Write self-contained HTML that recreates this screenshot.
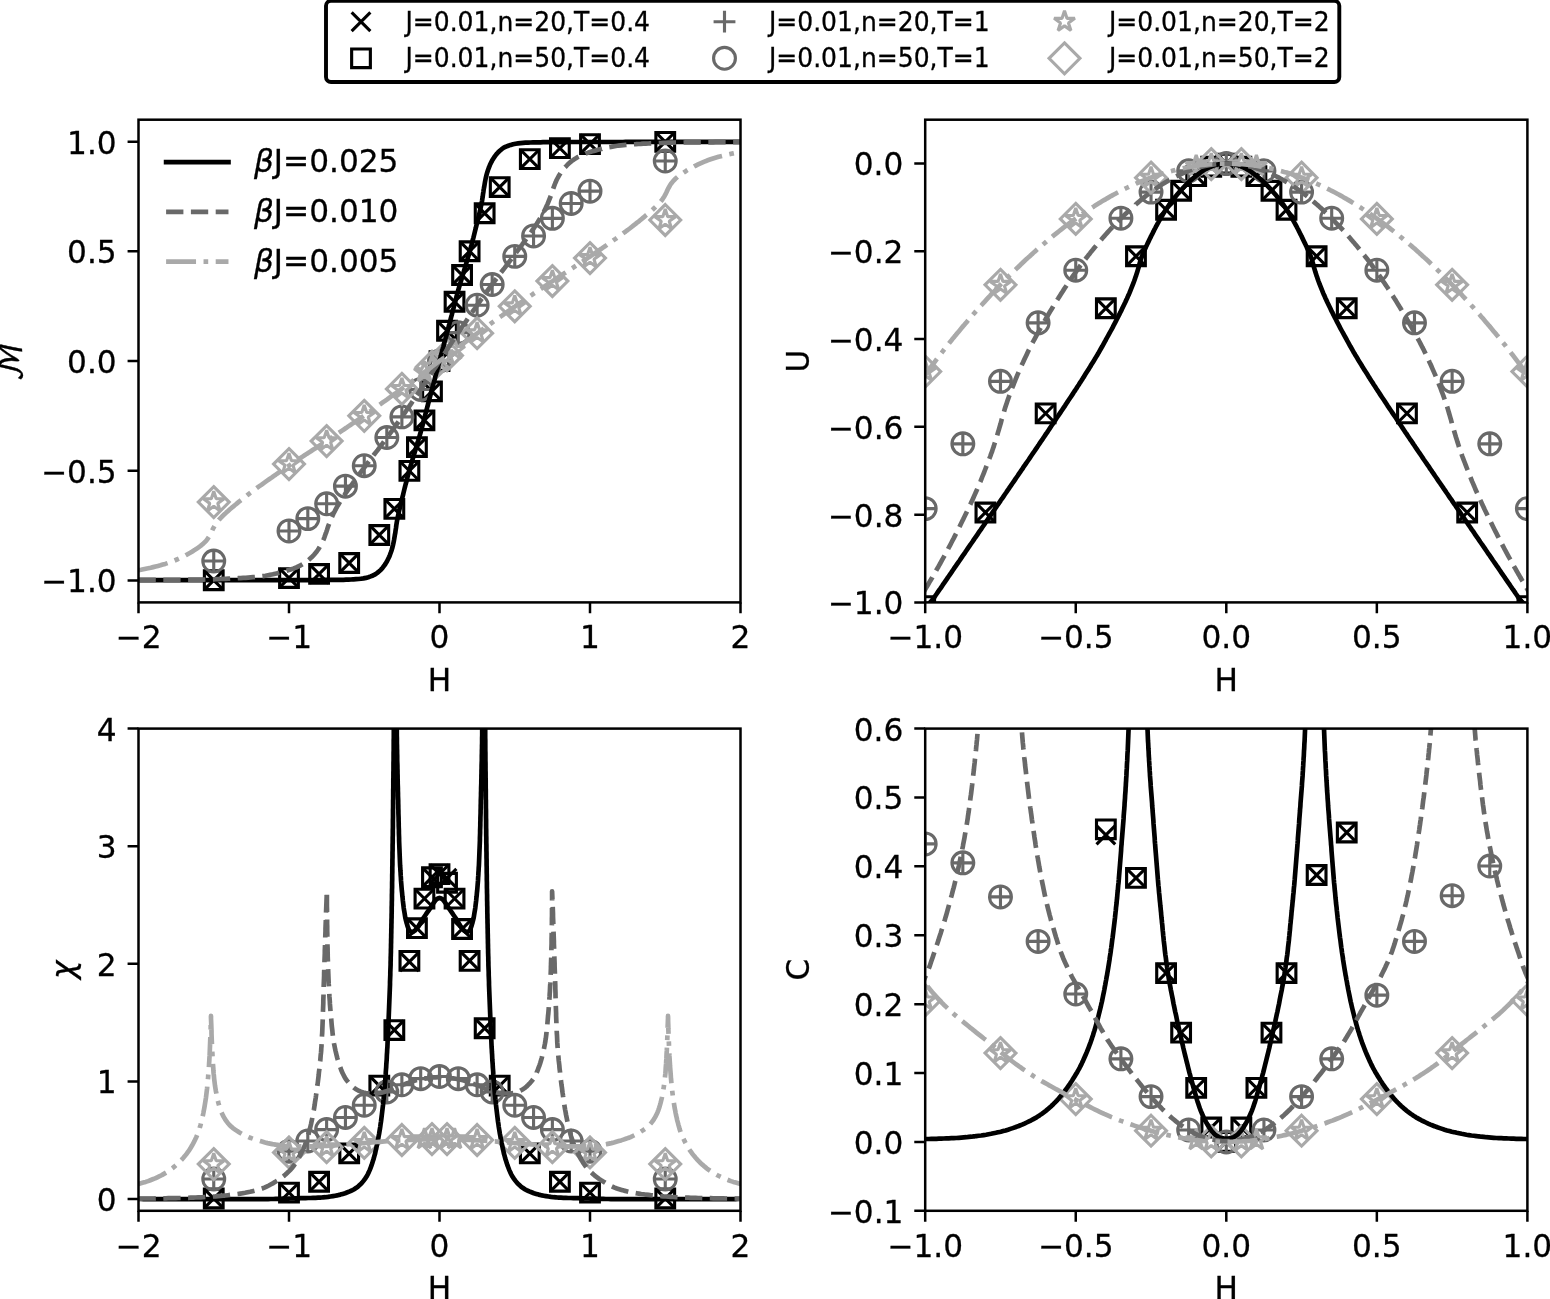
<!DOCTYPE html>
<html lang="en">
<head>
<meta charset="utf-8">
<title>Magnetization, energy, susceptibility and specific heat vs H</title>
<style>
html,body{margin:0;padding:0;background:#fff;}
body{width:1550px;height:1299px;overflow:hidden;}
svg{display:block;}
text{font-family:"DejaVu Sans","Liberation Sans",sans-serif;fill:#000;stroke:#000;stroke-width:0.3px;}
.tk{font-size:31.19px;}
.lg{font-size:24.95px;}
.it{font-size:31.19px;font-style:italic;}
.it2{font-style:italic;}
.cal{font-family:"DejaVu Math TeX Gyre","DejaVu Sans","Liberation Serif",serif;font-size:31.2px;}
</style>
</head>
<body>
<svg width="1550" height="1299" viewBox="0 0 1550 1299">
<rect width="1550" height="1299" fill="#fff"/>
<defs>
<clipPath id="cTL"><rect x="138.5" y="119.7" width="602" height="482.7"/></clipPath>
<clipPath id="cTR"><rect x="925.2" y="119.7" width="602.2" height="482.7"/></clipPath>
<clipPath id="cBL"><rect x="138.5" y="728.6" width="602" height="482.2"/></clipPath>
<clipPath id="cBR"><rect x="925.2" y="728.6" width="602.2" height="482.2"/></clipPath>
</defs>
<g id="axTL">
<g clip-path="url(#cTL)">
<g fill="none" stroke="#000000" stroke-width="3.12" stroke-linejoin="miter">
<path transform="translate(213.75 580.26)" d="M-9.36 -9.36L9.36 9.36M-9.36 9.36L9.36 -9.36"/>
<path transform="translate(289 578.05)" d="M-9.36 -9.36L9.36 9.36M-9.36 9.36L9.36 -9.36"/>
<path transform="translate(319.1 573.94)" d="M-9.36 -9.36L9.36 9.36M-9.36 9.36L9.36 -9.36"/>
<path transform="translate(349.2 563.01)" d="M-9.36 -9.36L9.36 9.36M-9.36 9.36L9.36 -9.36"/>
<path transform="translate(379.3 535.03)" d="M-9.36 -9.36L9.36 9.36M-9.36 9.36L9.36 -9.36"/>
<path transform="translate(394.35 508.85)" d="M-9.36 -9.36L9.36 9.36M-9.36 9.36L9.36 -9.36"/>
<path transform="translate(409.4 470.88)" d="M-9.36 -9.36L9.36 9.36M-9.36 9.36L9.36 -9.36"/>
<path transform="translate(416.93 447.07)" d="M-9.36 -9.36L9.36 9.36M-9.36 9.36L9.36 -9.36"/>
<path transform="translate(424.45 420.32)" d="M-9.36 -9.36L9.36 9.36M-9.36 9.36L9.36 -9.36"/>
<path transform="translate(431.97 391.31)" d="M-9.36 -9.36L9.36 9.36M-9.36 9.36L9.36 -9.36"/>
<path transform="translate(439.5 361.05)" d="M-9.36 -9.36L9.36 9.36M-9.36 9.36L9.36 -9.36"/>
<path transform="translate(447.02 330.79)" d="M-9.36 -9.36L9.36 9.36M-9.36 9.36L9.36 -9.36"/>
<path transform="translate(454.55 301.78)" d="M-9.36 -9.36L9.36 9.36M-9.36 9.36L9.36 -9.36"/>
<path transform="translate(462.07 275.03)" d="M-9.36 -9.36L9.36 9.36M-9.36 9.36L9.36 -9.36"/>
<path transform="translate(469.6 251.22)" d="M-9.36 -9.36L9.36 9.36M-9.36 9.36L9.36 -9.36"/>
<path transform="translate(484.65 213.25)" d="M-9.36 -9.36L9.36 9.36M-9.36 9.36L9.36 -9.36"/>
<path transform="translate(499.7 187.07)" d="M-9.36 -9.36L9.36 9.36M-9.36 9.36L9.36 -9.36"/>
<path transform="translate(529.8 159.09)" d="M-9.36 -9.36L9.36 9.36M-9.36 9.36L9.36 -9.36"/>
<path transform="translate(559.9 148.16)" d="M-9.36 -9.36L9.36 9.36M-9.36 9.36L9.36 -9.36"/>
<path transform="translate(590 144.05)" d="M-9.36 -9.36L9.36 9.36M-9.36 9.36L9.36 -9.36"/>
<path transform="translate(665.25 141.84)" d="M-9.36 -9.36L9.36 9.36M-9.36 9.36L9.36 -9.36"/>
</g>
<g fill="none" stroke="#000000" stroke-width="3.12" stroke-linejoin="miter">
<path transform="translate(213.75 580.26)" d="M-9.36 -9.36H9.36V9.36H-9.36Z"/>
<path transform="translate(289 578.05)" d="M-9.36 -9.36H9.36V9.36H-9.36Z"/>
<path transform="translate(319.1 573.94)" d="M-9.36 -9.36H9.36V9.36H-9.36Z"/>
<path transform="translate(349.2 563.01)" d="M-9.36 -9.36H9.36V9.36H-9.36Z"/>
<path transform="translate(379.3 535.03)" d="M-9.36 -9.36H9.36V9.36H-9.36Z"/>
<path transform="translate(394.35 508.85)" d="M-9.36 -9.36H9.36V9.36H-9.36Z"/>
<path transform="translate(409.4 470.88)" d="M-9.36 -9.36H9.36V9.36H-9.36Z"/>
<path transform="translate(416.93 447.07)" d="M-9.36 -9.36H9.36V9.36H-9.36Z"/>
<path transform="translate(424.45 420.32)" d="M-9.36 -9.36H9.36V9.36H-9.36Z"/>
<path transform="translate(431.97 391.31)" d="M-9.36 -9.36H9.36V9.36H-9.36Z"/>
<path transform="translate(439.5 361.05)" d="M-9.36 -9.36H9.36V9.36H-9.36Z"/>
<path transform="translate(447.02 330.79)" d="M-9.36 -9.36H9.36V9.36H-9.36Z"/>
<path transform="translate(454.55 301.78)" d="M-9.36 -9.36H9.36V9.36H-9.36Z"/>
<path transform="translate(462.07 275.03)" d="M-9.36 -9.36H9.36V9.36H-9.36Z"/>
<path transform="translate(469.6 251.22)" d="M-9.36 -9.36H9.36V9.36H-9.36Z"/>
<path transform="translate(484.65 213.25)" d="M-9.36 -9.36H9.36V9.36H-9.36Z"/>
<path transform="translate(499.7 187.07)" d="M-9.36 -9.36H9.36V9.36H-9.36Z"/>
<path transform="translate(529.8 159.09)" d="M-9.36 -9.36H9.36V9.36H-9.36Z"/>
<path transform="translate(559.9 148.16)" d="M-9.36 -9.36H9.36V9.36H-9.36Z"/>
<path transform="translate(590 144.05)" d="M-9.36 -9.36H9.36V9.36H-9.36Z"/>
<path transform="translate(665.25 141.84)" d="M-9.36 -9.36H9.36V9.36H-9.36Z"/>
</g>
<g fill="none" stroke="#696969" stroke-width="3.12" stroke-linejoin="miter">
<path transform="translate(213.75 561.05)" d="M-10.92 0H10.92M0 -10.92V10.92"/>
<path transform="translate(289 530.94)" d="M-10.92 0H10.92M0 -10.92V10.92"/>
<path transform="translate(307.81 518.61)" d="M-10.92 0H10.92M0 -10.92V10.92"/>
<path transform="translate(326.62 503.76)" d="M-10.92 0H10.92M0 -10.92V10.92"/>
<path transform="translate(345.44 486.16)" d="M-10.92 0H10.92M0 -10.92V10.92"/>
<path transform="translate(364.25 465.71)" d="M-10.92 0H10.92M0 -10.92V10.92"/>
<path transform="translate(386.82 437.55)" d="M-10.92 0H10.92M0 -10.92V10.92"/>
<path transform="translate(401.88 416.88)" d="M-10.92 0H10.92M0 -10.92V10.92"/>
<path transform="translate(420.69 389.45)" d="M-10.92 0H10.92M0 -10.92V10.92"/>
<path transform="translate(439.5 361.05)" d="M-10.92 0H10.92M0 -10.92V10.92"/>
<path transform="translate(458.31 332.65)" d="M-10.92 0H10.92M0 -10.92V10.92"/>
<path transform="translate(477.12 305.22)" d="M-10.92 0H10.92M0 -10.92V10.92"/>
<path transform="translate(492.18 284.55)" d="M-10.92 0H10.92M0 -10.92V10.92"/>
<path transform="translate(514.75 256.39)" d="M-10.92 0H10.92M0 -10.92V10.92"/>
<path transform="translate(533.56 235.94)" d="M-10.92 0H10.92M0 -10.92V10.92"/>
<path transform="translate(552.38 218.34)" d="M-10.92 0H10.92M0 -10.92V10.92"/>
<path transform="translate(571.19 203.49)" d="M-10.92 0H10.92M0 -10.92V10.92"/>
<path transform="translate(590 191.16)" d="M-10.92 0H10.92M0 -10.92V10.92"/>
<path transform="translate(665.25 161.05)" d="M-10.92 0H10.92M0 -10.92V10.92"/>
</g>
<g fill="none" stroke="#696969" stroke-width="3.12" stroke-linejoin="round">
<path transform="translate(213.75 561.05)" d="M-10.92 0A10.92 10.92 0 1 0 10.92 0A10.92 10.92 0 1 0 -10.92 0Z"/>
<path transform="translate(289 530.94)" d="M-10.92 0A10.92 10.92 0 1 0 10.92 0A10.92 10.92 0 1 0 -10.92 0Z"/>
<path transform="translate(307.81 518.61)" d="M-10.92 0A10.92 10.92 0 1 0 10.92 0A10.92 10.92 0 1 0 -10.92 0Z"/>
<path transform="translate(326.62 503.76)" d="M-10.92 0A10.92 10.92 0 1 0 10.92 0A10.92 10.92 0 1 0 -10.92 0Z"/>
<path transform="translate(345.44 486.16)" d="M-10.92 0A10.92 10.92 0 1 0 10.92 0A10.92 10.92 0 1 0 -10.92 0Z"/>
<path transform="translate(364.25 465.71)" d="M-10.92 0A10.92 10.92 0 1 0 10.92 0A10.92 10.92 0 1 0 -10.92 0Z"/>
<path transform="translate(386.82 437.55)" d="M-10.92 0A10.92 10.92 0 1 0 10.92 0A10.92 10.92 0 1 0 -10.92 0Z"/>
<path transform="translate(401.88 416.88)" d="M-10.92 0A10.92 10.92 0 1 0 10.92 0A10.92 10.92 0 1 0 -10.92 0Z"/>
<path transform="translate(420.69 389.45)" d="M-10.92 0A10.92 10.92 0 1 0 10.92 0A10.92 10.92 0 1 0 -10.92 0Z"/>
<path transform="translate(439.5 361.05)" d="M-10.92 0A10.92 10.92 0 1 0 10.92 0A10.92 10.92 0 1 0 -10.92 0Z"/>
<path transform="translate(458.31 332.65)" d="M-10.92 0A10.92 10.92 0 1 0 10.92 0A10.92 10.92 0 1 0 -10.92 0Z"/>
<path transform="translate(477.12 305.22)" d="M-10.92 0A10.92 10.92 0 1 0 10.92 0A10.92 10.92 0 1 0 -10.92 0Z"/>
<path transform="translate(492.18 284.55)" d="M-10.92 0A10.92 10.92 0 1 0 10.92 0A10.92 10.92 0 1 0 -10.92 0Z"/>
<path transform="translate(514.75 256.39)" d="M-10.92 0A10.92 10.92 0 1 0 10.92 0A10.92 10.92 0 1 0 -10.92 0Z"/>
<path transform="translate(533.56 235.94)" d="M-10.92 0A10.92 10.92 0 1 0 10.92 0A10.92 10.92 0 1 0 -10.92 0Z"/>
<path transform="translate(552.38 218.34)" d="M-10.92 0A10.92 10.92 0 1 0 10.92 0A10.92 10.92 0 1 0 -10.92 0Z"/>
<path transform="translate(571.19 203.49)" d="M-10.92 0A10.92 10.92 0 1 0 10.92 0A10.92 10.92 0 1 0 -10.92 0Z"/>
<path transform="translate(590 191.16)" d="M-10.92 0A10.92 10.92 0 1 0 10.92 0A10.92 10.92 0 1 0 -10.92 0Z"/>
<path transform="translate(665.25 161.05)" d="M-10.92 0A10.92 10.92 0 1 0 10.92 0A10.92 10.92 0 1 0 -10.92 0Z"/>
</g>
<g fill="none" stroke="#a9a9a9" stroke-width="3.12" stroke-linejoin="bevel">
<path transform="translate(213.75 502.08)" d="M0 -10.92L-2.45 -3.37L-10.38 -3.37L-3.97 1.29L-6.42 8.83L-0 4.17L6.42 8.83L3.97 1.29L10.38 -3.37L2.45 -3.37Z"/>
<path transform="translate(289 464.06)" d="M0 -10.92L-2.45 -3.37L-10.38 -3.37L-3.97 1.29L-6.42 8.83L-0 4.17L6.42 8.83L3.97 1.29L10.38 -3.37L2.45 -3.37Z"/>
<path transform="translate(326.62 441.07)" d="M0 -10.92L-2.45 -3.37L-10.38 -3.37L-3.97 1.29L-6.42 8.83L-0 4.17L6.42 8.83L3.97 1.29L10.38 -3.37L2.45 -3.37Z"/>
<path transform="translate(364.25 415.82)" d="M0 -10.92L-2.45 -3.37L-10.38 -3.37L-3.97 1.29L-6.42 8.83L-0 4.17L6.42 8.83L3.97 1.29L10.38 -3.37L2.45 -3.37Z"/>
<path transform="translate(401.88 388.88)" d="M0 -10.92L-2.45 -3.37L-10.38 -3.37L-3.97 1.29L-6.42 8.83L-0 4.17L6.42 8.83L3.97 1.29L10.38 -3.37L2.45 -3.37Z"/>
<path transform="translate(424.45 372.23)" d="M0 -10.92L-2.45 -3.37L-10.38 -3.37L-3.97 1.29L-6.42 8.83L-0 4.17L6.42 8.83L3.97 1.29L10.38 -3.37L2.45 -3.37Z"/>
<path transform="translate(431.97 366.65)" d="M0 -10.92L-2.45 -3.37L-10.38 -3.37L-3.97 1.29L-6.42 8.83L-0 4.17L6.42 8.83L3.97 1.29L10.38 -3.37L2.45 -3.37Z"/>
<path transform="translate(447.02 355.45)" d="M0 -10.92L-2.45 -3.37L-10.38 -3.37L-3.97 1.29L-6.42 8.83L-0 4.17L6.42 8.83L3.97 1.29L10.38 -3.37L2.45 -3.37Z"/>
<path transform="translate(454.55 349.87)" d="M0 -10.92L-2.45 -3.37L-10.38 -3.37L-3.97 1.29L-6.42 8.83L-0 4.17L6.42 8.83L3.97 1.29L10.38 -3.37L2.45 -3.37Z"/>
<path transform="translate(477.12 333.22)" d="M0 -10.92L-2.45 -3.37L-10.38 -3.37L-3.97 1.29L-6.42 8.83L-0 4.17L6.42 8.83L3.97 1.29L10.38 -3.37L2.45 -3.37Z"/>
<path transform="translate(514.75 306.28)" d="M0 -10.92L-2.45 -3.37L-10.38 -3.37L-3.97 1.29L-6.42 8.83L-0 4.17L6.42 8.83L3.97 1.29L10.38 -3.37L2.45 -3.37Z"/>
<path transform="translate(552.38 281.03)" d="M0 -10.92L-2.45 -3.37L-10.38 -3.37L-3.97 1.29L-6.42 8.83L-0 4.17L6.42 8.83L3.97 1.29L10.38 -3.37L2.45 -3.37Z"/>
<path transform="translate(590 258.04)" d="M0 -10.92L-2.45 -3.37L-10.38 -3.37L-3.97 1.29L-6.42 8.83L-0 4.17L6.42 8.83L3.97 1.29L10.38 -3.37L2.45 -3.37Z"/>
<path transform="translate(665.25 220.02)" d="M0 -10.92L-2.45 -3.37L-10.38 -3.37L-3.97 1.29L-6.42 8.83L-0 4.17L6.42 8.83L3.97 1.29L10.38 -3.37L2.45 -3.37Z"/>
</g>
<g fill="none" stroke="#a9a9a9" stroke-width="3.12" stroke-linejoin="miter">
<path transform="translate(213.75 502.08)" d="M0 -15.44L15.44 0L0 15.44L-15.44 0Z"/>
<path transform="translate(289 464.06)" d="M0 -15.44L15.44 0L0 15.44L-15.44 0Z"/>
<path transform="translate(326.62 441.07)" d="M0 -15.44L15.44 0L0 15.44L-15.44 0Z"/>
<path transform="translate(364.25 415.82)" d="M0 -15.44L15.44 0L0 15.44L-15.44 0Z"/>
<path transform="translate(401.88 388.88)" d="M0 -15.44L15.44 0L0 15.44L-15.44 0Z"/>
<path transform="translate(431.97 366.65)" d="M0 -15.44L15.44 0L0 15.44L-15.44 0Z"/>
<path transform="translate(447.02 355.45)" d="M0 -15.44L15.44 0L0 15.44L-15.44 0Z"/>
<path transform="translate(477.12 333.22)" d="M0 -15.44L15.44 0L0 15.44L-15.44 0Z"/>
<path transform="translate(514.75 306.28)" d="M0 -15.44L15.44 0L0 15.44L-15.44 0Z"/>
<path transform="translate(552.38 281.03)" d="M0 -15.44L15.44 0L0 15.44L-15.44 0Z"/>
<path transform="translate(590 258.04)" d="M0 -15.44L15.44 0L0 15.44L-15.44 0Z"/>
<path transform="translate(665.25 220.02)" d="M0 -15.44L15.44 0L0 15.44L-15.44 0Z"/>
</g>
<path d="M138.5 580.2 141 580.2 143.5 580.2 146 580.2 148.5 580.2 151 580.2 153.5 580.2 156 580.2 158.5 580.2 161 580.2 163.5 580.2 166 580.2 168.5 580.2 171 580.2 173.5 580.2 176 580.2 178.5 580.2 181 580.2 183.5 580.2 186 580.2 188.5 580.2 191 580.2 193.5 580.2 196 580.2 198.5 580.2 201 580.2 203.5 580.2 206 580.2 208.5 580.2 211 580.2 213.5 580.2 213.8 580.2 216 580.2 218.5 580.2 221 580.2 223.5 580.2 226 580.2 228.5 580.2 231 580.2 233.5 580.2 236 580.2 238.5 580.2 241 580.2 243.5 580.2 246 580.2 248.5 580.2 251 580.2 253.5 580.2 256 580.1 258.5 580.1 261 580.1 263.5 580.1 266 580.1 268.5 580.1 271 580.1 273.5 580.1 276 580.1 278.5 580.1 281 580.1 283.5 580.1 286 580.1 288.5 580.1 289 580.1 291 580.1 293.5 580.1 296 580.1 298.5 580.1 301 580.1 303.5 580.1 306 580.1 308.5 580.1 311 580 313.5 580 316 580 318.5 580 321 580 323.5 580 326 579.9 328.5 579.9 331 579.9 332.4 579.9 333.5 579.9 336 579.9 338.5 579.8 341 579.8 342.7 579.8 343.5 579.8 346 579.7 348.5 579.6 351 579.5 353 579.4 353.5 579.4 356 579.2 358.5 579 361 578.7 363.4 578.4 363.4 578.4 365.9 577.9 368.3 577.2 370.7 576.4 373 575.5 373.6 575.2 375.2 574.4 377.3 572.9 379.2 571.3 380.5 570.1 381 569.6 382.7 567.7 384.2 565.7 385.6 563.6 385.9 563.1 386.9 561.5 388 559.3 389.1 557 389.8 555.3 390 554.7 390.9 552.3 391.7 549.9 392.4 547.5 392.9 545.4 393 545.1 393.5 542.7 394 540.2 394.4 537.8 394.8 535.3 395.1 533.7 395.3 532.8 395.6 530.3 396 527.9 396.3 525.4 396.7 522.9 397 521 397.1 520.5 397.6 518 398.1 515.6 398.6 513.1 399.1 510.7 399.6 508.8 399.7 508.2 400.3 505.8 400.9 503.4 401.5 500.9 402.1 498.5 402.7 496.1 403.2 494.3 403.3 493.7 403.9 491.3 404.5 488.8 405.1 486.4 405.7 484 406.4 481.6 407 479.1 407.6 476.7 407.9 475.7 408.3 474.3 408.9 471.9 409.6 469.5 410.3 467.1 411 464.7 411.1 464.4 411.7 462.3 412.4 459.9 413.1 457.5 413.8 455.1 414.6 452.7 415.3 450.3 416 447.9 416 447.9 416.7 445.5 417.4 443.1 418.2 440.7 418.9 438.3 419.6 435.9 420.3 433.5 420.9 431.4 420.9 431.1 421.6 428.7 422.3 426.3 422.9 423.9 423.5 421.5 424.2 419.1 424.2 418.9 424.8 416.6 425.4 414.2 426.1 411.8 426.7 409.4 427.3 407 428 404.5 428.6 402.1 429.2 399.7 429.6 398.2 429.9 397.3 430.5 394.9 431.1 392.5 431.8 390 432.4 387.6 433.1 385.2 433.7 382.8 434.4 380.4 435 378 435.6 375.5 436.3 373.1 436.9 370.7 437.6 368.3 438.2 365.9 438.9 363.5 439.5 361.1 439.5 361 440.1 358.6 440.8 356.2 441.4 353.8 442.1 351.4 442.7 349 443.4 346.6 444 344.1 444.6 341.7 445.3 339.3 445.9 336.9 446.6 334.5 447.2 332.1 447.9 329.6 448.5 327.2 449.1 324.8 449.4 323.9 449.8 322.4 450.4 320 451 317.6 451.7 315.1 452.3 312.7 452.9 310.3 453.6 307.9 454.2 305.5 454.8 303.2 454.8 303 455.5 300.6 456.1 298.2 456.7 295.8 457.4 293.4 458.1 291 458.1 290.7 458.7 288.6 459.4 286.2 460.1 283.8 460.8 281.4 461.6 279 462.3 276.6 463 274.2 463 274.2 463.7 271.8 464.4 269.4 465.2 267 465.9 264.6 466.6 262.2 467.3 259.8 467.9 257.7 468 257.4 468.7 255 469.4 252.6 470.1 250.2 470.7 247.8 471.1 246.4 471.4 245.4 472 243 472.6 240.5 473.3 238.1 473.9 235.7 474.5 233.3 475.1 230.8 475.7 228.4 475.8 227.8 476.3 226 476.9 223.6 477.5 221.2 478.1 218.7 478.7 216.3 479.3 213.9 479.4 213.3 479.9 211.4 480.4 209 480.9 206.5 481.4 204.1 481.9 201.6 482 201.1 482.3 199.2 482.7 196.7 483 194.2 483.4 191.8 483.7 189.3 483.9 188.4 484.2 186.8 484.6 184.3 485 181.9 485.5 179.4 486 177 486.1 176.7 486.6 174.6 487.3 172.2 488.1 169.8 489 167.4 489.2 166.8 489.9 165.1 491 162.8 492.1 160.6 493.1 159 493.4 158.5 494.8 156.4 496.3 154.4 498 152.5 498.5 152 499.8 150.8 501.7 149.2 503.8 147.7 505.4 146.9 506 146.6 508.3 145.7 510.7 144.9 513.1 144.2 515.6 143.7 515.6 143.7 518 143.4 520.5 143.1 523 142.9 525.5 142.7 526 142.7 528 142.6 530.5 142.5 533 142.4 535.5 142.3 536.3 142.3 538 142.3 540.5 142.3 543 142.2 545.5 142.2 546.6 142.2 548 142.2 550.5 142.2 553 142.2 555.5 142.1 558 142.1 560.5 142.1 563 142.1 565.5 142.1 568 142.1 570.5 142 573 142 575.5 142 578 142 580.5 142 583 142 585.5 142 588 142 590 142 590.5 142 593 142 595.5 142 598 142 600.5 142 603 142 605.5 142 608 142 610.5 142 613 142 615.5 142 618 142 620.5 142 623 142 625.5 141.9 628 141.9 630.5 141.9 633 141.9 635.5 141.9 638 141.9 640.5 141.9 643 141.9 645.5 141.9 648 141.9 650.5 141.9 653 141.9 655.5 141.9 658 141.9 660.5 141.9 663 141.9 665.2 141.9 665.5 141.9 668 141.9 670.5 141.9 673 141.9 675.5 141.9 678 141.9 680.5 141.9 683 141.9 685.5 141.9 688 141.9 690.5 141.9 693 141.9 695.5 141.9 698 141.9 700.5 141.9 703 141.9 705.5 141.9 708 141.9 710.5 141.9 713 141.9 715.5 141.9 718 141.9 720.5 141.9 723 141.9 725.5 141.9 728 141.9 730.5 141.9 733 141.9 735.5 141.9 738 141.9 740.5 141.9" fill="none" stroke="#000000" stroke-width="4.68" stroke-linejoin="round" stroke-linecap="square"/>
<path d="M138.5 579.9 141 579.9 143.5 579.9 146 579.9 148.5 579.9 151 579.9 153.5 579.9 156 579.9 158.5 579.9 160.9 579.9 163.4 579.9 165.9 579.8 168.4 579.8 170.9 579.8 173.4 579.8 175.9 579.8 178.4 579.8 180.9 579.8 183.4 579.7 185.9 579.7 188.4 579.7 190.9 579.7 193.4 579.7 195.9 579.6 198.4 579.6 198.7 579.6 200.8 579.6 203.3 579.6 205.8 579.5 208.3 579.4 210.8 579.4 213.3 579.3 215.8 579.2 218.3 579.1 220.8 579 223.3 578.9 225.8 578.8 228.3 578.7 229 578.7 230.8 578.6 233.2 578.5 235.7 578.4 238.2 578.2 240.7 578.1 243.2 577.9 245.4 577.8 245.7 577.8 248.2 577.6 250.7 577.4 253 577.2 253.2 577.2 255.6 577 258.1 576.7 260.6 576.4 261.5 576.3 263.1 576.1 265.5 575.7 268 575.2 270 574.9 270.4 574.8 272.9 574.3 275.3 573.7 277.7 573.2 277.8 573.1 280.2 572.5 282.6 571.9 285 571.2 285.5 571.1 287.4 570.5 289.7 569.8 292.1 569 293.3 568.6 294.4 568.1 296.8 567.2 299 566.1 301 565.1 301.2 565 303.4 563.7 305.5 562.3 307.5 560.9 308 560.5 309.4 559.3 311.3 557.6 313 555.8 314.2 554.6 314.7 554 316.3 552.1 317.8 550 318.8 548.4 319.1 548 320.4 545.8 321.6 543.6 322.7 541.5 322.7 541.4 323.7 539.1 324.6 536.8 325.4 534.4 325.7 533.7 326.3 532.1 327.1 529.7 327.8 527.3 328.6 525.2 328.7 525 329.6 522.7 330.5 520.4 331.5 518 332.5 515.8 333.5 513.6 333.5 513.5 334.7 511.3 335.8 509.1 337 506.9 338.3 504.7 339.6 502.6 340.9 500.5 341.3 499.8 342.2 498.4 343.6 496.3 345 494.2 346.4 492.2 347.8 490.1 349.1 488.3 349.3 488.1 350.7 486.1 352.2 484 353.6 482 355.1 480 356.6 478 356.7 477.8 358 476 359.5 473.9 361 471.9 362.5 469.9 364 467.9 364.3 467.5 365.5 465.9 367 463.9 368.5 462 370 460 371.5 458 371.8 457.6 373 456 374.5 454 376 452.1 377.6 450.1 379.1 448.1 380.6 446.1 382.1 444.1 383.6 442.1 385.1 440.1 386.6 438.1 386.8 437.8 388 436.1 389.5 434.1 391 432.1 392.5 430.1 393.9 428.1 395.4 426 396.8 424 398.3 422 399.7 420 401.2 417.9 401.9 416.9 402.6 415.9 404 413.8 405.5 411.8 406.9 409.7 408.3 407.7 409.7 405.6 411.1 403.6 412.5 401.5 413.9 399.5 415.4 397.4 416.8 395.3 418.1 393.3 419.5 391.2 420.7 389.6 420.9 389.1 422.3 387.1 423.7 385 425.1 382.9 426.5 380.8 427.8 378.8 429.2 376.7 430.6 374.6 432 372.5 433.3 370.4 434.7 368.3 436.1 366.3 437.4 364.2 438.8 362.1 439.5 361 440.2 360 441.6 357.9 442.9 355.8 444.3 353.8 445.7 351.7 447 349.6 448.4 347.5 449.8 345.4 451.2 343.3 452.5 341.3 453.9 339.2 455.3 337.1 456.7 335 458.1 333 458.3 332.5 459.5 330.9 460.9 328.8 462.2 326.8 463.6 324.7 465.1 322.6 466.5 320.6 467.9 318.5 469.3 316.5 470.7 314.4 472.1 312.4 473.5 310.3 475 308.3 476.4 306.2 477.1 305.2 477.8 304.2 479.3 302.1 480.7 300.1 482.2 298.1 483.6 296.1 485.1 294 486.5 292 488 290 489.5 288 491 286 492.2 284.3 492.4 284 493.9 282 495.4 280 496.9 278 498.4 276 499.9 274 501.4 272 503 270 504.5 268.1 506 266.1 507.2 264.5 507.5 264.1 509 262.1 510.5 260.1 512 258.2 513.5 256.2 514.7 254.6 515 254.2 516.5 252.2 518 250.2 519.5 248.2 521 246.1 522.3 244.3 522.4 244.1 523.9 242.1 525.4 240.1 526.8 238.1 528.3 236 529.7 234 529.9 233.8 531.2 232 532.6 229.9 534 227.9 535.4 225.8 536.8 223.7 537.7 222.3 538.1 221.6 539.4 219.5 540.7 217.4 542 215.2 543.2 213 544.3 210.8 545.5 208.6 545.5 208.5 546.5 206.3 547.5 204.1 548.5 201.7 549.4 199.4 550.3 197.1 550.4 196.9 551.2 194.8 551.9 192.4 552.7 190 553.3 188.4 553.6 187.7 554.4 185.3 555.3 183 556.3 180.7 556.3 180.6 557.4 178.5 558.6 176.3 559.9 174.1 560.2 173.7 561.2 172.1 562.7 170 564.3 168.1 564.8 167.5 566 166.3 567.7 164.5 569.6 162.8 571 161.6 571.5 161.2 573.5 159.8 575.6 158.4 577.8 157.1 578 157 580 156 582.2 154.9 584.6 154 585.7 153.5 586.9 153.1 589.3 152.3 591.6 151.6 593.5 151 594 150.9 596.4 150.2 598.8 149.6 601.2 149 601.3 148.9 603.7 148.4 606.1 147.8 608.6 147.3 609 147.2 611 146.9 613.5 146.4 615.9 146 617.5 145.8 618.4 145.7 620.9 145.4 623.4 145.1 625.8 144.9 626 144.9 628.3 144.7 630.8 144.5 633.3 144.3 633.6 144.3 635.8 144.2 638.3 144 640.8 143.9 643.3 143.7 645.8 143.6 648.2 143.5 650 143.4 650.7 143.4 653.2 143.3 655.7 143.2 658.2 143.1 660.7 143 663.2 142.9 665.7 142.8 668.2 142.7 670.7 142.7 673.2 142.6 675.7 142.5 678.2 142.5 680.3 142.5 680.6 142.5 683.1 142.5 685.6 142.4 688.1 142.4 690.6 142.4 693.1 142.4 695.6 142.4 698.1 142.3 700.6 142.3 703.1 142.3 705.6 142.3 708.1 142.3 710.6 142.3 713.1 142.3 715.6 142.2 718.1 142.2 720.5 142.2 723 142.2 725.5 142.2 728 142.2 730.5 142.2 733 142.2 735.5 142.2 738 142.2 740.5 142.2" fill="none" stroke="#696969" stroke-width="4.68" stroke-linejoin="round" stroke-dasharray="17.31 7.49"/>
<path d="M138.5 570.1 141 569.7 143.4 569.2 145.8 568.7 147.9 568.3 148.3 568.2 150.7 567.7 153.2 567.1 155.6 566.5 158 565.9 158 565.9 160.4 565.3 162.8 564.6 165.2 563.9 167.6 563.1 169.9 562.3 171.9 561.6 172.3 561.4 174.6 560.5 176.9 559.5 179.1 558.5 181.4 557.4 183.6 556.3 184.4 556 185.8 555.2 188 554 190.2 552.8 192.4 551.5 193.5 550.7 194.5 550.1 196.5 548.8 198.6 547.3 200.6 545.9 202.5 544.3 203 543.9 204.3 542.6 206.1 540.8 207.6 538.8 208 538.3 209 536.8 210.2 534.6 211.1 533 211.4 532.4 212.4 530.1 213.5 527.8 213.7 527.5 214.7 525.7 216.1 523.5 217.5 521.5 217.7 521.3 219.1 519.6 220.8 517.8 222.6 516 224.4 514.3 225.7 513.1 226.2 512.6 228.1 510.9 229.9 509.3 231.8 507.7 233.8 506.1 234.4 505.5 235.7 504.5 237.6 502.9 239.5 501.3 241.5 499.8 243.4 498.2 245.4 496.7 247.4 495.1 249.3 493.6 251.3 492.1 251.6 491.9 253.3 490.6 255.3 489.2 257.3 487.7 259.4 486.2 261.4 484.8 263.4 483.3 265.4 481.9 267.5 480.4 269.5 479 271.6 477.6 273.6 476.1 275.7 474.7 277.7 473.3 279.8 471.9 281.8 470.5 283.9 469.1 286 467.7 288 466.3 289 465.6 290.1 464.9 292.1 463.5 294.2 462.1 296.3 460.7 298.4 459.4 300.5 458 302.6 456.6 304.6 455.3 306.7 453.9 308.8 452.6 310.9 451.2 313 449.8 315.1 448.5 317.2 447.1 319.3 445.8 321.4 444.4 323.4 443 325.5 441.6 326.6 440.9 327.6 440.3 329.7 438.9 331.7 437.5 333.8 436.1 335.9 434.7 338 433.3 340 432 342.1 430.6 344.2 429.2 346.3 427.8 348.3 426.4 350.4 425 352.4 423.6 354.5 422.2 356.6 420.8 358.6 419.4 360.7 418 362.7 416.6 364.2 415.5 364.8 415.1 366.8 413.7 368.9 412.3 370.9 410.9 372.9 409.4 375 408 377 406.5 379.1 405.1 381.1 403.7 383.1 402.2 385.1 400.8 387.2 399.3 389.2 397.8 391.2 396.4 393.2 394.9 395.3 393.5 397.3 392 399.3 390.6 401.3 389.1 401.9 388.7 403.3 387.6 405.4 386.2 407.4 384.7 409.4 383.2 411.4 381.8 413.4 380.3 415.4 378.8 417.4 377.3 419.4 375.8 421.4 374.4 423.4 372.9 425.5 371.4 427.5 369.9 429.5 368.4 431.5 367 433.5 365.5 435.5 364 437.5 362.5 439.5 361 439.5 361 441.5 359.6 443.5 358.1 445.5 356.6 447.5 355.1 449.5 353.7 451.5 352.2 453.5 350.7 455.6 349.2 457.6 347.7 459.6 346.3 461.6 344.8 463.6 343.3 465.6 341.8 467.6 340.3 469.6 338.9 471.6 337.4 473.6 335.9 475.7 334.5 477.1 333.4 477.7 333 479.7 331.5 481.7 330.1 483.7 328.6 485.8 327.2 487.8 325.7 489.8 324.3 491.8 322.8 493.9 321.3 495.9 319.9 497.9 318.4 499.9 317 502 315.6 504 314.1 506.1 312.7 508.1 311.2 510.1 309.8 512.2 308.4 514.2 307 514.8 306.6 516.3 305.5 518.3 304.1 520.4 302.7 522.4 301.3 524.5 299.9 526.6 298.5 528.6 297.1 530.7 295.7 532.7 294.3 534.8 292.9 536.9 291.5 539 290.1 541 288.8 543.1 287.4 545.2 286 547.3 284.6 549.3 283.2 551.4 281.8 552.4 281.2 553.5 280.5 555.6 279.1 557.6 277.7 559.7 276.3 561.8 275 563.9 273.6 566 272.3 568.1 270.9 570.2 269.5 572.3 268.2 574.4 266.8 576.4 265.5 578.5 264.1 580.6 262.7 582.7 261.4 584.8 260 586.9 258.6 588.9 257.2 590 256.5 591 255.8 593 254.4 595.1 253 597.2 251.6 599.2 250.2 601.3 248.8 603.3 247.4 605.4 246 607.4 244.5 609.5 243.1 611.5 241.7 613.6 240.2 615.6 238.8 617.6 237.3 619.6 235.9 621.7 234.4 623.7 232.9 625.7 231.5 627.4 230.2 627.7 230 629.7 228.5 631.6 227 633.6 225.4 635.6 223.9 637.5 222.3 639.5 220.8 641.4 219.2 643.3 217.6 644.6 216.6 645.2 216 647.2 214.4 649.1 212.8 650.9 211.2 652.8 209.5 653.3 209 654.6 207.8 656.4 206.1 658.2 204.3 659.9 202.5 661.3 200.8 661.5 200.6 662.9 198.6 664.3 196.4 665.3 194.6 665.5 194.3 666.6 192 667.6 189.7 667.9 189.1 668.8 187.5 670 185.3 671 183.8 671.4 183.3 672.9 181.3 674.7 179.5 676 178.2 676.5 177.8 678.4 176.2 680.4 174.8 682.5 173.3 684.5 172 685.5 171.4 686.6 170.6 688.8 169.3 691 168.1 693.2 166.9 694.6 166.1 695.4 165.8 697.6 164.7 699.9 163.6 702.1 162.6 704.4 161.6 706.7 160.7 707.1 160.5 709.1 159.8 711.4 159 713.8 158.2 716.2 157.5 718.6 156.8 721 156.2 721 156.2 723.4 155.6 725.8 155 728.3 154.4 730.7 153.9 731.1 153.8 733.2 153.4 735.6 152.9 738 152.4 740.5 152" fill="none" stroke="#a9a9a9" stroke-width="4.68" stroke-linejoin="round" stroke-dasharray="29.94 7.49 4.68 7.49"/>
</g>
<path d="M138.5 602.4v10.92M289 602.4v10.92M439.5 602.4v10.92M590 602.4v10.92M740.5 602.4v10.92M138.5 580.46h-10.92M138.5 470.75h-10.92M138.5 361.05h-10.92M138.5 251.35h-10.92M138.5 141.64h-10.92" stroke="#000" stroke-width="2.5" fill="none"/>
<rect x="138.5" y="119.7" width="602" height="482.7" fill="none" stroke="#000" stroke-width="2.5" stroke-linejoin="miter"/>
<g class="tk" text-anchor="middle">
<text x="138.5" y="648.1">−2</text>
<text x="289" y="648.1">−1</text>
<text x="439.5" y="648.1">0</text>
<text x="590" y="648.1">1</text>
<text x="740.5" y="648.1">2</text>
</g>
<g class="tk" text-anchor="end">
<text x="116.7" y="592.36">−1.0</text>
<text x="116.7" y="482.65">−0.5</text>
<text x="116.7" y="372.95">0.0</text>
<text x="116.7" y="263.25">0.5</text>
<text x="116.7" y="153.54">1.0</text>
</g>
<text class="tk" text-anchor="middle" x="439.5" y="690.5">H</text>
<text class="cal" text-anchor="middle" transform="translate(21.8 362.05) rotate(-90)">ℳ</text>
</g>
<g id="axTR">
<g clip-path="url(#cTR)">
<g fill="none" stroke="#000000" stroke-width="3.12" stroke-linejoin="miter">
<path transform="translate(774.65 829.97)" d="M-9.36 -9.36L9.36 9.36M-9.36 9.36L9.36 -9.36"/>
<path transform="translate(925.2 606.16)" d="M-9.36 -9.36L9.36 9.36M-9.36 9.36L9.36 -9.36"/>
<path transform="translate(985.42 512.46)" d="M-9.36 -9.36L9.36 9.36M-9.36 9.36L9.36 -9.36"/>
<path transform="translate(1045.64 413.37)" d="M-9.36 -9.36L9.36 9.36M-9.36 9.36L9.36 -9.36"/>
<path transform="translate(1105.86 308.28)" d="M-9.36 -9.36L9.36 9.36M-9.36 9.36L9.36 -9.36"/>
<path transform="translate(1135.97 256.24)" d="M-9.36 -9.36L9.36 9.36M-9.36 9.36L9.36 -9.36"/>
<path transform="translate(1166.08 209.71)" d="M-9.36 -9.36L9.36 9.36M-9.36 9.36L9.36 -9.36"/>
<path transform="translate(1181.13 190.74)" d="M-9.36 -9.36L9.36 9.36M-9.36 9.36L9.36 -9.36"/>
<path transform="translate(1196.19 176.08)" d="M-9.36 -9.36L9.36 9.36M-9.36 9.36L9.36 -9.36"/>
<path transform="translate(1211.25 166.77)" d="M-9.36 -9.36L9.36 9.36M-9.36 9.36L9.36 -9.36"/>
<path transform="translate(1226.3 163.58)" d="M-9.36 -9.36L9.36 9.36M-9.36 9.36L9.36 -9.36"/>
<path transform="translate(1241.36 166.77)" d="M-9.36 -9.36L9.36 9.36M-9.36 9.36L9.36 -9.36"/>
<path transform="translate(1256.41 176.08)" d="M-9.36 -9.36L9.36 9.36M-9.36 9.36L9.36 -9.36"/>
<path transform="translate(1271.47 190.74)" d="M-9.36 -9.36L9.36 9.36M-9.36 9.36L9.36 -9.36"/>
<path transform="translate(1286.52 209.71)" d="M-9.36 -9.36L9.36 9.36M-9.36 9.36L9.36 -9.36"/>
<path transform="translate(1316.63 256.24)" d="M-9.36 -9.36L9.36 9.36M-9.36 9.36L9.36 -9.36"/>
<path transform="translate(1346.74 308.28)" d="M-9.36 -9.36L9.36 9.36M-9.36 9.36L9.36 -9.36"/>
<path transform="translate(1406.96 413.37)" d="M-9.36 -9.36L9.36 9.36M-9.36 9.36L9.36 -9.36"/>
<path transform="translate(1467.18 512.46)" d="M-9.36 -9.36L9.36 9.36M-9.36 9.36L9.36 -9.36"/>
<path transform="translate(1527.4 606.16)" d="M-9.36 -9.36L9.36 9.36M-9.36 9.36L9.36 -9.36"/>
<path transform="translate(1677.95 829.97)" d="M-9.36 -9.36L9.36 9.36M-9.36 9.36L9.36 -9.36"/>
</g>
<g fill="none" stroke="#000000" stroke-width="3.12" stroke-linejoin="miter">
<path transform="translate(774.65 829.97)" d="M-9.36 -9.36H9.36V9.36H-9.36Z"/>
<path transform="translate(925.2 606.16)" d="M-9.36 -9.36H9.36V9.36H-9.36Z"/>
<path transform="translate(985.42 512.46)" d="M-9.36 -9.36H9.36V9.36H-9.36Z"/>
<path transform="translate(1045.64 413.37)" d="M-9.36 -9.36H9.36V9.36H-9.36Z"/>
<path transform="translate(1105.86 308.28)" d="M-9.36 -9.36H9.36V9.36H-9.36Z"/>
<path transform="translate(1135.97 256.24)" d="M-9.36 -9.36H9.36V9.36H-9.36Z"/>
<path transform="translate(1166.08 209.71)" d="M-9.36 -9.36H9.36V9.36H-9.36Z"/>
<path transform="translate(1181.13 190.74)" d="M-9.36 -9.36H9.36V9.36H-9.36Z"/>
<path transform="translate(1196.19 176.08)" d="M-9.36 -9.36H9.36V9.36H-9.36Z"/>
<path transform="translate(1211.25 166.77)" d="M-9.36 -9.36H9.36V9.36H-9.36Z"/>
<path transform="translate(1226.3 163.58)" d="M-9.36 -9.36H9.36V9.36H-9.36Z"/>
<path transform="translate(1241.36 166.77)" d="M-9.36 -9.36H9.36V9.36H-9.36Z"/>
<path transform="translate(1256.41 176.08)" d="M-9.36 -9.36H9.36V9.36H-9.36Z"/>
<path transform="translate(1271.47 190.74)" d="M-9.36 -9.36H9.36V9.36H-9.36Z"/>
<path transform="translate(1286.52 209.71)" d="M-9.36 -9.36H9.36V9.36H-9.36Z"/>
<path transform="translate(1316.63 256.24)" d="M-9.36 -9.36H9.36V9.36H-9.36Z"/>
<path transform="translate(1346.74 308.28)" d="M-9.36 -9.36H9.36V9.36H-9.36Z"/>
<path transform="translate(1406.96 413.37)" d="M-9.36 -9.36H9.36V9.36H-9.36Z"/>
<path transform="translate(1467.18 512.46)" d="M-9.36 -9.36H9.36V9.36H-9.36Z"/>
<path transform="translate(1527.4 606.16)" d="M-9.36 -9.36H9.36V9.36H-9.36Z"/>
<path transform="translate(1677.95 829.97)" d="M-9.36 -9.36H9.36V9.36H-9.36Z"/>
</g>
<g fill="none" stroke="#696969" stroke-width="3.12" stroke-linejoin="miter">
<path transform="translate(774.65 770.86)" d="M-10.92 0H10.92M0 -10.92V10.92"/>
<path transform="translate(925.2 508.62)" d="M-10.92 0H10.92M0 -10.92V10.92"/>
<path transform="translate(962.84 443.84)" d="M-10.92 0H10.92M0 -10.92V10.92"/>
<path transform="translate(1000.48 381.35)" d="M-10.92 0H10.92M0 -10.92V10.92"/>
<path transform="translate(1038.11 322.82)" d="M-10.92 0H10.92M0 -10.92V10.92"/>
<path transform="translate(1075.75 270.23)" d="M-10.92 0H10.92M0 -10.92V10.92"/>
<path transform="translate(1120.91 218.2)" d="M-10.92 0H10.92M0 -10.92V10.92"/>
<path transform="translate(1151.03 192.07)" d="M-10.92 0H10.92M0 -10.92V10.92"/>
<path transform="translate(1188.66 170.83)" d="M-10.92 0H10.92M0 -10.92V10.92"/>
<path transform="translate(1226.3 163.58)" d="M-10.92 0H10.92M0 -10.92V10.92"/>
<path transform="translate(1263.94 170.83)" d="M-10.92 0H10.92M0 -10.92V10.92"/>
<path transform="translate(1301.58 192.07)" d="M-10.92 0H10.92M0 -10.92V10.92"/>
<path transform="translate(1331.69 218.2)" d="M-10.92 0H10.92M0 -10.92V10.92"/>
<path transform="translate(1376.85 270.23)" d="M-10.92 0H10.92M0 -10.92V10.92"/>
<path transform="translate(1414.49 322.82)" d="M-10.92 0H10.92M0 -10.92V10.92"/>
<path transform="translate(1452.12 381.35)" d="M-10.92 0H10.92M0 -10.92V10.92"/>
<path transform="translate(1489.76 443.84)" d="M-10.92 0H10.92M0 -10.92V10.92"/>
<path transform="translate(1527.4 508.62)" d="M-10.92 0H10.92M0 -10.92V10.92"/>
<path transform="translate(1677.95 770.86)" d="M-10.92 0H10.92M0 -10.92V10.92"/>
</g>
<g fill="none" stroke="#696969" stroke-width="3.12" stroke-linejoin="round">
<path transform="translate(774.65 770.86)" d="M-10.92 0A10.92 10.92 0 1 0 10.92 0A10.92 10.92 0 1 0 -10.92 0Z"/>
<path transform="translate(925.2 508.62)" d="M-10.92 0A10.92 10.92 0 1 0 10.92 0A10.92 10.92 0 1 0 -10.92 0Z"/>
<path transform="translate(962.84 443.84)" d="M-10.92 0A10.92 10.92 0 1 0 10.92 0A10.92 10.92 0 1 0 -10.92 0Z"/>
<path transform="translate(1000.48 381.35)" d="M-10.92 0A10.92 10.92 0 1 0 10.92 0A10.92 10.92 0 1 0 -10.92 0Z"/>
<path transform="translate(1038.11 322.82)" d="M-10.92 0A10.92 10.92 0 1 0 10.92 0A10.92 10.92 0 1 0 -10.92 0Z"/>
<path transform="translate(1075.75 270.23)" d="M-10.92 0A10.92 10.92 0 1 0 10.92 0A10.92 10.92 0 1 0 -10.92 0Z"/>
<path transform="translate(1120.91 218.2)" d="M-10.92 0A10.92 10.92 0 1 0 10.92 0A10.92 10.92 0 1 0 -10.92 0Z"/>
<path transform="translate(1151.03 192.07)" d="M-10.92 0A10.92 10.92 0 1 0 10.92 0A10.92 10.92 0 1 0 -10.92 0Z"/>
<path transform="translate(1188.66 170.83)" d="M-10.92 0A10.92 10.92 0 1 0 10.92 0A10.92 10.92 0 1 0 -10.92 0Z"/>
<path transform="translate(1226.3 163.58)" d="M-10.92 0A10.92 10.92 0 1 0 10.92 0A10.92 10.92 0 1 0 -10.92 0Z"/>
<path transform="translate(1263.94 170.83)" d="M-10.92 0A10.92 10.92 0 1 0 10.92 0A10.92 10.92 0 1 0 -10.92 0Z"/>
<path transform="translate(1301.58 192.07)" d="M-10.92 0A10.92 10.92 0 1 0 10.92 0A10.92 10.92 0 1 0 -10.92 0Z"/>
<path transform="translate(1331.69 218.2)" d="M-10.92 0A10.92 10.92 0 1 0 10.92 0A10.92 10.92 0 1 0 -10.92 0Z"/>
<path transform="translate(1376.85 270.23)" d="M-10.92 0A10.92 10.92 0 1 0 10.92 0A10.92 10.92 0 1 0 -10.92 0Z"/>
<path transform="translate(1414.49 322.82)" d="M-10.92 0A10.92 10.92 0 1 0 10.92 0A10.92 10.92 0 1 0 -10.92 0Z"/>
<path transform="translate(1452.12 381.35)" d="M-10.92 0A10.92 10.92 0 1 0 10.92 0A10.92 10.92 0 1 0 -10.92 0Z"/>
<path transform="translate(1489.76 443.84)" d="M-10.92 0A10.92 10.92 0 1 0 10.92 0A10.92 10.92 0 1 0 -10.92 0Z"/>
<path transform="translate(1527.4 508.62)" d="M-10.92 0A10.92 10.92 0 1 0 10.92 0A10.92 10.92 0 1 0 -10.92 0Z"/>
<path transform="translate(1677.95 770.86)" d="M-10.92 0A10.92 10.92 0 1 0 10.92 0A10.92 10.92 0 1 0 -10.92 0Z"/>
</g>
<g fill="none" stroke="#a9a9a9" stroke-width="3.12" stroke-linejoin="bevel">
<path transform="translate(774.65 590.29)" d="M0 -10.92L-2.45 -3.37L-10.38 -3.37L-3.97 1.29L-6.42 8.83L-0 4.17L6.42 8.83L3.97 1.29L10.38 -3.37L2.45 -3.37Z"/>
<path transform="translate(925.2 371.53)" d="M0 -10.92L-2.45 -3.37L-10.38 -3.37L-3.97 1.29L-6.42 8.83L-0 4.17L6.42 8.83L3.97 1.29L10.38 -3.37L2.45 -3.37Z"/>
<path transform="translate(1000.48 284.78)" d="M0 -10.92L-2.45 -3.37L-10.38 -3.37L-3.97 1.29L-6.42 8.83L-0 4.17L6.42 8.83L3.97 1.29L10.38 -3.37L2.45 -3.37Z"/>
<path transform="translate(1075.75 218.89)" d="M0 -10.92L-2.45 -3.37L-10.38 -3.37L-3.97 1.29L-6.42 8.83L-0 4.17L6.42 8.83L3.97 1.29L10.38 -3.37L2.45 -3.37Z"/>
<path transform="translate(1151.03 177.64)" d="M0 -10.92L-2.45 -3.37L-10.38 -3.37L-3.97 1.29L-6.42 8.83L-0 4.17L6.42 8.83L3.97 1.29L10.38 -3.37L2.45 -3.37Z"/>
<path transform="translate(1196.19 165.84)" d="M0 -10.92L-2.45 -3.37L-10.38 -3.37L-3.97 1.29L-6.42 8.83L-0 4.17L6.42 8.83L3.97 1.29L10.38 -3.37L2.45 -3.37Z"/>
<path transform="translate(1211.25 164.15)" d="M0 -10.92L-2.45 -3.37L-10.38 -3.37L-3.97 1.29L-6.42 8.83L-0 4.17L6.42 8.83L3.97 1.29L10.38 -3.37L2.45 -3.37Z"/>
<path transform="translate(1241.36 164.15)" d="M0 -10.92L-2.45 -3.37L-10.38 -3.37L-3.97 1.29L-6.42 8.83L-0 4.17L6.42 8.83L3.97 1.29L10.38 -3.37L2.45 -3.37Z"/>
<path transform="translate(1256.41 165.84)" d="M0 -10.92L-2.45 -3.37L-10.38 -3.37L-3.97 1.29L-6.42 8.83L-0 4.17L6.42 8.83L3.97 1.29L10.38 -3.37L2.45 -3.37Z"/>
<path transform="translate(1301.58 177.64)" d="M0 -10.92L-2.45 -3.37L-10.38 -3.37L-3.97 1.29L-6.42 8.83L-0 4.17L6.42 8.83L3.97 1.29L10.38 -3.37L2.45 -3.37Z"/>
<path transform="translate(1376.85 218.89)" d="M0 -10.92L-2.45 -3.37L-10.38 -3.37L-3.97 1.29L-6.42 8.83L-0 4.17L6.42 8.83L3.97 1.29L10.38 -3.37L2.45 -3.37Z"/>
<path transform="translate(1452.12 284.78)" d="M0 -10.92L-2.45 -3.37L-10.38 -3.37L-3.97 1.29L-6.42 8.83L-0 4.17L6.42 8.83L3.97 1.29L10.38 -3.37L2.45 -3.37Z"/>
<path transform="translate(1527.4 371.53)" d="M0 -10.92L-2.45 -3.37L-10.38 -3.37L-3.97 1.29L-6.42 8.83L-0 4.17L6.42 8.83L3.97 1.29L10.38 -3.37L2.45 -3.37Z"/>
<path transform="translate(1677.95 590.29)" d="M0 -10.92L-2.45 -3.37L-10.38 -3.37L-3.97 1.29L-6.42 8.83L-0 4.17L6.42 8.83L3.97 1.29L10.38 -3.37L2.45 -3.37Z"/>
</g>
<g fill="none" stroke="#a9a9a9" stroke-width="3.12" stroke-linejoin="miter">
<path transform="translate(774.65 590.29)" d="M0 -15.44L15.44 0L0 15.44L-15.44 0Z"/>
<path transform="translate(925.2 371.53)" d="M0 -15.44L15.44 0L0 15.44L-15.44 0Z"/>
<path transform="translate(1000.48 284.78)" d="M0 -15.44L15.44 0L0 15.44L-15.44 0Z"/>
<path transform="translate(1075.75 218.89)" d="M0 -15.44L15.44 0L0 15.44L-15.44 0Z"/>
<path transform="translate(1151.03 177.64)" d="M0 -15.44L15.44 0L0 15.44L-15.44 0Z"/>
<path transform="translate(1211.25 164.15)" d="M0 -15.44L15.44 0L0 15.44L-15.44 0Z"/>
<path transform="translate(1241.36 164.15)" d="M0 -15.44L15.44 0L0 15.44L-15.44 0Z"/>
<path transform="translate(1301.58 177.64)" d="M0 -15.44L15.44 0L0 15.44L-15.44 0Z"/>
<path transform="translate(1376.85 218.89)" d="M0 -15.44L15.44 0L0 15.44L-15.44 0Z"/>
<path transform="translate(1452.12 284.78)" d="M0 -15.44L15.44 0L0 15.44L-15.44 0Z"/>
<path transform="translate(1527.4 371.53)" d="M0 -15.44L15.44 0L0 15.44L-15.44 0Z"/>
<path transform="translate(1677.95 590.29)" d="M0 -15.44L15.44 0L0 15.44L-15.44 0Z"/>
</g>
<path d="M624.1 1048.7 625.5 1046.7 626.9 1044.6 628.3 1042.6 629.8 1040.5 631.2 1038.4 631.6 1037.8 632.6 1036.4 634 1034.3 635.4 1032.3 636.8 1030.2 638.3 1028.1 639.2 1026.8 639.7 1026.1 641.1 1024 642.5 1022 643.9 1019.9 645.3 1017.8 646.7 1015.9 646.7 1015.8 648.2 1013.7 649.6 1011.7 651 1009.6 652.4 1007.5 653.8 1005.5 654.2 1004.9 655.2 1003.4 656.7 1001.4 658.1 999.3 659.5 997.2 660.9 995.2 661.7 994 662.3 993.1 663.7 991.1 665.1 989 666.6 986.9 668 984.9 669.3 983 669.4 982.8 670.8 980.8 672.2 978.7 673.6 976.6 675.1 974.6 676.5 972.5 676.8 972.1 677.9 970.5 679.3 968.4 680.7 966.3 682.1 964.3 683.6 962.2 684.3 961.1 685 960.2 686.4 958.1 687.8 956 689.2 954 690.6 951.9 691.8 950.1 692 949.9 693.5 947.8 694.9 945.7 696.3 943.7 697.7 941.6 699.1 939.6 699.4 939.2 700.5 937.5 702 935.4 703.4 933.4 704.8 931.3 706.2 929.3 706.9 928.2 707.6 927.2 709 925.1 710.4 923.1 711.9 921 713.3 919 714.4 917.3 714.7 916.9 716.1 914.8 717.5 912.8 718.9 910.7 720.4 908.7 721.8 906.6 722 906.3 723.2 904.5 724.6 902.5 726 900.4 727.4 898.4 728.8 896.3 729.5 895.4 730.3 894.2 731.7 892.2 733.1 890.1 734.5 888.1 735.9 886 737 884.4 737.3 883.9 738.8 881.9 740.2 879.8 741.6 877.8 743 875.7 744.4 873.6 744.5 873.5 745.8 871.6 747.2 869.5 748.7 867.5 750.1 865.4 751.5 863.3 752.1 862.5 752.9 861.3 754.3 859.2 755.7 857.2 757.2 855.1 758.6 853 759.6 851.5 760 851 761.4 848.9 762.8 846.9 764.2 844.8 765.6 842.7 767.1 840.7 767.1 840.6 768.5 838.6 769.9 836.6 771.3 834.5 772.7 832.4 774.1 830.4 774.6 829.6 775.6 828.3 777 826.3 778.4 824.2 779.8 822.1 781.2 820.1 782.2 818.7 782.6 818 784 816 785.5 813.9 786.9 811.8 788.3 809.8 789.7 807.7 789.7 807.7 791.1 805.7 792.5 803.6 794 801.5 795.4 799.5 796.8 797.4 797.2 796.8 798.2 795.4 799.6 793.3 801 791.2 802.5 789.2 803.9 787.1 804.8 785.8 805.3 785.1 806.7 783 808.1 780.9 809.5 778.9 810.9 776.8 812.3 774.9 812.4 774.8 813.8 772.7 815.2 770.6 816.6 768.6 818 766.5 819.4 764.5 819.8 763.9 820.9 762.4 822.3 760.3 823.7 758.3 825.1 756.2 826.5 754.2 827.3 753 827.9 752.1 829.3 750 830.8 748 832.2 745.9 833.6 743.9 834.9 742 835 741.8 836.4 739.7 837.8 737.7 839.3 735.6 840.7 733.6 842.1 731.5 842.4 731 843.5 729.4 844.9 727.4 846.3 725.3 847.7 723.3 849.2 721.2 849.9 720.1 850.6 719.1 852 717.1 853.4 715 854.8 713 856.2 710.9 857.5 709.1 857.7 708.8 859.1 706.8 860.5 704.7 861.9 702.7 863.3 700.6 864.7 698.5 865 698.2 866.1 696.5 867.6 694.4 869 692.4 870.4 690.3 871.8 688.2 872.5 687.2 873.2 686.2 874.6 684.1 876.1 682.1 877.5 680 878.9 677.9 880 676.3 880.3 675.9 881.7 673.8 883.1 671.8 884.5 669.7 886 667.6 887.4 665.6 887.6 665.3 888.8 663.5 890.2 661.5 891.6 659.4 893 657.3 894.5 655.3 895.1 654.4 895.9 653.2 897.3 651.2 898.7 649.1 900.1 647 901.5 645 902.6 643.4 903 642.9 904.4 640.9 905.8 638.8 907.2 636.7 908.6 634.7 910 632.6 910.1 632.4 911.4 630.6 912.9 628.5 914.3 626.4 915.7 624.4 917.1 622.3 917.7 621.5 918.5 620.3 919.9 618.2 921.4 616.1 922.8 614.1 924.2 612 925.2 610.5 925.6 610 927 607.9 928.4 605.8 929.8 603.8 931.3 601.7 932.7 599.7 932.7 599.6 934.1 597.6 935.5 595.5 936.9 593.5 938.3 591.4 939.7 589.4 940.3 588.6 941.2 587.3 942.6 585.2 944 583.2 945.4 581.1 946.8 579.1 947.8 577.7 948.2 577 949.7 574.9 951.1 572.9 952.5 570.8 953.9 568.7 955.3 566.7 955.3 566.7 956.7 564.6 958.1 562.6 959.6 560.5 961 558.4 962.4 556.4 962.8 555.7 963.8 554.3 965.2 552.3 966.6 550.2 968 548.1 969.4 546.1 970.4 544.7 970.9 544 972.3 542 973.7 539.9 975.1 537.8 976.5 535.8 977.9 533.8 977.9 533.7 979.3 531.6 980.8 529.6 982.2 527.5 983.6 525.5 985 523.4 985.4 522.8 986.4 521.3 987.8 519.3 989.2 517.2 990.7 515.2 992.1 513.1 992.9 511.8 993.5 511 994.9 509 996.3 506.9 997.7 504.8 999.1 502.8 1000.5 500.8 1000.5 500.7 1002 498.7 1003.4 496.6 1004.8 494.5 1006.2 492.5 1007.6 490.4 1008 489.8 1009 488.4 1010.4 486.3 1011.9 484.2 1012 484 1013.3 482.2 1014.7 480.1 1015.5 478.9 1016.1 478 1017.5 476 1018.9 473.9 1020.3 471.9 1021.7 469.8 1023.1 467.8 1023.1 467.7 1024.5 465.7 1025.9 463.6 1027.4 461.5 1028.8 459.5 1030.2 457.4 1030.6 456.8 1031.6 455.3 1032.6 453.8 1033 453.3 1034.4 451.2 1035.8 449.1 1037.2 447.1 1038.1 445.7 1038.6 445 1040 442.9 1041.4 440.8 1042.8 438.8 1044.2 436.7 1045.6 434.6 1045.6 434.5 1047 432.6 1048.4 430.5 1049.8 428.4 1051.2 426.3 1052.5 424.3 1053.2 423.3 1053.3 423.2 1053.9 422.2 1055.3 420.1 1056.7 418 1058.1 416 1059.5 413.9 1060.7 412.1 1060.9 411.8 1062.3 409.7 1063.7 407.6 1065.1 405.6 1066.4 403.5 1067.8 401.4 1068.2 400.8 1069.2 399.3 1070.6 397.2 1072 395.1 1073.3 393.1 1073.9 392.1 1074.7 391 1075.7 389.4 1076.1 388.9 1077.4 386.8 1078.8 384.7 1080.1 382.6 1081.5 380.5 1082.8 378.4 1083.3 377.7 1084.2 376.2 1085.5 374.1 1086.8 372 1088.2 369.9 1089.5 367.8 1090.8 365.7 1090.8 365.6 1092.1 363.5 1093.4 361.4 1094.6 359.5 1094.7 359.3 1096 357.1 1097.3 355 1098.3 353.2 1098.6 352.8 1099.8 350.6 1101 348.5 1102.3 346.3 1103.5 344.1 1104.7 341.9 1105.9 339.8 1105.9 339.7 1107.1 337.5 1108.3 335.4 1108.3 335.4 1109.5 333.2 1110.7 331 1111.9 328.8 1113.1 326.6 1113.4 325.9 1114.2 324.4 1115.4 322.1 1116.5 319.9 1117.7 317.7 1118.8 315.5 1119.1 314.9 1119.9 313.2 1120.9 311.3 1121.1 311 1122.1 308.8 1123.2 306.5 1124.3 304.3 1125.4 302 1126.4 299.7 1126.9 298.8 1127.5 297.5 1128.4 295.2 1128.5 295.2 1129.5 292.9 1130.4 290.6 1131.4 288.2 1132.3 285.9 1133.1 283.9 1133.2 283.6 1134.1 281.2 1134.9 278.9 1135.7 276.5 1136 275.9 1136.5 274.2 1137.3 271.8 1137.6 270.7 1138 269.4 1138.7 267 1139.3 264.6 1140 262.1 1140.7 259.8 1140.9 259 1141.5 257.4 1142.4 255.1 1143.4 252.7 1143.5 252.4 1144.3 250.5 1145.4 248.2 1146.4 245.9 1146.5 245.9 1147.5 243.6 1148.6 241.4 1149.7 239.1 1150.8 236.9 1151 236.3 1151.9 234.7 1153 232.4 1153.7 231.1 1154.1 230.2 1155.3 228 1156.4 225.8 1157.6 223.6 1158.6 221.9 1158.8 221.4 1160.1 219.2 1161.3 217 1162.6 214.9 1163.1 214.1 1163.9 212.8 1165.2 210.6 1166.1 209.4 1166.6 208.6 1168 206.5 1169.3 204.7 1169.5 204.4 1170.9 202.4 1172.4 200.4 1173.6 199 1174 198.5 1175.6 196.5 1177.2 194.6 1178.8 192.7 1179.5 191.9 1180.4 190.8 1181.1 190.1 1182.1 189 1183.8 187.2 1185.5 185.3 1187.3 183.5 1188.7 182.2 1188.9 182 1189.1 181.8 1190.9 180.1 1192.8 178.5 1194.8 176.9 1196.1 175.8 1196.2 175.7 1196.7 175.3 1198.7 173.8 1200.7 172.3 1202.7 170.9 1203.7 170.3 1204.9 169.6 1206.3 168.8 1207.1 168.4 1209.3 167.3 1211.3 166.5 1211.6 166.3 1214 165.5 1216.4 164.8 1218.8 164.3 1218.8 164.3 1221.3 164 1223.8 163.7 1226.3 163.6 1226.3 163.6 1228.8 163.7 1231.3 164 1233.8 164.3 1233.8 164.3 1236.2 164.8 1238.6 165.5 1241 166.3 1241.3 166.5 1243.3 167.3 1245.5 168.4 1246.3 168.8 1247.7 169.6 1248.9 170.3 1249.9 170.9 1251.9 172.3 1253.9 173.8 1255.9 175.3 1256.4 175.7 1256.5 175.8 1257.8 176.9 1259.8 178.5 1261.7 180.1 1263.5 181.8 1263.7 182 1263.9 182.2 1265.3 183.5 1267.1 185.3 1268.8 187.2 1270.5 189 1271.5 190.1 1272.2 190.8 1273.1 191.9 1273.8 192.7 1275.4 194.6 1277 196.5 1278.6 198.5 1279 199 1280.2 200.4 1281.7 202.4 1283.1 204.4 1283.3 204.7 1284.6 206.5 1286 208.6 1286.5 209.4 1287.4 210.6 1288.7 212.8 1289.5 214.1 1290 214.9 1291.3 217 1292.5 219.2 1293.8 221.4 1294 221.9 1295 223.6 1296.2 225.8 1297.3 228 1298.5 230.2 1298.9 231.1 1299.6 232.4 1300.7 234.7 1301.6 236.3 1301.8 236.9 1302.9 239.1 1304 241.4 1305.1 243.6 1306.1 245.9 1306.2 245.9 1307.2 248.2 1308.3 250.5 1309.1 252.4 1309.2 252.7 1310.2 255.1 1311.1 257.4 1311.7 259 1311.9 259.8 1312.6 262.1 1313.3 264.6 1313.9 267 1314.6 269.4 1315 270.7 1315.3 271.8 1316.1 274.2 1316.6 275.9 1316.9 276.5 1317.7 278.9 1318.5 281.2 1319.4 283.6 1319.5 283.9 1320.3 285.9 1321.2 288.2 1322.2 290.6 1323.1 292.9 1324.1 295.2 1324.2 295.2 1325.1 297.5 1325.7 298.8 1326.2 299.7 1327.2 302 1328.3 304.3 1329.4 306.5 1330.5 308.8 1331.5 311 1331.7 311.3 1332.7 313.2 1333.5 314.9 1333.8 315.5 1334.9 317.7 1336.1 319.9 1337.2 322.1 1338.4 324.4 1339.2 325.9 1339.5 326.6 1340.7 328.8 1341.9 331 1343.1 333.2 1344.3 335.4 1344.3 335.4 1345.5 337.5 1346.7 339.7 1346.7 339.8 1347.9 341.9 1349.1 344.1 1350.3 346.3 1351.6 348.5 1352.8 350.6 1354 352.8 1354.3 353.2 1355.3 355 1356.6 357.1 1357.9 359.3 1358 359.5 1359.2 361.4 1360.5 363.5 1361.8 365.6 1361.8 365.7 1363.1 367.8 1364.4 369.9 1365.8 372 1367.1 374.1 1368.4 376.2 1369.3 377.7 1369.8 378.4 1371.1 380.5 1372.5 382.6 1373.8 384.7 1375.2 386.8 1376.5 388.9 1376.9 389.4 1377.9 391 1378.7 392.1 1379.3 393.1 1380.6 395.1 1382 397.2 1383.4 399.3 1384.4 400.8 1384.8 401.4 1386.2 403.5 1387.5 405.6 1388.9 407.6 1390.3 409.7 1391.7 411.8 1391.9 412.1 1393.1 413.9 1394.5 416 1395.9 418 1397.3 420.1 1398.7 422.2 1399.3 423.2 1399.4 423.3 1400.1 424.3 1401.4 426.3 1402.8 428.4 1404.2 430.5 1405.6 432.6 1407 434.5 1407 434.6 1408.4 436.7 1409.8 438.8 1411.2 440.8 1412.6 442.9 1414 445 1414.5 445.7 1415.4 447.1 1416.8 449.1 1418.2 451.2 1419.6 453.3 1420 453.8 1421 455.3 1422 456.8 1422.4 457.4 1423.8 459.5 1425.2 461.5 1426.7 463.6 1428.1 465.7 1429.5 467.7 1429.5 467.8 1430.9 469.8 1432.3 471.9 1433.7 473.9 1435.1 476 1436.5 478 1437.1 478.9 1437.9 480.1 1439.3 482.2 1440.6 484 1440.7 484.2 1442.2 486.3 1443.6 488.4 1444.6 489.8 1445 490.4 1446.4 492.5 1447.8 494.5 1449.2 496.6 1450.6 498.7 1452.1 500.7 1452.1 500.8 1453.5 502.8 1454.9 504.8 1456.3 506.9 1457.7 509 1459.1 511 1459.7 511.8 1460.5 513.1 1461.9 515.2 1463.4 517.2 1464.8 519.3 1466.2 521.3 1467.2 522.8 1467.6 523.4 1469 525.5 1470.4 527.5 1471.8 529.6 1473.3 531.6 1474.7 533.7 1474.7 533.8 1476.1 535.8 1477.5 537.8 1478.9 539.9 1480.3 542 1481.7 544 1482.2 544.7 1483.2 546.1 1484.6 548.1 1486 550.2 1487.4 552.3 1488.8 554.3 1489.8 555.7 1490.2 556.4 1491.6 558.4 1493 560.5 1494.5 562.6 1495.9 564.6 1497.3 566.7 1497.3 566.7 1498.7 568.7 1500.1 570.8 1501.5 572.9 1502.9 574.9 1504.4 577 1504.8 577.7 1505.8 579.1 1507.2 581.1 1508.6 583.2 1510 585.2 1511.4 587.3 1512.3 588.6 1512.9 589.4 1514.3 591.4 1515.7 593.5 1517.1 595.5 1518.5 597.6 1519.9 599.6 1519.9 599.7 1521.3 601.7 1522.8 603.8 1524.2 605.8 1525.6 607.9 1527 610 1527.4 610.5 1528.4 612 1529.8 614.1 1531.2 616.1 1532.7 618.2 1534.1 620.3 1534.9 621.5 1535.5 622.3 1536.9 624.4 1538.3 626.4 1539.7 628.5 1541.2 630.6 1542.5 632.4 1542.6 632.6 1544 634.7 1545.4 636.7 1546.8 638.8 1548.2 640.9 1549.6 642.9 1550 643.4 1551.1 645 1552.5 647 1553.9 649.1 1555.3 651.2 1556.7 653.2 1557.5 654.4 1558.1 655.3 1559.6 657.3 1561 659.4 1562.4 661.5 1563.8 663.5 1565 665.3 1565.2 665.6 1566.6 667.6 1568.1 669.7 1569.5 671.8 1570.9 673.8 1572.3 675.9 1572.6 676.3 1573.7 677.9 1575.1 680 1576.5 682.1 1578 684.1 1579.4 686.2 1580.1 687.2 1580.8 688.2 1582.2 690.3 1583.6 692.4 1585 694.4 1586.5 696.5 1587.6 698.2 1587.9 698.5 1589.3 700.6 1590.7 702.7 1592.1 704.7 1593.5 706.8 1594.9 708.8 1595.1 709.1 1596.4 710.9 1597.8 713 1599.2 715 1600.6 717.1 1602 719.1 1602.7 720.1 1603.4 721.2 1604.9 723.3 1606.3 725.3 1607.7 727.4 1609.1 729.4 1610.2 731 1610.5 731.5 1611.9 733.6 1613.3 735.6 1614.8 737.7 1616.2 739.7 1617.6 741.8 1617.7 742 1619 743.9 1620.4 745.9 1621.8 748 1623.3 750 1624.7 752.1 1625.3 753 1626.1 754.2 1627.5 756.2 1628.9 758.3 1630.3 760.3 1631.7 762.4 1632.8 763.9 1633.2 764.5 1634.6 766.5 1636 768.6 1637.4 770.6 1638.8 772.7 1640.2 774.8 1640.3 774.9 1641.7 776.8 1643.1 778.9 1644.5 780.9 1645.9 783 1647.3 785.1 1647.8 785.8 1648.7 787.1 1650.1 789.2 1651.6 791.2 1653 793.3 1654.4 795.4 1655.4 796.8 1655.8 797.4 1657.2 799.5 1658.6 801.5 1660.1 803.6 1661.5 805.7 1662.9 807.7 1662.9 807.7 1664.3 809.8 1665.7 811.8 1667.1 813.9 1668.6 816 1670 818 1670.4 818.7 1671.4 820.1 1672.8 822.1 1674.2 824.2 1675.6 826.3 1677 828.3 1677.9 829.6 1678.5 830.4 1679.9 832.4 1681.3 834.5 1682.7 836.6 1684.1 838.6 1685.5 840.6 1685.5 840.7 1687 842.7 1688.4 844.8 1689.8 846.9 1691.2 848.9 1692.6 851 1693 851.5 1694 853 1695.4 855.1 1696.9 857.2 1698.3 859.2 1699.7 861.3 1700.5 862.5 1701.1 863.3 1702.5 865.4 1703.9 867.5 1705.4 869.5 1706.8 871.6 1708.1 873.5 1708.2 873.6 1709.6 875.7 1711 877.8 1712.4 879.8 1713.8 881.9 1715.3 883.9 1715.6 884.4 1716.7 886 1718.1 888.1 1719.5 890.1 1720.9 892.2 1722.3 894.2 1723.1 895.4 1723.8 896.3 1725.2 898.4 1726.6 900.4 1728 902.5 1729.4 904.5 1730.6 906.3 1730.8 906.6 1732.2 908.7 1733.7 910.7 1735.1 912.8 1736.5 914.8 1737.9 916.9 1738.2 917.3 1739.3 919 1740.7 921 1742.2 923.1 1743.6 925.1 1745 927.2 1745.7 928.2 1746.4 929.3 1747.8 931.3 1749.2 933.4 1750.6 935.4 1752.1 937.5 1753.2 939.2 1753.5 939.6 1754.9 941.6 1756.3 943.7 1757.7 945.7 1759.1 947.8 1760.6 949.9 1760.8 950.1 1762 951.9 1763.4 954 1764.8 956 1766.2 958.1 1767.6 960.2 1768.3 961.1 1769 962.2 1770.5 964.3 1771.9 966.3 1773.3 968.4 1774.7 970.5 1775.8 972.1 1776.1 972.5 1777.5 974.6 1779 976.6 1780.4 978.7 1781.8 980.8 1783.2 982.8 1783.3 983 1784.6 984.9 1786 986.9 1787.5 989 1788.9 991.1 1790.3 993.1 1790.9 994 1791.7 995.2 1793.1 997.2 1794.5 999.3 1795.9 1001.4 1797.4 1003.4 1798.4 1004.9 1798.8 1005.5 1800.2 1007.5 1801.6 1009.6 1803 1011.7 1804.4 1013.7 1805.9 1015.8 1805.9 1015.9 1807.3 1017.8 1808.7 1019.9 1810.1 1022 1811.5 1024 1812.9 1026.1 1813.4 1026.8 1814.3 1028.1 1815.8 1030.2 1817.2 1032.3 1818.6 1034.3 1820 1036.4 1821 1037.8 1821.4 1038.4 1822.8 1040.5 1824.3 1042.6 1825.7 1044.6 1827.1 1046.7 1828.5 1048.7" fill="none" stroke="#000000" stroke-width="4.68" stroke-linejoin="round" stroke-linecap="square"/>
<path d="M624.1 1047.8 625.5 1045.7 626.9 1043.6 628.3 1041.6 629.8 1039.5 631.2 1037.5 631.6 1036.8 632.6 1035.4 634 1033.3 635.4 1031.3 636.8 1029.2 638.3 1027.2 639.2 1025.8 639.7 1025.1 641.1 1023 642.5 1021 643.9 1018.9 645.3 1016.9 646.7 1014.9 646.7 1014.8 648.1 1012.7 649.6 1010.7 651 1008.6 652.4 1006.6 653.8 1004.5 654.2 1003.9 655.2 1002.4 656.6 1000.4 658 998.3 659.4 996.2 660.9 994.2 661.7 992.9 662.3 992.1 663.7 990.1 665.1 988 666.5 985.9 667.9 983.9 669.3 981.9 669.3 981.8 670.7 979.7 672.1 977.7 673.6 975.6 675 973.6 676.4 971.5 676.8 970.9 677.8 969.4 679.2 967.4 680.6 965.3 682 963.2 683.4 961.2 684.3 959.9 684.8 959.1 686.3 957 687.7 955 689.1 952.9 690.5 950.9 691.8 948.9 691.9 948.8 693.3 946.7 694.7 944.7 696.1 942.6 697.5 940.5 698.9 938.5 699.4 937.8 700.3 936.4 701.8 934.3 703.2 932.3 704.6 930.2 706 928.2 706.9 926.8 707.4 926.1 708.8 924 710.2 922 711.6 919.9 713 917.8 714.4 915.8 714.4 915.8 715.8 913.7 717.2 911.6 718.6 909.6 720.1 907.5 721.5 905.4 722 904.7 722.9 903.4 724.3 901.3 725.7 899.2 727.1 897.2 728.5 895.1 729.5 893.7 729.9 893.1 731.3 891 732.7 888.9 734.1 886.9 735.5 884.8 736.9 882.7 737 882.6 738.4 880.7 739.8 878.6 741.2 876.5 742.6 874.5 744 872.4 744.5 871.6 745.4 870.3 746.8 868.3 748.2 866.2 749.6 864.1 751 862.1 752.1 860.5 752.4 860 753.8 857.9 755.2 855.9 756.6 853.8 758 851.7 759.4 849.7 759.6 849.4 760.8 847.6 762.2 845.5 763.6 843.4 765 841.4 766.4 839.3 767.1 838.2 767.8 837.2 769.2 835.1 770.6 833.1 772 831 773.4 828.9 774.7 827 774.8 826.9 776.2 824.8 777.6 822.7 778.9 820.6 780.3 818.5 781.7 816.5 782.2 815.8 783.1 814.4 784.5 812.3 785.9 810.2 787.3 808.2 788.7 806.1 789.7 804.5 790.1 804 791.5 801.9 792.8 799.9 794.2 797.8 795.6 795.7 797 793.6 797.2 793.3 798.4 791.5 799.8 789.5 801.2 787.4 802.5 785.3 803.9 783.2 804.8 782 805.2 781.4 805.3 781.1 806.7 779.1 808.1 777 809.5 774.9 810.8 772.8 812.2 770.7 812.3 770.6 813.6 768.6 815 766.6 816.3 764.5 817.7 762.4 819.1 760.3 819.8 759.2 820.5 758.2 821.8 756.1 823.2 754 824.6 751.9 825.9 749.8 827.3 747.7 827.3 747.6 828.6 745.6 830 743.5 831.4 741.4 832.7 739.3 834.1 737.3 834.9 736.1 835.5 735.2 836.8 733.1 837.9 731.4 838.2 731 839.5 728.9 840.9 726.8 842.3 724.7 842.4 724.5 843.6 722.6 845 720.5 846.3 718.4 847.7 716.3 849 714.2 849.9 712.8 850.4 712.1 851.7 710 853.1 707.9 853.2 707.6 854.4 705.8 855.8 703.7 857.2 701.6 857.5 701.1 858.5 699.5 859.9 697.4 861.2 695.3 862.6 693.2 864 691.1 865 689.5 865.3 689 866.6 686.9 868 684.8 869.3 682.7 870.2 681.3 870.7 680.5 872 678.4 872.5 677.6 873.3 676.3 874.6 674.2 875.9 672 877.2 669.9 878.5 667.8 879.8 665.6 880 665.2 881.1 663.5 882.4 661.4 883.7 659.2 885 657.1 886.3 654.9 887.2 653.4 887.6 652.8 887.6 652.8 888.9 650.7 890.2 648.5 891.5 646.4 892.8 644.3 894.1 642.1 895.1 640.4 895.4 640 896.7 637.9 898 635.7 899.3 633.6 900.5 631.4 901.8 629.3 902.6 628 902.8 627.7 903.1 627.2 904.4 625 905.6 622.8 906.9 620.7 908.2 618.5 909.4 616.4 910.1 615.1 910.7 614.2 911.9 612 913.2 609.9 914.4 607.7 915.7 605.6 916.9 603.4 917.7 602.1 918.2 601.2 918.2 601.2 919.5 599.1 920.7 596.9 922 594.8 923.3 592.6 924.6 590.5 925.2 589.4 925.8 588.3 927.1 586.2 928.4 584 929.6 581.9 930.9 579.7 932.2 577.6 932.7 576.6 933.4 575.4 933.8 574.8 934.7 573.2 935.9 571.1 937.1 568.9 938.4 566.7 939.6 564.5 940.3 563.3 940.8 562.4 942 560.2 943.2 558 944.4 555.8 945.6 553.6 946.8 551.4 947.8 549.5 948 549.2 949.1 547 949.2 546.8 950.3 544.8 951.5 542.5 952.6 540.3 953.8 538.1 954.9 535.9 955.3 535.1 956 533.7 957.2 531.4 958.3 529.2 959.4 527 960.5 524.7 961.6 522.5 962.7 520.2 962.8 520 963.2 519.3 963.8 518 964.9 515.8 966 513.5 967.1 511.2 968.2 509 969.2 506.7 970.3 504.5 970.4 504.3 971.3 502.2 972.4 499.9 973.4 497.7 974.4 495.4 975.5 493.1 975.6 492.8 976.5 490.8 977.5 488.5 977.9 487.5 978.4 486.2 979.4 483.9 980.4 481.6 981.3 479.3 982.2 477 983.2 474.6 984.1 472.3 984.8 470.5 985 470 985.4 469 985.9 467.7 986.8 465.3 987.7 463 988.6 460.7 989.5 458.3 990.4 456 991.2 453.6 992.1 451.3 992.6 449.6 992.9 448.9 992.9 448.8 993.7 446.6 994.4 444.2 995.2 441.8 995.9 439.4 996.7 437 997.4 434.6 998.1 432.2 998.8 429.9 998.8 429.8 999.5 427.4 1000.2 425 1000.5 424.1 1000.9 422.6 1001.5 420.2 1002.2 417.8 1002.9 415.4 1003.6 413 1004.3 410.6 1004.3 410.6 1005 408.2 1005.8 405.8 1006.6 403.5 1007.4 401.1 1008 399.3 1008.2 398.7 1009 396.4 1009.9 394 1010.8 391.7 1011.6 389.4 1012.5 387 1013.5 384.7 1014.2 382.7 1014.4 382.4 1015.3 380.1 1015.5 379.5 1016.3 377.8 1017.2 375.4 1018.2 373.1 1019.2 370.9 1020.2 368.6 1021.2 366.3 1022.2 364 1023.1 362.2 1023.3 361.7 1024.3 359.5 1025.4 357.2 1026.5 354.9 1027.5 352.7 1028.6 350.4 1029.8 348.2 1029.8 348 1030.6 346.6 1030.9 346 1032 343.8 1033.2 341.5 1034.4 339.3 1035.6 337.1 1036.8 334.9 1038 332.8 1038.1 332.4 1039.2 330.6 1040.4 328.4 1041.6 326.2 1042.9 324 1044.1 321.9 1045.4 319.7 1045.6 319.2 1046.6 317.5 1047.9 315.4 1049.1 313.2 1050.4 311.1 1051.7 309 1053 306.8 1053.2 306.5 1054.3 304.7 1055.6 302.6 1056.9 300.4 1058.3 298.3 1059.6 296.2 1060.7 294.5 1060.9 294.1 1062.3 292 1063.6 289.9 1065 287.8 1066.4 285.7 1067.8 283.6 1068.2 283 1069.2 281.6 1070.6 279.5 1072 277.4 1073.4 275.4 1074.9 273.3 1075.8 272.1 1076.3 271.3 1077.8 269.3 1079.2 267.3 1080.7 265.2 1082.2 263.2 1083.3 261.8 1083.7 261.2 1085.2 259.3 1086.8 257.3 1088.3 255.3 1089.9 253.4 1090.8 252.2 1091.4 251.4 1093 249.5 1094.6 247.5 1096.2 245.6 1097.8 243.7 1098.3 243 1099.4 241.8 1101 239.9 1102.6 238 1104.3 236.1 1105.9 234.3 1106 234.2 1107.6 232.4 1109.3 230.5 1111 228.7 1112.7 226.9 1113.4 226.2 1114.4 225.1 1116.2 223.3 1117.9 221.5 1119.7 219.7 1120.9 218.4 1121.4 217.9 1123.2 216.2 1125 214.4 1126.8 212.7 1128.4 211.1 1128.6 211 1130.4 209.3 1132.3 207.6 1134.1 205.9 1136 204.3 1136 204.2 1137.9 202.6 1139.8 201 1141.7 199.4 1143.5 197.9 1143.6 197.8 1145.6 196.2 1147.6 194.7 1149.5 193.2 1151 192.1 1151.6 191.7 1153.6 190.2 1155.6 188.8 1157.7 187.4 1158.6 186.8 1159.7 186 1161.8 184.6 1164 183.3 1166.1 182 1166.1 182 1168.2 180.7 1170.4 179.5 1172.6 178.3 1173.6 177.7 1174.8 177.1 1177 176 1179.3 174.9 1181.1 174 1181.6 173.8 1183.9 172.8 1186.2 171.8 1188.5 170.9 1188.7 170.9 1190.8 170.1 1193.2 169.2 1195.6 168.5 1196.2 168.3 1198 167.7 1200.4 167.1 1202.8 166.4 1203.7 166.2 1205.2 165.9 1207.7 165.4 1210.1 164.9 1211.2 164.8 1212.6 164.6 1215.1 164.2 1217.6 164 1218.8 163.9 1220.1 163.8 1222.6 163.7 1225.1 163.6 1226.3 163.6 1227.5 163.6 1230 163.7 1232.5 163.8 1233.8 163.9 1235 164 1237.5 164.2 1240 164.6 1241.4 164.8 1242.5 164.9 1244.9 165.4 1247.4 165.9 1248.9 166.2 1249.8 166.4 1252.2 167.1 1254.6 167.7 1256.4 168.3 1257 168.5 1259.4 169.2 1261.8 170.1 1263.9 170.9 1264.1 170.9 1266.4 171.8 1268.7 172.8 1271 173.8 1271.5 174 1273.3 174.9 1275.6 176 1277.8 177.1 1279 177.7 1280 178.3 1282.2 179.5 1284.4 180.7 1286.5 182 1286.5 182 1288.6 183.3 1290.8 184.6 1292.9 186 1294 186.8 1294.9 187.4 1297 188.8 1299 190.2 1301 191.7 1301.6 192.1 1303.1 193.2 1305 194.7 1307 196.2 1309 197.8 1309.1 197.9 1310.9 199.4 1312.8 201 1314.7 202.6 1316.6 204.2 1316.6 204.3 1318.5 205.9 1320.3 207.6 1322.2 209.3 1324 211 1324.2 211.1 1325.8 212.7 1327.6 214.4 1329.4 216.2 1331.2 217.9 1331.7 218.4 1332.9 219.7 1334.7 221.5 1336.4 223.3 1338.2 225.1 1339.2 226.2 1339.9 226.9 1341.6 228.7 1343.3 230.5 1345 232.4 1346.6 234.2 1346.7 234.3 1348.3 236.1 1350 238 1351.6 239.9 1353.2 241.8 1354.3 243 1354.8 243.7 1356.4 245.6 1358 247.5 1359.6 249.5 1361.2 251.4 1361.8 252.2 1362.7 253.4 1364.3 255.3 1365.8 257.3 1367.4 259.3 1368.9 261.2 1369.3 261.8 1370.4 263.2 1371.9 265.2 1373.4 267.3 1374.8 269.3 1376.3 271.3 1376.8 272.1 1377.7 273.3 1379.2 275.4 1380.6 277.4 1382 279.5 1383.4 281.6 1384.4 283 1384.8 283.6 1386.2 285.7 1387.6 287.8 1389 289.9 1390.3 292 1391.7 294.1 1391.9 294.5 1393 296.2 1394.3 298.3 1395.7 300.4 1397 302.6 1398.3 304.7 1399.4 306.5 1399.6 306.8 1400.9 309 1402.2 311.1 1403.5 313.2 1404.7 315.4 1406 317.5 1407 319.2 1407.2 319.7 1408.5 321.9 1409.7 324 1411 326.2 1412.2 328.4 1413.4 330.6 1414.5 332.4 1414.6 332.8 1415.8 334.9 1417 337.1 1418.2 339.3 1419.4 341.5 1420.6 343.8 1421.7 346 1422 346.6 1422.8 348 1422.8 348.2 1424 350.4 1425.1 352.7 1426.1 354.9 1427.2 357.2 1428.3 359.5 1429.3 361.7 1429.5 362.2 1430.4 364 1431.4 366.3 1432.4 368.6 1433.4 370.9 1434.4 373.1 1435.4 375.4 1436.3 377.8 1437.1 379.5 1437.3 380.1 1438.2 382.4 1438.4 382.7 1439.1 384.7 1440.1 387 1441 389.4 1441.8 391.7 1442.7 394 1443.6 396.4 1444.4 398.7 1444.6 399.3 1445.2 401.1 1446 403.5 1446.8 405.8 1447.6 408.2 1448.3 410.6 1448.3 410.6 1449 413 1449.7 415.4 1450.4 417.8 1451.1 420.2 1451.7 422.6 1452.1 424.1 1452.4 425 1453.1 427.4 1453.8 429.8 1453.8 429.9 1454.5 432.2 1455.2 434.6 1455.9 437 1456.7 439.4 1457.4 441.8 1458.2 444.2 1458.9 446.6 1459.7 448.8 1459.7 448.9 1460 449.6 1460.5 451.3 1461.4 453.6 1462.2 456 1463.1 458.3 1464 460.7 1464.9 463 1465.8 465.3 1466.7 467.7 1467.2 469 1467.6 470 1467.8 470.5 1468.5 472.3 1469.4 474.6 1470.4 477 1471.3 479.3 1472.2 481.6 1473.2 483.9 1474.2 486.2 1474.7 487.5 1475.1 488.5 1476.1 490.8 1477 492.8 1477.1 493.1 1478.2 495.4 1479.2 497.7 1480.2 499.9 1481.3 502.2 1482.2 504.3 1482.3 504.5 1483.4 506.7 1484.4 509 1485.5 511.2 1486.6 513.5 1487.7 515.8 1488.8 518 1489.4 519.3 1489.8 520 1489.9 520.2 1491 522.5 1492.1 524.7 1493.2 527 1494.3 529.2 1495.4 531.4 1496.6 533.7 1497.3 535.1 1497.7 535.9 1498.8 538.1 1500 540.3 1501.1 542.5 1502.3 544.8 1503.4 546.8 1503.5 547 1504.6 549.2 1504.8 549.5 1505.8 551.4 1507 553.6 1508.2 555.8 1509.4 558 1510.6 560.2 1511.8 562.4 1512.3 563.3 1513 564.5 1514.2 566.7 1515.5 568.9 1516.7 571.1 1517.9 573.2 1518.8 574.8 1519.2 575.4 1519.9 576.6 1520.4 577.6 1521.7 579.7 1523 581.9 1524.2 584 1525.5 586.2 1526.8 588.3 1527.4 589.4 1528 590.5 1529.3 592.6 1530.6 594.8 1531.9 596.9 1533.1 599.1 1534.4 601.2 1534.4 601.2 1534.9 602.1 1535.7 603.4 1536.9 605.6 1538.2 607.7 1539.4 609.9 1540.7 612 1541.9 614.2 1542.5 615.1 1543.2 616.4 1544.4 618.5 1545.7 620.7 1547 622.8 1548.2 625 1549.5 627.2 1549.8 627.7 1550 628 1550.8 629.3 1552.1 631.4 1553.3 633.6 1554.6 635.7 1555.9 637.9 1557.2 640 1557.5 640.4 1558.5 642.1 1559.8 644.3 1561.1 646.4 1562.4 648.5 1563.7 650.7 1565 652.8 1565 652.8 1565.4 653.4 1566.3 654.9 1567.6 657.1 1568.9 659.2 1570.2 661.4 1571.5 663.5 1572.6 665.2 1572.8 665.6 1574.1 667.8 1575.4 669.9 1576.7 672 1578 674.2 1579.3 676.3 1580.1 677.6 1580.6 678.4 1581.9 680.5 1582.4 681.3 1583.3 682.7 1584.6 684.8 1586 686.9 1587.3 689 1587.6 689.5 1588.6 691.1 1590 693.2 1591.4 695.3 1592.7 697.4 1594.1 699.5 1595.1 701.1 1595.4 701.6 1596.8 703.7 1598.2 705.8 1599.4 707.6 1599.5 707.9 1600.9 710 1602.2 712.1 1602.7 712.8 1603.6 714.2 1604.9 716.3 1606.3 718.4 1607.6 720.5 1609 722.6 1610.2 724.5 1610.3 724.7 1611.7 726.8 1613.1 728.9 1614.4 731 1614.7 731.4 1615.8 733.1 1617.1 735.2 1617.7 736.1 1618.5 737.3 1619.9 739.3 1621.2 741.4 1622.6 743.5 1624 745.6 1625.3 747.6 1625.3 747.7 1626.7 749.8 1628 751.9 1629.4 754 1630.8 756.1 1632.1 758.2 1632.8 759.2 1633.5 760.3 1634.9 762.4 1636.3 764.5 1637.6 766.6 1639 768.6 1640.3 770.6 1640.4 770.7 1641.8 772.8 1643.1 774.9 1644.5 777 1645.9 779.1 1647.3 781.1 1647.4 781.4 1647.8 782 1648.7 783.2 1650.1 785.3 1651.4 787.4 1652.8 789.5 1654.2 791.5 1655.4 793.3 1655.6 793.6 1657 795.7 1658.4 797.8 1659.8 799.9 1661.1 801.9 1662.5 804 1662.9 804.5 1663.9 806.1 1665.3 808.2 1666.7 810.2 1668.1 812.3 1669.5 814.4 1670.4 815.8 1670.9 816.5 1672.3 818.5 1673.7 820.6 1675 822.7 1676.4 824.8 1677.8 826.9 1677.9 827 1679.2 828.9 1680.6 831 1682 833.1 1683.4 835.1 1684.8 837.2 1685.5 838.2 1686.2 839.3 1687.6 841.4 1689 843.4 1690.4 845.5 1691.8 847.6 1693 849.4 1693.2 849.7 1694.6 851.7 1696 853.8 1697.4 855.9 1698.8 857.9 1700.2 860 1700.5 860.5 1701.6 862.1 1703 864.1 1704.4 866.2 1705.8 868.3 1707.2 870.3 1708.1 871.6 1708.6 872.4 1710 874.5 1711.4 876.5 1712.8 878.6 1714.2 880.7 1715.6 882.6 1715.7 882.7 1717.1 884.8 1718.5 886.9 1719.9 888.9 1721.3 891 1722.7 893.1 1723.1 893.7 1724.1 895.1 1725.5 897.2 1726.9 899.2 1728.3 901.3 1729.7 903.4 1730.6 904.7 1731.1 905.4 1732.5 907.5 1734 909.6 1735.4 911.6 1736.8 913.7 1738.2 915.8 1738.2 915.8 1739.6 917.8 1741 919.9 1742.4 922 1743.8 924 1745.2 926.1 1745.7 926.8 1746.6 928.2 1748 930.2 1749.4 932.3 1750.8 934.3 1752.3 936.4 1753.2 937.8 1753.7 938.5 1755.1 940.5 1756.5 942.6 1757.9 944.7 1759.3 946.7 1760.7 948.8 1760.8 948.9 1762.1 950.9 1763.5 952.9 1764.9 955 1766.3 957 1767.8 959.1 1768.3 959.9 1769.2 961.2 1770.6 963.2 1772 965.3 1773.4 967.4 1774.8 969.4 1775.8 970.9 1776.2 971.5 1777.6 973.6 1779 975.6 1780.5 977.7 1781.9 979.7 1783.3 981.8 1783.3 981.9 1784.7 983.9 1786.1 985.9 1787.5 988 1788.9 990.1 1790.3 992.1 1790.9 992.9 1791.7 994.2 1793.2 996.2 1794.6 998.3 1796 1000.4 1797.4 1002.4 1798.4 1003.9 1798.8 1004.5 1800.2 1006.6 1801.6 1008.6 1803 1010.7 1804.5 1012.7 1805.9 1014.8 1805.9 1014.9 1807.3 1016.9 1808.7 1018.9 1810.1 1021 1811.5 1023 1812.9 1025.1 1813.4 1025.8 1814.3 1027.2 1815.8 1029.2 1817.2 1031.3 1818.6 1033.3 1820 1035.4 1821 1036.8 1821.4 1037.5 1822.8 1039.5 1824.3 1041.6 1825.7 1043.6 1827.1 1045.7 1828.5 1047.8" fill="none" stroke="#696969" stroke-width="4.68" stroke-linejoin="round" stroke-dasharray="17.31 7.49"/>
<path d="M624.1 1007.9 625.3 1005.8 626.6 1003.6 627.8 1001.4 629 999.2 630.2 997.1 631.5 994.9 631.6 994.6 632.7 992.7 633.9 990.5 635.1 988.4 636.3 986.2 637.6 984 638.8 981.8 639.2 981.1 640 979.6 641.2 977.4 642.4 975.3 642.9 974.3 643.6 973.1 644.8 970.9 646 968.7 646.7 967.6 647.3 966.5 648.5 964.3 649.7 962.2 650.9 960 652.1 957.8 653.3 955.6 654.2 953.9 654.5 953.4 655.7 951.2 656.9 949 658.1 946.8 659.3 944.6 660.5 942.4 661.6 940.2 661.7 940.1 662.8 938 663.1 937.5 664 935.8 665.2 933.6 666.4 931.4 667.6 929.2 668.7 927 669.3 926 669.9 924.8 671.1 922.6 672.2 920.4 673.4 918.2 674.6 916 675.7 913.8 676.8 911.8 676.9 911.6 678.1 909.4 679.2 907.2 680.4 904.9 681.5 902.7 682.7 900.5 683.8 898.3 684.3 897.3 684.9 896.1 686.1 893.8 687.2 891.6 688.3 889.4 689.5 887.1 690.6 884.9 690.9 884.2 691.7 882.7 691.8 882.4 692.8 880.4 693.9 878.2 695 875.9 696 873.7 697.1 871.4 698.2 869.2 699.2 866.9 699.4 866.7 700.3 864.6 701.4 862.4 702.4 860.1 703.5 857.9 704.5 855.6 705.6 853.3 706.6 851.1 706.9 850.4 707.7 848.8 708.7 846.5 709.7 844.2 710.8 842 711.8 839.7 712.8 837.4 713.9 835.2 714.4 833.9 714.9 832.9 715.7 831.1 716 830.6 717 828.3 718.1 826.1 719.1 823.8 720.2 821.6 721.2 819.3 722 817.6 722.3 817 723.3 814.7 724.3 812.5 725.4 810.2 726.4 807.9 727.4 805.7 728.5 803.4 729.5 801.2 729.5 801.1 730.5 798.8 731.5 796.5 732.5 794.3 733.5 792 734.3 790.2 734.5 789.7 735.5 787.4 736.5 785.1 737 783.9 737.5 782.8 738.5 780.5 739.4 778.2 740.4 775.9 741.3 773.6 742.3 771.3 743.2 769 744.2 766.6 744.5 765.7 745.1 764.3 746 762 747 759.7 747.9 757.4 748.8 755 749.7 752.7 750.6 750.4 751.5 748.1 752.1 746.6 752.4 745.7 753 744.3 753.3 743.4 754.3 741.1 755.2 738.8 756.1 736.4 757 734.1 757.9 731.8 758.8 729.4 759.6 727.1 759.6 727 760.4 724.7 761.2 722.4 762 720 762.7 717.6 763.4 715.2 763.7 714.2 764.1 712.8 764.7 710.4 765.3 707.9 765.9 705.5 766.4 703.1 767 700.6 767.1 700 767.5 698.2 768.1 695.8 768.6 693.3 769.2 690.9 769.2 690.9 769.7 688.5 770.3 686 770.9 683.6 771.4 681.2 772 678.7 772.6 676.3 773.2 673.9 773.7 671.4 774.3 669 774.6 668.1 774.6 667.8 775 666.6 775.6 664.2 776.3 661.8 776.9 659.4 777.6 657 778.3 654.6 778.9 652.1 779.6 649.8 780.3 647.4 781.1 645 781.8 642.6 782.2 641.4 782.4 640.8 782.6 640.2 783.4 637.8 784.2 635.5 785 633.1 785.8 630.8 786.6 628.4 787.5 626 788.3 623.7 789.2 621.4 789.7 620 790.1 619 791 616.7 791.9 614.4 792.8 612 793.7 609.7 794.7 607.4 795.6 605.1 796.6 602.8 797.2 601.3 797.6 600.5 798 599.6 798.6 598.2 799.6 595.9 800.6 593.7 801.7 591.4 802.7 589.1 803.8 586.9 804.8 584.9 804.9 584.6 806 582.4 807.1 580.1 808.2 577.9 809.3 575.7 810.4 573.4 811.5 571.2 812.3 569.8 812.7 569 813.8 566.7 814.9 564.5 816 562.3 816.3 561.5 817.1 560 818.2 557.8 819.2 555.5 819.8 554.3 820.3 553.3 821.4 551 822.5 548.7 823.5 546.5 824.6 544.2 825.7 542 826.7 539.7 827.3 538.5 827.8 537.5 828.9 535.2 830 532.9 831 530.7 832.1 528.4 833.2 526.2 834.3 523.9 834.9 522.8 835.4 521.7 836.5 519.5 837.6 517.2 838.7 515 839.8 512.7 840.9 510.5 842 508.3 842.4 507.5 843.1 506 844.3 503.8 845.4 501.6 846.6 499.4 847.8 497.2 848.9 495 849.9 493.1 850.1 492.8 851.3 490.6 852.5 488.4 853.7 486.2 854.9 484 856.1 481.8 857.3 479.6 857.4 479.4 858.6 477.5 859.8 475.3 861 473.1 862.3 471 863.5 468.8 864.8 466.6 865 466.3 866 464.5 867.3 462.3 868.6 460.2 869.9 458 871.1 455.9 872.4 453.7 872.5 453.6 873.7 451.6 875 449.5 876.3 447.4 877.6 445.2 879 443.1 880 441.4 880.3 441 881.6 438.9 882.9 436.8 884.3 434.6 885.6 432.5 887 430.4 887.6 429.5 888.3 428.3 889.7 426.2 891 424.2 892.4 422.1 893.8 420 895.1 418 895.2 417.9 896.5 415.8 897.9 413.7 899.3 411.7 900.7 409.6 902.1 407.5 902.6 406.8 903.5 405.5 904.9 403.4 906.3 401.3 907.8 399.3 909.2 397.2 910.1 395.8 910.6 395.2 912 393.1 913.5 391.1 914.9 389 916.4 387 917.7 385.1 917.8 385 919.2 382.9 920.7 380.9 922.2 378.9 923.6 376.8 925.1 374.8 925.2 374.7 926.6 372.8 928 370.8 929.5 368.8 931 366.8 932.5 364.8 932.7 364.5 934 362.8 935.5 360.8 937 358.8 938.5 356.8 940 354.8 940.3 354.6 941.6 352.9 943.1 350.9 944.6 348.9 946.2 347 947.7 345 947.8 344.9 949.3 343 950.9 341.1 952.4 339.1 954 337.2 955.3 335.6 955.6 335.3 957.2 333.3 958.8 331.4 960.4 329.5 962 327.6 962.8 326.5 963.6 325.7 965.2 323.8 966.8 321.9 968.4 320 970 318.1 970.4 317.7 971.7 316.2 973.3 314.3 975 312.4 976.6 310.6 977.9 309.1 978.3 308.7 979.9 306.8 981.6 305 983.3 303.1 985 301.3 985.4 300.8 986.7 299.4 988.3 297.6 990 295.8 991.7 293.9 992.9 292.6 993.4 292.1 995.2 290.3 996.9 288.5 998.6 286.7 1000.3 284.9 1000.5 284.7 1002.1 283.1 1003.8 281.3 1005.6 279.5 1007.3 277.7 1008 277 1009.1 275.9 1010.8 274.2 1012.6 272.4 1014.4 270.7 1015.5 269.6 1016.2 268.9 1018 267.2 1019.8 265.5 1021.6 263.7 1023.1 262.3 1023.4 262 1025.2 260.3 1027.1 258.6 1028.9 256.9 1030.6 255.4 1030.7 255.2 1032.6 253.6 1034.4 251.9 1036.3 250.2 1038.1 248.6 1038.2 248.6 1040.1 246.9 1042 245.3 1043.9 243.7 1045.6 242.2 1045.8 242.1 1047.7 240.5 1049.6 238.9 1051.5 237.3 1053.2 235.9 1053.4 235.7 1055.4 234.1 1057.3 232.6 1059.3 231 1060.7 229.9 1061.3 229.5 1063.2 227.9 1065.2 226.4 1067.2 224.9 1068.2 224.2 1069.2 223.4 1071.2 221.9 1073.2 220.5 1075.3 219 1075.7 218.6 1077.3 217.5 1079.3 216.1 1081.4 214.7 1083.3 213.4 1083.4 213.3 1085.5 211.9 1087.6 210.5 1089.7 209.1 1090.8 208.4 1091.8 207.7 1093.9 206.4 1096 205 1098.1 203.7 1098.3 203.6 1100.2 202.4 1102.4 201.1 1104.5 199.9 1105.9 199.1 1106.7 198.6 1108.8 197.4 1111 196.1 1113.2 194.9 1113.4 194.8 1115.4 193.7 1117.6 192.5 1119.8 191.4 1120.9 190.8 1122 190.3 1124.3 189.1 1126.5 188 1128.4 187.1 1128.7 186.9 1131 185.9 1133.3 184.8 1135.6 183.8 1136 183.6 1137.8 182.8 1140.1 181.8 1142.4 180.9 1143.5 180.5 1144.8 179.9 1147.1 179 1149.4 178.1 1151 177.5 1151.8 177.3 1154.1 176.4 1156.5 175.6 1158.6 174.9 1158.8 174.8 1161.2 174 1163.6 173.3 1166 172.6 1166.1 172.5 1168.4 171.9 1170.8 171.2 1173.2 170.6 1173.6 170.5 1175.6 169.9 1178.1 169.3 1180.5 168.8 1181.1 168.6 1182.9 168.2 1185.4 167.7 1187.8 167.3 1188.7 167.1 1190.3 166.8 1192.7 166.4 1195.2 166 1196.2 165.8 1197.7 165.6 1200.1 165.3 1202.6 165 1203.7 164.9 1205.1 164.7 1207.6 164.5 1210.1 164.2 1211.2 164.1 1212.6 164.1 1215.1 163.9 1217.6 163.8 1218.8 163.7 1220.1 163.7 1222.6 163.6 1225.1 163.6 1226.3 163.6 1227.5 163.6 1230 163.6 1232.5 163.7 1233.8 163.7 1235 163.8 1237.5 163.9 1240 164.1 1241.4 164.1 1242.5 164.2 1245 164.5 1247.5 164.7 1248.9 164.9 1250 165 1252.5 165.3 1254.9 165.6 1256.4 165.8 1257.4 166 1259.9 166.4 1262.3 166.8 1263.9 167.1 1264.8 167.3 1267.2 167.7 1269.7 168.2 1271.5 168.6 1272.1 168.8 1274.5 169.3 1277 169.9 1279 170.5 1279.4 170.6 1281.8 171.2 1284.2 171.9 1286.5 172.5 1286.6 172.6 1289 173.3 1291.4 174 1293.8 174.8 1294 174.9 1296.1 175.6 1298.5 176.4 1300.8 177.3 1301.6 177.5 1303.2 178.1 1305.5 179 1307.8 179.9 1309.1 180.5 1310.2 180.9 1312.5 181.8 1314.8 182.8 1316.6 183.6 1317 183.8 1319.3 184.8 1321.6 185.9 1323.9 186.9 1324.2 187.1 1326.1 188 1328.3 189.1 1330.6 190.3 1331.7 190.8 1332.8 191.4 1335 192.5 1337.2 193.7 1339.2 194.8 1339.4 194.9 1341.6 196.1 1343.8 197.4 1345.9 198.6 1346.7 199.1 1348.1 199.9 1350.2 201.1 1352.4 202.4 1354.3 203.6 1354.5 203.7 1356.6 205 1358.7 206.4 1360.8 207.7 1361.8 208.4 1362.9 209.1 1365 210.5 1367.1 211.9 1369.2 213.3 1369.3 213.4 1371.2 214.7 1373.3 216.1 1375.3 217.5 1376.9 218.6 1377.3 219 1379.4 220.5 1381.4 221.9 1383.4 223.4 1384.4 224.2 1385.4 224.9 1387.4 226.4 1389.4 227.9 1391.3 229.5 1391.9 229.9 1393.3 231 1395.3 232.6 1397.2 234.1 1399.2 235.7 1399.4 235.9 1401.1 237.3 1403 238.9 1404.9 240.5 1406.8 242.1 1407 242.2 1408.7 243.7 1410.6 245.3 1412.5 246.9 1414.4 248.6 1414.5 248.6 1416.3 250.2 1418.2 251.9 1420 253.6 1421.9 255.2 1422 255.4 1423.7 256.9 1425.5 258.6 1427.4 260.3 1429.2 262 1429.5 262.3 1431 263.7 1432.8 265.5 1434.6 267.2 1436.4 268.9 1437.1 269.6 1438.2 270.7 1440 272.4 1441.8 274.2 1443.5 275.9 1444.6 277 1445.3 277.7 1447 279.5 1448.8 281.3 1450.5 283.1 1452.1 284.7 1452.3 284.9 1454 286.7 1455.7 288.5 1457.4 290.3 1459.2 292.1 1459.7 292.6 1460.9 293.9 1462.6 295.8 1464.3 297.6 1465.9 299.4 1467.2 300.8 1467.6 301.3 1469.3 303.1 1471 305 1472.7 306.8 1474.3 308.7 1474.7 309.1 1476 310.6 1477.6 312.4 1479.3 314.3 1480.9 316.2 1482.2 317.7 1482.6 318.1 1484.2 320 1485.8 321.9 1487.4 323.8 1489 325.7 1489.8 326.5 1490.6 327.6 1492.2 329.5 1493.8 331.4 1495.4 333.3 1497 335.3 1497.3 335.6 1498.6 337.2 1500.2 339.1 1501.7 341.1 1503.3 343 1504.8 344.9 1504.9 345 1506.4 347 1508 348.9 1509.5 350.9 1511 352.9 1512.3 354.6 1512.6 354.8 1514.1 356.8 1515.6 358.8 1517.1 360.8 1518.6 362.8 1519.9 364.5 1520.1 364.8 1521.6 366.8 1523.1 368.8 1524.6 370.8 1526 372.8 1527.4 374.7 1527.5 374.8 1529 376.8 1530.4 378.9 1531.9 380.9 1533.4 382.9 1534.8 385 1534.9 385.1 1536.2 387 1537.7 389 1539.1 391.1 1540.6 393.1 1542 395.2 1542.5 395.8 1543.4 397.2 1544.8 399.3 1546.3 401.3 1547.7 403.4 1549.1 405.5 1550 406.8 1550.5 407.5 1551.9 409.6 1553.3 411.7 1554.7 413.7 1556.1 415.8 1557.4 417.9 1557.5 418 1558.8 420 1560.2 422.1 1561.6 424.2 1562.9 426.2 1564.3 428.3 1565 429.5 1565.6 430.4 1567 432.5 1568.3 434.6 1569.7 436.8 1571 438.9 1572.3 441 1572.6 441.4 1573.6 443.1 1575 445.2 1576.3 447.4 1577.6 449.5 1578.9 451.6 1580.1 453.6 1580.2 453.7 1581.5 455.9 1582.7 458 1584 460.2 1585.3 462.3 1586.6 464.5 1587.6 466.3 1587.8 466.6 1589.1 468.8 1590.3 471 1591.6 473.1 1592.8 475.3 1594 477.5 1595.2 479.4 1595.3 479.6 1596.5 481.8 1597.7 484 1598.9 486.2 1600.1 488.4 1601.3 490.6 1602.5 492.8 1602.7 493.1 1603.7 495 1604.8 497.2 1606 499.4 1607.2 501.6 1608.3 503.8 1609.5 506 1610.2 507.5 1610.6 508.3 1611.7 510.5 1612.8 512.7 1613.9 515 1615 517.2 1616.1 519.5 1617.2 521.7 1617.7 522.8 1618.3 523.9 1619.4 526.2 1620.5 528.4 1621.6 530.7 1622.6 532.9 1623.7 535.2 1624.8 537.5 1625.3 538.5 1625.9 539.7 1626.9 542 1628 544.2 1629.1 546.5 1630.1 548.7 1631.2 551 1632.3 553.3 1632.8 554.3 1633.4 555.5 1634.4 557.8 1635.5 560 1636.3 561.5 1636.6 562.3 1637.7 564.5 1638.8 566.7 1639.9 569 1640.3 569.8 1641.1 571.2 1642.2 573.4 1643.3 575.7 1644.4 577.9 1645.5 580.1 1646.6 582.4 1647.7 584.6 1647.8 584.9 1648.8 586.9 1649.9 589.1 1650.9 591.4 1652 593.7 1653 595.9 1654 598.2 1654.6 599.6 1655 600.5 1655.4 601.3 1656 602.8 1657 605.1 1657.9 607.4 1658.9 609.7 1659.8 612 1660.7 614.4 1661.6 616.7 1662.5 619 1662.9 620 1663.4 621.4 1664.3 623.7 1665.1 626 1666 628.4 1666.8 630.8 1667.6 633.1 1668.4 635.5 1669.2 637.8 1670 640.2 1670.2 640.8 1670.4 641.4 1670.8 642.6 1671.5 645 1672.3 647.4 1673 649.8 1673.7 652.1 1674.3 654.6 1675 657 1675.7 659.4 1676.3 661.8 1677 664.2 1677.6 666.6 1678 667.8 1678 668.1 1678.3 669 1678.9 671.4 1679.4 673.9 1680 676.3 1680.6 678.7 1681.2 681.2 1681.7 683.6 1682.3 686 1682.9 688.5 1683.4 690.9 1683.4 690.9 1684 693.3 1684.5 695.8 1685.1 698.2 1685.5 700 1685.6 700.6 1686.2 703.1 1686.7 705.5 1687.3 707.9 1687.9 710.4 1688.5 712.8 1688.9 714.2 1689.2 715.2 1689.9 717.6 1690.6 720 1691.4 722.4 1692.2 724.7 1693 727 1693 727.1 1693.8 729.4 1694.7 731.8 1695.6 734.1 1696.5 736.4 1697.4 738.8 1698.3 741.1 1699.3 743.4 1699.6 744.3 1700.2 745.7 1700.5 746.6 1701.1 748.1 1702 750.4 1702.9 752.7 1703.8 755 1704.7 757.4 1705.6 759.7 1706.6 762 1707.5 764.3 1708.1 765.7 1708.4 766.6 1709.4 769 1710.3 771.3 1711.3 773.6 1712.2 775.9 1713.2 778.2 1714.1 780.5 1715.1 782.8 1715.6 783.9 1716.1 785.1 1717.1 787.4 1718.1 789.7 1718.3 790.2 1719.1 792 1720.1 794.3 1721.1 796.5 1722.1 798.8 1723.1 801.1 1723.1 801.2 1724.1 803.4 1725.2 805.7 1726.2 807.9 1727.2 810.2 1728.3 812.5 1729.3 814.7 1730.3 817 1730.6 817.6 1731.4 819.3 1732.4 821.6 1733.5 823.8 1734.5 826.1 1735.6 828.3 1736.6 830.6 1736.9 831.1 1737.7 832.9 1738.2 833.9 1738.7 835.2 1739.8 837.4 1740.8 839.7 1741.8 842 1742.9 844.2 1743.9 846.5 1744.9 848.8 1745.7 850.4 1746 851.1 1747 853.3 1748.1 855.6 1749.1 857.9 1750.2 860.1 1751.2 862.4 1752.3 864.6 1753.2 866.7 1753.4 866.9 1754.4 869.2 1755.5 871.4 1756.6 873.7 1757.6 875.9 1758.7 878.2 1759.8 880.4 1760.8 882.4 1760.9 882.7 1761.7 884.2 1762 884.9 1763.1 887.1 1764.3 889.4 1765.4 891.6 1766.5 893.8 1767.7 896.1 1768.3 897.3 1768.8 898.3 1769.9 900.5 1771.1 902.7 1772.2 904.9 1773.4 907.2 1774.5 909.4 1775.7 911.6 1775.8 911.8 1776.9 913.8 1778 916 1779.2 918.2 1780.4 920.4 1781.5 922.6 1782.7 924.8 1783.3 926 1783.9 927 1785 929.2 1786.2 931.4 1787.4 933.6 1788.6 935.8 1789.5 937.5 1789.8 938 1790.9 940.1 1791 940.2 1792.1 942.4 1793.3 944.6 1794.5 946.8 1795.7 949 1796.9 951.2 1798.1 953.4 1798.4 953.9 1799.3 955.6 1800.5 957.8 1801.7 960 1802.9 962.2 1804.1 964.3 1805.3 966.5 1805.9 967.6 1806.6 968.7 1807.8 970.9 1809 973.1 1809.7 974.3 1810.2 975.3 1811.4 977.4 1812.6 979.6 1813.4 981.1 1813.8 981.8 1815 984 1816.3 986.2 1817.5 988.4 1818.7 990.5 1819.9 992.7 1821 994.6 1821.1 994.9 1822.4 997.1 1823.6 999.2 1824.8 1001.4 1826 1003.6 1827.3 1005.8 1828.5 1007.9" fill="none" stroke="#a9a9a9" stroke-width="4.68" stroke-linejoin="round" stroke-dasharray="29.94 7.49 4.68 7.49"/>
</g>
<path d="M925.2 602.4v10.92M1075.75 602.4v10.92M1226.3 602.4v10.92M1376.85 602.4v10.92M1527.4 602.4v10.92M925.2 602.4h-10.92M925.2 514.64h-10.92M925.2 426.87h-10.92M925.2 339.11h-10.92M925.2 251.35h-10.92M925.2 163.58h-10.92" stroke="#000" stroke-width="2.5" fill="none"/>
<rect x="925.2" y="119.7" width="602.2" height="482.7" fill="none" stroke="#000" stroke-width="2.5" stroke-linejoin="miter"/>
<g class="tk" text-anchor="middle">
<text x="925.2" y="648.1">−1.0</text>
<text x="1075.75" y="648.1">−0.5</text>
<text x="1226.3" y="648.1">0.0</text>
<text x="1376.85" y="648.1">0.5</text>
<text x="1527.4" y="648.1">1.0</text>
</g>
<g class="tk" text-anchor="end">
<text x="903.4" y="614.3">−1.0</text>
<text x="903.4" y="526.54">−0.8</text>
<text x="903.4" y="438.77">−0.6</text>
<text x="903.4" y="351.01">−0.4</text>
<text x="903.4" y="263.25">−0.2</text>
<text x="903.4" y="175.48">0.0</text>
</g>
<text class="tk" text-anchor="middle" x="1226.3" y="690.5">H</text>
<text class="tk" text-anchor="middle" transform="translate(809 361.05) rotate(-90)">U</text>
</g>
<g id="axBL">
<g clip-path="url(#cBL)">
<g fill="none" stroke="#000000" stroke-width="3.12" stroke-linejoin="miter">
<path transform="translate(213.75 1198.51)" d="M-9.36 -9.36L9.36 9.36M-9.36 9.36L9.36 -9.36"/>
<path transform="translate(289 1192.59)" d="M-9.36 -9.36L9.36 9.36M-9.36 9.36L9.36 -9.36"/>
<path transform="translate(319.1 1181.72)" d="M-9.36 -9.36L9.36 9.36M-9.36 9.36L9.36 -9.36"/>
<path transform="translate(349.2 1153.43)" d="M-9.36 -9.36L9.36 9.36M-9.36 9.36L9.36 -9.36"/>
<path transform="translate(379.3 1085.67)" d="M-9.36 -9.36L9.36 9.36M-9.36 9.36L9.36 -9.36"/>
<path transform="translate(394.35 1030.06)" d="M-9.36 -9.36L9.36 9.36M-9.36 9.36L9.36 -9.36"/>
<path transform="translate(409.4 961.83)" d="M-9.36 -9.36L9.36 9.36M-9.36 9.36L9.36 -9.36"/>
<path transform="translate(416.93 928.2)" d="M-9.36 -9.36L9.36 9.36M-9.36 9.36L9.36 -9.36"/>
<path transform="translate(424.45 898.62)" d="M-9.36 -9.36L9.36 9.36M-9.36 9.36L9.36 -9.36"/>
<path transform="translate(431.97 877.23)" d="M-9.36 -9.36L9.36 9.36M-9.36 9.36L9.36 -9.36"/>
<path transform="translate(439.5 874.05)" d="M-9.36 -9.36L9.36 9.36M-9.36 9.36L9.36 -9.36"/>
<path transform="translate(447.02 878.23)" d="M-9.36 -9.36L9.36 9.36M-9.36 9.36L9.36 -9.36"/>
<path transform="translate(454.55 898.62)" d="M-9.36 -9.36L9.36 9.36M-9.36 9.36L9.36 -9.36"/>
<path transform="translate(462.07 929)" d="M-9.36 -9.36L9.36 9.36M-9.36 9.36L9.36 -9.36"/>
<path transform="translate(469.6 960.83)" d="M-9.36 -9.36L9.36 9.36M-9.36 9.36L9.36 -9.36"/>
<path transform="translate(484.65 1028.26)" d="M-9.36 -9.36L9.36 9.36M-9.36 9.36L9.36 -9.36"/>
<path transform="translate(499.7 1085.67)" d="M-9.36 -9.36L9.36 9.36M-9.36 9.36L9.36 -9.36"/>
<path transform="translate(529.8 1153.43)" d="M-9.36 -9.36L9.36 9.36M-9.36 9.36L9.36 -9.36"/>
<path transform="translate(559.9 1181.72)" d="M-9.36 -9.36L9.36 9.36M-9.36 9.36L9.36 -9.36"/>
<path transform="translate(590 1192.59)" d="M-9.36 -9.36L9.36 9.36M-9.36 9.36L9.36 -9.36"/>
<path transform="translate(665.25 1198.51)" d="M-9.36 -9.36L9.36 9.36M-9.36 9.36L9.36 -9.36"/>
</g>
<g fill="none" stroke="#000000" stroke-width="3.12" stroke-linejoin="miter">
<path transform="translate(213.75 1198.51)" d="M-9.36 -9.36H9.36V9.36H-9.36Z"/>
<path transform="translate(289 1192.59)" d="M-9.36 -9.36H9.36V9.36H-9.36Z"/>
<path transform="translate(319.1 1181.72)" d="M-9.36 -9.36H9.36V9.36H-9.36Z"/>
<path transform="translate(349.2 1153.43)" d="M-9.36 -9.36H9.36V9.36H-9.36Z"/>
<path transform="translate(379.3 1085.67)" d="M-9.36 -9.36H9.36V9.36H-9.36Z"/>
<path transform="translate(394.35 1030.06)" d="M-9.36 -9.36H9.36V9.36H-9.36Z"/>
<path transform="translate(409.4 960.83)" d="M-9.36 -9.36H9.36V9.36H-9.36Z"/>
<path transform="translate(416.93 928.2)" d="M-9.36 -9.36H9.36V9.36H-9.36Z"/>
<path transform="translate(424.45 898.62)" d="M-9.36 -9.36H9.36V9.36H-9.36Z"/>
<path transform="translate(431.97 877.23)" d="M-9.36 -9.36H9.36V9.36H-9.36Z"/>
<path transform="translate(439.5 874.05)" d="M-9.36 -9.36H9.36V9.36H-9.36Z"/>
<path transform="translate(447.02 882.73)" d="M-9.36 -9.36H9.36V9.36H-9.36Z"/>
<path transform="translate(454.55 898.62)" d="M-9.36 -9.36H9.36V9.36H-9.36Z"/>
<path transform="translate(462.07 929)" d="M-9.36 -9.36H9.36V9.36H-9.36Z"/>
<path transform="translate(469.6 960.83)" d="M-9.36 -9.36H9.36V9.36H-9.36Z"/>
<path transform="translate(484.65 1028.26)" d="M-9.36 -9.36H9.36V9.36H-9.36Z"/>
<path transform="translate(499.7 1085.67)" d="M-9.36 -9.36H9.36V9.36H-9.36Z"/>
<path transform="translate(529.8 1153.43)" d="M-9.36 -9.36H9.36V9.36H-9.36Z"/>
<path transform="translate(559.9 1181.72)" d="M-9.36 -9.36H9.36V9.36H-9.36Z"/>
<path transform="translate(590 1192.59)" d="M-9.36 -9.36H9.36V9.36H-9.36Z"/>
<path transform="translate(665.25 1198.51)" d="M-9.36 -9.36H9.36V9.36H-9.36Z"/>
</g>
<g fill="none" stroke="#696969" stroke-width="3.12" stroke-linejoin="miter">
<path transform="translate(213.75 1179.01)" d="M-10.92 0H10.92M0 -10.92V10.92"/>
<path transform="translate(289 1151.17)" d="M-10.92 0H10.92M0 -10.92V10.92"/>
<path transform="translate(307.81 1140.95)" d="M-10.92 0H10.92M0 -10.92V10.92"/>
<path transform="translate(326.62 1129.58)" d="M-10.92 0H10.92M0 -10.92V10.92"/>
<path transform="translate(345.44 1117.46)" d="M-10.92 0H10.92M0 -10.92V10.92"/>
<path transform="translate(364.25 1105.29)" d="M-10.92 0H10.92M0 -10.92V10.92"/>
<path transform="translate(386.82 1091.97)" d="M-10.92 0H10.92M0 -10.92V10.92"/>
<path transform="translate(401.88 1084.77)" d="M-10.92 0H10.92M0 -10.92V10.92"/>
<path transform="translate(420.69 1078.67)" d="M-10.92 0H10.92M0 -10.92V10.92"/>
<path transform="translate(439.5 1076.53)" d="M-10.92 0H10.92M0 -10.92V10.92"/>
<path transform="translate(458.31 1078.67)" d="M-10.92 0H10.92M0 -10.92V10.92"/>
<path transform="translate(477.12 1084.77)" d="M-10.92 0H10.92M0 -10.92V10.92"/>
<path transform="translate(492.18 1091.97)" d="M-10.92 0H10.92M0 -10.92V10.92"/>
<path transform="translate(514.75 1105.29)" d="M-10.92 0H10.92M0 -10.92V10.92"/>
<path transform="translate(533.56 1117.46)" d="M-10.92 0H10.92M0 -10.92V10.92"/>
<path transform="translate(552.38 1129.58)" d="M-10.92 0H10.92M0 -10.92V10.92"/>
<path transform="translate(571.19 1140.95)" d="M-10.92 0H10.92M0 -10.92V10.92"/>
<path transform="translate(590 1151.17)" d="M-10.92 0H10.92M0 -10.92V10.92"/>
<path transform="translate(665.25 1179.01)" d="M-10.92 0H10.92M0 -10.92V10.92"/>
</g>
<g fill="none" stroke="#696969" stroke-width="3.12" stroke-linejoin="round">
<path transform="translate(213.75 1179.01)" d="M-10.92 0A10.92 10.92 0 1 0 10.92 0A10.92 10.92 0 1 0 -10.92 0Z"/>
<path transform="translate(289 1151.17)" d="M-10.92 0A10.92 10.92 0 1 0 10.92 0A10.92 10.92 0 1 0 -10.92 0Z"/>
<path transform="translate(307.81 1140.95)" d="M-10.92 0A10.92 10.92 0 1 0 10.92 0A10.92 10.92 0 1 0 -10.92 0Z"/>
<path transform="translate(326.62 1129.58)" d="M-10.92 0A10.92 10.92 0 1 0 10.92 0A10.92 10.92 0 1 0 -10.92 0Z"/>
<path transform="translate(345.44 1117.46)" d="M-10.92 0A10.92 10.92 0 1 0 10.92 0A10.92 10.92 0 1 0 -10.92 0Z"/>
<path transform="translate(364.25 1105.29)" d="M-10.92 0A10.92 10.92 0 1 0 10.92 0A10.92 10.92 0 1 0 -10.92 0Z"/>
<path transform="translate(386.82 1091.97)" d="M-10.92 0A10.92 10.92 0 1 0 10.92 0A10.92 10.92 0 1 0 -10.92 0Z"/>
<path transform="translate(401.88 1084.77)" d="M-10.92 0A10.92 10.92 0 1 0 10.92 0A10.92 10.92 0 1 0 -10.92 0Z"/>
<path transform="translate(420.69 1078.67)" d="M-10.92 0A10.92 10.92 0 1 0 10.92 0A10.92 10.92 0 1 0 -10.92 0Z"/>
<path transform="translate(439.5 1076.53)" d="M-10.92 0A10.92 10.92 0 1 0 10.92 0A10.92 10.92 0 1 0 -10.92 0Z"/>
<path transform="translate(458.31 1078.67)" d="M-10.92 0A10.92 10.92 0 1 0 10.92 0A10.92 10.92 0 1 0 -10.92 0Z"/>
<path transform="translate(477.12 1084.77)" d="M-10.92 0A10.92 10.92 0 1 0 10.92 0A10.92 10.92 0 1 0 -10.92 0Z"/>
<path transform="translate(492.18 1091.97)" d="M-10.92 0A10.92 10.92 0 1 0 10.92 0A10.92 10.92 0 1 0 -10.92 0Z"/>
<path transform="translate(514.75 1105.29)" d="M-10.92 0A10.92 10.92 0 1 0 10.92 0A10.92 10.92 0 1 0 -10.92 0Z"/>
<path transform="translate(533.56 1117.46)" d="M-10.92 0A10.92 10.92 0 1 0 10.92 0A10.92 10.92 0 1 0 -10.92 0Z"/>
<path transform="translate(552.38 1129.58)" d="M-10.92 0A10.92 10.92 0 1 0 10.92 0A10.92 10.92 0 1 0 -10.92 0Z"/>
<path transform="translate(571.19 1140.95)" d="M-10.92 0A10.92 10.92 0 1 0 10.92 0A10.92 10.92 0 1 0 -10.92 0Z"/>
<path transform="translate(590 1151.17)" d="M-10.92 0A10.92 10.92 0 1 0 10.92 0A10.92 10.92 0 1 0 -10.92 0Z"/>
<path transform="translate(665.25 1179.01)" d="M-10.92 0A10.92 10.92 0 1 0 10.92 0A10.92 10.92 0 1 0 -10.92 0Z"/>
</g>
<g fill="none" stroke="#a9a9a9" stroke-width="3.12" stroke-linejoin="bevel">
<path transform="translate(213.75 1164.12)" d="M0 -10.92L-2.45 -3.37L-10.38 -3.37L-3.97 1.29L-6.42 8.83L-0 4.17L6.42 8.83L3.97 1.29L10.38 -3.37L2.45 -3.37Z"/>
<path transform="translate(289 1152.47)" d="M0 -10.92L-2.45 -3.37L-10.38 -3.37L-3.97 1.29L-6.42 8.83L-0 4.17L6.42 8.83L3.97 1.29L10.38 -3.37L2.45 -3.37Z"/>
<path transform="translate(326.62 1147.16)" d="M0 -10.92L-2.45 -3.37L-10.38 -3.37L-3.97 1.29L-6.42 8.83L-0 4.17L6.42 8.83L3.97 1.29L10.38 -3.37L2.45 -3.37Z"/>
<path transform="translate(364.25 1142.84)" d="M0 -10.92L-2.45 -3.37L-10.38 -3.37L-3.97 1.29L-6.42 8.83L-0 4.17L6.42 8.83L3.97 1.29L10.38 -3.37L2.45 -3.37Z"/>
<path transform="translate(401.88 1140.02)" d="M0 -10.92L-2.45 -3.37L-10.38 -3.37L-3.97 1.29L-6.42 8.83L-0 4.17L6.42 8.83L3.97 1.29L10.38 -3.37L2.45 -3.37Z"/>
<path transform="translate(424.45 1139.19)" d="M0 -10.92L-2.45 -3.37L-10.38 -3.37L-3.97 1.29L-6.42 8.83L-0 4.17L6.42 8.83L3.97 1.29L10.38 -3.37L2.45 -3.37Z"/>
<path transform="translate(431.97 1139.07)" d="M0 -10.92L-2.45 -3.37L-10.38 -3.37L-3.97 1.29L-6.42 8.83L-0 4.17L6.42 8.83L3.97 1.29L10.38 -3.37L2.45 -3.37Z"/>
<path transform="translate(447.02 1139.07)" d="M0 -10.92L-2.45 -3.37L-10.38 -3.37L-3.97 1.29L-6.42 8.83L-0 4.17L6.42 8.83L3.97 1.29L10.38 -3.37L2.45 -3.37Z"/>
<path transform="translate(454.55 1139.19)" d="M0 -10.92L-2.45 -3.37L-10.38 -3.37L-3.97 1.29L-6.42 8.83L-0 4.17L6.42 8.83L3.97 1.29L10.38 -3.37L2.45 -3.37Z"/>
<path transform="translate(477.12 1140.02)" d="M0 -10.92L-2.45 -3.37L-10.38 -3.37L-3.97 1.29L-6.42 8.83L-0 4.17L6.42 8.83L3.97 1.29L10.38 -3.37L2.45 -3.37Z"/>
<path transform="translate(514.75 1142.84)" d="M0 -10.92L-2.45 -3.37L-10.38 -3.37L-3.97 1.29L-6.42 8.83L-0 4.17L6.42 8.83L3.97 1.29L10.38 -3.37L2.45 -3.37Z"/>
<path transform="translate(552.38 1147.16)" d="M0 -10.92L-2.45 -3.37L-10.38 -3.37L-3.97 1.29L-6.42 8.83L-0 4.17L6.42 8.83L3.97 1.29L10.38 -3.37L2.45 -3.37Z"/>
<path transform="translate(590 1152.47)" d="M0 -10.92L-2.45 -3.37L-10.38 -3.37L-3.97 1.29L-6.42 8.83L-0 4.17L6.42 8.83L3.97 1.29L10.38 -3.37L2.45 -3.37Z"/>
<path transform="translate(665.25 1164.12)" d="M0 -10.92L-2.45 -3.37L-10.38 -3.37L-3.97 1.29L-6.42 8.83L-0 4.17L6.42 8.83L3.97 1.29L10.38 -3.37L2.45 -3.37Z"/>
</g>
<g fill="none" stroke="#a9a9a9" stroke-width="3.12" stroke-linejoin="miter">
<path transform="translate(213.75 1164.12)" d="M0 -15.44L15.44 0L0 15.44L-15.44 0Z"/>
<path transform="translate(289 1152.47)" d="M0 -15.44L15.44 0L0 15.44L-15.44 0Z"/>
<path transform="translate(326.62 1147.16)" d="M0 -15.44L15.44 0L0 15.44L-15.44 0Z"/>
<path transform="translate(364.25 1142.84)" d="M0 -15.44L15.44 0L0 15.44L-15.44 0Z"/>
<path transform="translate(401.88 1140.02)" d="M0 -15.44L15.44 0L0 15.44L-15.44 0Z"/>
<path transform="translate(431.97 1139.07)" d="M0 -15.44L15.44 0L0 15.44L-15.44 0Z"/>
<path transform="translate(447.02 1139.07)" d="M0 -15.44L15.44 0L0 15.44L-15.44 0Z"/>
<path transform="translate(477.12 1140.02)" d="M0 -15.44L15.44 0L0 15.44L-15.44 0Z"/>
<path transform="translate(514.75 1142.84)" d="M0 -15.44L15.44 0L0 15.44L-15.44 0Z"/>
<path transform="translate(552.38 1147.16)" d="M0 -15.44L15.44 0L0 15.44L-15.44 0Z"/>
<path transform="translate(590 1152.47)" d="M0 -15.44L15.44 0L0 15.44L-15.44 0Z"/>
<path transform="translate(665.25 1164.12)" d="M0 -15.44L15.44 0L0 15.44L-15.44 0Z"/>
</g>
<path d="M138.5 1199 141 1199 143.5 1199.1 146 1199.1 148.5 1199.1 151 1199.1 153.5 1199.1 156 1199.1 158.5 1199.1 161 1199.1 163.4 1199.1 165.9 1199.1 168.4 1199.1 170.9 1199.1 173.4 1199.1 175.9 1199.1 178.4 1199.1 180.9 1199.1 183.4 1199.1 185.9 1199.1 188.4 1199.1 190.9 1199.1 193.4 1199.1 195.9 1199.1 198.4 1199.1 200.9 1199.1 203.4 1199.1 205.9 1199.1 208.3 1199.1 210.8 1199.1 213.3 1199.1 215.8 1199.1 218.3 1199.1 220.8 1199.1 223.3 1199.1 225.8 1199.1 228.3 1199.1 230.8 1199.1 233.3 1199.1 235.8 1199.1 238.3 1199.1 240.8 1199.1 243.3 1199.1 245.8 1199.1 248.3 1199.1 250.7 1199.1 253.2 1199.1 255.7 1199.1 258.2 1199.1 258.9 1199.1 260.7 1199.1 263.2 1199.1 265.7 1199.1 268.2 1199.1 270.7 1199 273.2 1199 275.7 1198.9 278.2 1198.9 280.7 1198.8 283.2 1198.7 285.7 1198.7 288.2 1198.6 290.6 1198.5 293.1 1198.4 295.6 1198.4 298.1 1198.3 300.6 1198.2 302.2 1198.2 303.1 1198.2 305.6 1198.1 308.1 1198 310.6 1198 313.1 1197.9 315.6 1197.8 318.1 1197.7 320.6 1197.6 321.5 1197.5 323.1 1197.4 325.5 1197.2 328 1196.9 330.5 1196.5 333 1196.1 335.4 1195.7 337 1195.4 337.8 1195.2 340.3 1194.6 342.7 1193.9 345.1 1193.2 347.5 1192.3 349.8 1191.4 352 1190.3 352.5 1190.1 354.2 1189.2 356.3 1187.8 358.3 1186.3 360.2 1184.6 360.2 1184.6 361.9 1182.9 363.5 1180.9 365 1178.9 366.4 1176.8 367.6 1174.6 367.8 1174.2 368.7 1172.4 369.7 1170.1 370.6 1167.8 371.5 1165.4 372.3 1163.1 373 1160.7 373.6 1158.9 373.8 1158.3 374.4 1155.9 375.1 1153.5 375.6 1151 376.2 1148.6 376.7 1146.1 377.2 1143.7 377.3 1143.3 377.7 1141.3 378.2 1138.8 378.6 1136.4 379.1 1133.9 379.5 1131.4 379.9 1129 380.3 1126.5 380.6 1124 381 1121.6 381 1121.6 381.3 1119.1 381.6 1116.6 381.9 1114.2 382.2 1111.7 382.5 1109.2 382.8 1106.7 383.1 1104.2 383.3 1101.8 383.6 1099.3 383.8 1096.8 384.1 1094.3 384.3 1091.8 384.5 1089.3 384.7 1086.8 384.9 1084.4 385.1 1081.9 385.3 1080.1 385.3 1079.4 385.5 1076.9 385.7 1074.4 385.8 1071.9 386 1069.4 386.2 1067 386.3 1064.5 386.5 1062 386.7 1059.5 386.8 1057 386.9 1054.5 387.1 1052 387.2 1049.5 387.4 1047 387.5 1044.5 387.6 1042 387.7 1039.6 387.9 1037.1 388 1034.6 388.1 1032.1 388.2 1029.6 388.3 1027.1 388.4 1026.3 388.4 1024.6 388.5 1022.1 388.6 1019.6 388.7 1017.1 388.8 1014.6 388.9 1012.1 389 1009.7 389.1 1007.2 389.2 1004.7 389.3 1002.2 389.4 999.7 389.5 997.2 389.6 994.7 389.7 992.2 389.8 989.7 389.9 987.2 390 984.7 390 982.2 390.1 979.7 390.2 977.2 390.3 974.8 390.3 972.3 390.4 969.8 390.5 967.3 390.6 964.8 390.6 962.3 390.7 959.8 390.7 957.3 390.8 955.6 390.8 954.8 390.9 952.3 390.9 949.8 391 947.3 391 944.8 391.1 942.3 391.1 939.8 391.2 937.3 391.2 934.9 391.3 932.4 391.3 929.9 391.4 927.4 391.4 924.9 391.5 922.4 391.5 919.9 391.6 917.4 391.6 914.9 391.7 912.4 391.7 909.9 391.7 907.4 391.8 904.9 391.8 902.4 391.9 899.9 391.9 897.4 391.9 895 392 892.5 392 890 392.1 887.5 392.1 885 392.1 882.5 392.2 880 392.2 877.5 392.2 875 392.3 872.5 392.3 870 392.3 867.5 392.4 865 392.4 862.5 392.4 860 392.5 857.5 392.5 855 392.5 852.6 392.6 850.1 392.6 850 392.6 847.6 392.6 845.1 392.7 842.6 392.7 840.1 392.7 837.6 392.8 835.1 392.8 832.6 392.8 830.1 392.9 827.6 392.9 825.1 392.9 822.6 392.9 820.1 393 817.6 393 815.1 393 812.6 393 810.2 393.1 807.7 393.1 805.2 393.1 802.7 393.1 800.2 393.2 799.2 393.2 797.7 393.2 795.2 393.2 792.7 393.2 790.2 393.3 787.7 393.3 785.2 393.3 782.7 393.3 780.2 393.4 777.7 393.4 775.2 393.4 772.7 393.5 770.2 393.5 767.7 393.5 765.3 393.5 762.8 393.6 760.3 393.6 757.8 393.6 755.3 393.6 752.8 393.7 750.3 393.7 747.8 393.7 745.3 393.7 742.8 393.7 740.3 393.8 737.8 393.8 735.3 393.8 732.8 393.8 730.3 393.8 728.6 393.8 727.8 393.9 725.3 393.9 722.9 393.9 720.4 393.9 717.9 393.9 715.4 394 712.9 394 710.4 394 707.9 394 705.4 394 702.9 394.1 700.4 394.1 697.9 394.1 695.4 394.1 692.9 394.1 690.4 394.2 687.9 394.2 685.4 394.2 682.9 394.2 680.5 394.2 678 394.3 675.5 394.3 673 394.3 670.5 394.3 668 394.3 665.5 394.3 663 394.4 660.5 394.4 658 394.4 655.5 394.4 653 394.4 650.5 394.5 648 394.5 645.5 394.5 643 394.5 640.5 394.5 638 394.5 635.6 394.6 633.1 394.6 630.6 394.6 628.1 394.6 625.6 394.6 623.1 394.6 620.6 394.7 618.1 394.7 615.6 394.7 613.1 394.7 610.6 394.7 608.1 394.7 605.6 394.8 603.1 394.8 600.6 394.8 598.1 394.8 595.6 394.8 593.2 394.8 590.7 394.8 588.2 394.9 585.7 394.9 583.2 394.9 580.7 394.9 578.2 394.9 575.7 394.9 573.2 395 570.7 395 568.2 395 565.7 395 563.2 395 560.7 395 558.2 395 555.7 395 553.2 395.1 550.7 395.1 548.3 395.1 545.8 395.1 543.3 395.1 540.8 395.1 538.3 395.1 535.8 395.1 533.3 395.2 530.8 395.2 528.3 395.2 525.8 395.2 523.3 395.2 520.8 395.2 518.3 395.2 515.8 395.2 513.3 395.2 510.8 395.3 508.3 395.3 505.9 395.3 503.4 395.3 500.9 395.3 498.4 395.3 495.9 395.3 493.4 395.3 495.9 395.3 498.4 395.3 500.9 395.3 503.4 395.3 505.9 395.3 508.4 395.3 510.9 395.3 513.4 395.3 515.9 395.3 518.4 395.3 520.9 395.3 523.4 395.3 525.9 395.4 528.3 395.4 530.8 395.4 533.3 395.4 535.8 395.4 538.3 395.4 540.8 395.4 543.3 395.4 545.8 395.4 548.3 395.4 550.8 395.4 553.3 395.4 555.8 395.4 558.3 395.5 560.8 395.5 563.3 395.5 565.8 395.5 568.3 395.5 570.8 395.5 573.3 395.5 575.8 395.5 578.3 395.6 580.8 395.6 583.3 395.6 585.8 395.6 588.3 395.6 590.8 395.6 593.3 395.6 595.8 395.7 598.3 395.7 600.8 395.7 603.3 395.7 605.8 395.7 608.3 395.7 610.8 395.7 613.3 395.8 615.8 395.8 618.3 395.8 620.8 395.8 623.3 395.8 625.8 395.9 628.3 395.9 630.8 395.9 633.2 395.9 635.7 395.9 638.2 395.9 640.7 396 643.2 396 645.7 396 648.2 396 650.7 396 653.2 396.1 655.7 396.1 658.2 396.1 660.7 396.1 663.2 396.2 665.7 396.2 668.2 396.2 670.7 396.2 673.2 396.2 675.7 396.3 678.2 396.3 680.7 396.3 683.2 396.3 685.7 396.4 688.2 396.4 690.7 396.4 693.2 396.4 695.7 396.4 698.2 396.5 700.7 396.5 703.2 396.5 705.7 396.5 708.2 396.6 710.7 396.6 713.2 396.6 715.7 396.6 718.2 396.7 720.7 396.7 723.2 396.7 725.6 396.7 728.1 396.8 728.6 396.8 730.6 396.8 733.1 396.8 735.6 396.9 738.1 396.9 740.6 396.9 743.1 397 745.6 397 748.1 397.1 750.6 397.1 753.1 397.2 755.6 397.2 758.1 397.2 760.6 397.3 763.1 397.4 765.6 397.4 768.1 397.5 770.6 397.5 773.1 397.6 775.6 397.6 778.1 397.7 780.6 397.7 783.1 397.8 785.6 397.9 788.1 397.9 790.6 398 793.1 398 795.6 398.1 798.1 398.2 800.6 398.2 803.1 398.3 805.6 398.3 808.1 398.4 810.6 398.4 810.9 398.4 813 398.5 815.5 398.6 818 398.6 820.5 398.7 823 398.7 825.5 398.8 828 398.9 830.5 398.9 833 399 835.5 399.1 838 399.1 840.5 399.2 843 399.3 845.5 399.4 848 399.5 850 399.5 850.5 399.6 853 399.7 855.5 399.8 858 399.9 860.5 400 863 400.1 865.5 400.3 868 400.4 870.5 400.6 872.9 400.6 873.3 400.7 875.4 400.9 877.9 401 880.4 401.2 882.9 401.4 885.4 401.6 887.9 401.8 890.4 402.1 892.9 402.3 895.4 402.4 896.4 402.6 897.8 402.8 900.3 403.1 902.8 403.4 905.3 403.7 907.8 404.1 910.3 404.5 912.7 404.9 915.2 405 915.8 405.3 917.6 405.9 920.1 406.5 922.5 407.2 924.9 407.4 925.7 408 927.4 408.9 929.8 409.8 931 410.5 931.4 412.3 932.1 412.8 932 414.9 930.6 416.7 928.7 416.8 928.6 418.2 926.7 419.5 924.5 420.7 922.3 421.5 920.9 422 920.1 423.4 918 424.8 916 426.2 914 426.2 913.9 427.6 911.9 429.1 909.8 430.4 907.9 430.5 907.8 431.8 905.7 433.2 903.5 433.8 902.6 434.6 901.5 436.2 899.5 436.7 899.1 438.3 898.2 439.5 897.9 440.7 898.2 442.3 899.1 442.8 899.5 444.4 901.5 445.2 902.6 445.8 903.5 447.2 905.7 448.5 907.8 448.6 907.9 449.9 909.8 451.4 911.9 452.8 913.9 452.8 914 454.2 916 455.6 918 457 920.1 457.5 920.9 458.3 922.3 459.5 924.5 460.8 926.7 462.2 928.6 462.3 928.7 464.1 930.6 466.2 932 466.7 932.1 468.5 931.4 469.2 931 470.1 929.8 471 927.4 471.6 925.7 471.8 924.9 472.5 922.5 473.1 920.1 473.7 917.6 474 915.8 474.1 915.2 474.5 912.7 474.9 910.3 475.3 907.8 475.6 905.3 475.9 902.8 476.2 900.3 476.4 897.8 476.6 896.4 476.7 895.4 476.9 892.9 477.2 890.4 477.4 887.9 477.6 885.4 477.8 882.9 478 880.4 478.1 877.9 478.3 875.4 478.4 873.3 478.4 872.9 478.6 870.5 478.7 868 478.9 865.5 479 863 479.1 860.5 479.2 858 479.3 855.5 479.4 853 479.5 850.5 479.5 850 479.6 848 479.7 845.5 479.8 843 479.9 840.5 479.9 838 480 835.5 480.1 833 480.1 830.5 480.2 828 480.3 825.5 480.3 823 480.4 820.5 480.4 818 480.5 815.5 480.6 813 480.6 810.9 480.6 810.6 480.7 808.1 480.7 805.6 480.8 803.1 480.8 800.6 480.9 798.1 481 795.6 481 793.1 481.1 790.6 481.1 788.1 481.2 785.6 481.3 783.1 481.3 780.6 481.4 778.1 481.4 775.6 481.5 773.1 481.5 770.6 481.6 768.1 481.6 765.6 481.7 763.1 481.8 760.6 481.8 758.1 481.8 755.6 481.9 753.1 481.9 750.6 482 748.1 482 745.6 482.1 743.1 482.1 740.6 482.1 738.1 482.2 735.6 482.2 733.1 482.2 730.6 482.2 728.6 482.3 728.1 482.3 725.6 482.3 723.2 482.3 720.7 482.4 718.2 482.4 715.7 482.4 713.2 482.4 710.7 482.5 708.2 482.5 705.7 482.5 703.2 482.5 700.7 482.6 698.2 482.6 695.7 482.6 693.2 482.6 690.7 482.6 688.2 482.7 685.7 482.7 683.2 482.7 680.7 482.7 678.2 482.8 675.7 482.8 673.2 482.8 670.7 482.8 668.2 482.8 665.7 482.9 663.2 482.9 660.7 482.9 658.2 482.9 655.7 483 653.2 483 650.7 483 648.2 483 645.7 483 643.2 483.1 640.7 483.1 638.2 483.1 635.7 483.1 633.2 483.1 630.8 483.1 628.3 483.2 625.8 483.2 623.3 483.2 620.8 483.2 618.3 483.2 615.8 483.3 613.3 483.3 610.8 483.3 608.3 483.3 605.8 483.3 603.3 483.3 600.8 483.3 598.3 483.4 595.8 483.4 593.3 483.4 590.8 483.4 588.3 483.4 585.8 483.4 583.3 483.4 580.8 483.5 578.3 483.5 575.8 483.5 573.3 483.5 570.8 483.5 568.3 483.5 565.8 483.5 563.3 483.5 560.8 483.6 558.3 483.6 555.8 483.6 553.3 483.6 550.8 483.6 548.3 483.6 545.8 483.6 543.3 483.6 540.8 483.6 538.3 483.6 535.8 483.6 533.3 483.6 530.8 483.6 528.3 483.7 525.9 483.7 523.4 483.7 520.9 483.7 518.4 483.7 515.9 483.7 513.4 483.7 510.9 483.7 508.4 483.7 505.9 483.7 503.4 483.7 500.9 483.7 498.4 483.7 495.9 483.7 493.4 483.7 495.9 483.7 498.4 483.7 500.9 483.7 503.4 483.7 505.9 483.7 508.3 483.8 510.8 483.8 513.3 483.8 515.8 483.8 518.3 483.8 520.8 483.8 523.3 483.8 525.8 483.8 528.3 483.8 530.8 483.9 533.3 483.9 535.8 483.9 538.3 483.9 540.8 483.9 543.3 483.9 545.8 483.9 548.3 483.9 550.7 484 553.2 484 555.7 484 558.2 484 560.7 484 563.2 484 565.7 484 568.2 484 570.7 484.1 573.2 484.1 575.7 484.1 578.2 484.1 580.7 484.1 583.2 484.1 585.7 484.2 588.2 484.2 590.7 484.2 593.2 484.2 595.6 484.2 598.1 484.2 600.6 484.2 603.1 484.3 605.6 484.3 608.1 484.3 610.6 484.3 613.1 484.3 615.6 484.3 618.1 484.4 620.6 484.4 623.1 484.4 625.6 484.4 628.1 484.4 630.6 484.4 633.1 484.5 635.6 484.5 638 484.5 640.5 484.5 643 484.5 645.5 484.5 648 484.6 650.5 484.6 653 484.6 655.5 484.6 658 484.6 660.5 484.7 663 484.7 665.5 484.7 668 484.7 670.5 484.7 673 484.7 675.5 484.8 678 484.8 680.5 484.8 682.9 484.8 685.4 484.8 687.9 484.9 690.4 484.9 692.9 484.9 695.4 484.9 697.9 484.9 700.4 485 702.9 485 705.4 485 707.9 485 710.4 485 712.9 485.1 715.4 485.1 717.9 485.1 720.4 485.1 722.9 485.1 725.3 485.2 727.8 485.2 728.6 485.2 730.3 485.2 732.8 485.2 735.3 485.2 737.8 485.3 740.3 485.3 742.8 485.3 745.3 485.3 747.8 485.3 750.3 485.4 752.8 485.4 755.3 485.4 757.8 485.4 760.3 485.5 762.8 485.5 765.3 485.5 767.7 485.5 770.2 485.6 772.7 485.6 775.2 485.6 777.7 485.7 780.2 485.7 782.7 485.7 785.2 485.7 787.7 485.8 790.2 485.8 792.7 485.8 795.2 485.8 797.7 485.8 799.2 485.9 800.2 485.9 802.7 485.9 805.2 485.9 807.7 486 810.2 486 812.6 486 815.1 486 817.6 486.1 820.1 486.1 822.6 486.1 825.1 486.1 827.6 486.2 830.1 486.2 832.6 486.2 835.1 486.3 837.6 486.3 840.1 486.3 842.6 486.4 845.1 486.4 847.6 486.4 850 486.4 850.1 486.5 852.6 486.5 855 486.5 857.5 486.6 860 486.6 862.5 486.6 865 486.7 867.5 486.7 870 486.7 872.5 486.8 875 486.8 877.5 486.8 880 486.9 882.5 486.9 885 486.9 887.5 487 890 487 892.5 487.1 895 487.1 897.4 487.1 899.9 487.2 902.4 487.2 904.9 487.3 907.4 487.3 909.9 487.3 912.4 487.4 914.9 487.4 917.4 487.5 919.9 487.5 922.4 487.6 924.9 487.6 927.4 487.7 929.9 487.7 932.4 487.8 934.9 487.8 937.3 487.9 939.8 487.9 942.3 488 944.8 488 947.3 488.1 949.8 488.1 952.3 488.2 954.8 488.2 955.6 488.3 957.3 488.3 959.8 488.4 962.3 488.4 964.8 488.5 967.3 488.6 969.8 488.7 972.3 488.7 974.8 488.8 977.2 488.9 979.7 489 982.2 489 984.7 489.1 987.2 489.2 989.7 489.3 992.2 489.4 994.7 489.5 997.2 489.6 999.7 489.7 1002.2 489.8 1004.7 489.9 1007.2 490 1009.7 490.1 1012.1 490.2 1014.6 490.3 1017.1 490.4 1019.6 490.5 1022.1 490.6 1024.6 490.6 1026.3 490.7 1027.1 490.8 1029.6 490.9 1032.1 491 1034.6 491.1 1037.1 491.3 1039.6 491.4 1042 491.5 1044.5 491.6 1047 491.8 1049.5 491.9 1052 492.1 1054.5 492.2 1057 492.3 1059.5 492.5 1062 492.7 1064.5 492.8 1067 493 1069.4 493.2 1071.9 493.3 1074.4 493.5 1076.9 493.7 1079.4 493.7 1080.1 493.9 1081.9 494.1 1084.4 494.3 1086.8 494.5 1089.3 494.7 1091.8 494.9 1094.3 495.2 1096.8 495.4 1099.3 495.7 1101.8 495.9 1104.2 496.2 1106.7 496.5 1109.2 496.8 1111.7 497.1 1114.2 497.4 1116.6 497.7 1119.1 498 1121.6 498 1121.6 498.4 1124 498.7 1126.5 499.1 1129 499.5 1131.4 499.9 1133.9 500.4 1136.4 500.8 1138.8 501.3 1141.3 501.7 1143.3 501.8 1143.7 502.3 1146.1 502.8 1148.6 503.4 1151 503.9 1153.5 504.6 1155.9 505.2 1158.3 505.4 1158.9 506 1160.7 506.7 1163.1 507.5 1165.4 508.4 1167.8 509.3 1170.1 510.3 1172.4 511.2 1174.2 511.4 1174.6 512.6 1176.8 514 1178.9 515.5 1180.9 517.1 1182.9 518.8 1184.6 518.8 1184.6 520.7 1186.3 522.7 1187.8 524.8 1189.2 526.5 1190.1 527 1190.3 529.2 1191.4 531.5 1192.3 533.9 1193.2 536.3 1193.9 538.7 1194.6 541.2 1195.2 542 1195.4 543.6 1195.7 546 1196.1 548.5 1196.5 551 1196.9 553.5 1197.2 555.9 1197.4 557.5 1197.5 558.4 1197.6 560.9 1197.7 563.4 1197.8 565.9 1197.9 568.4 1198 570.9 1198 573.4 1198.1 575.9 1198.2 576.8 1198.2 578.4 1198.2 580.9 1198.3 583.4 1198.4 585.9 1198.4 588.4 1198.5 590.8 1198.6 593.3 1198.7 595.8 1198.7 598.3 1198.8 600.8 1198.9 603.3 1198.9 605.8 1199 608.3 1199 610.8 1199.1 613.3 1199.1 615.8 1199.1 618.3 1199.1 620.1 1199.1 620.8 1199.1 623.3 1199.1 625.8 1199.1 628.3 1199.1 630.7 1199.1 633.2 1199.1 635.7 1199.1 638.2 1199.1 640.7 1199.1 643.2 1199.1 645.7 1199.1 648.2 1199.1 650.7 1199.1 653.2 1199.1 655.7 1199.1 658.2 1199.1 660.7 1199.1 663.2 1199.1 665.7 1199.1 668.2 1199.1 670.7 1199.1 673.1 1199.1 675.6 1199.1 678.1 1199.1 680.6 1199.1 683.1 1199.1 685.6 1199.1 688.1 1199.1 690.6 1199.1 693.1 1199.1 695.6 1199.1 698.1 1199.1 700.6 1199.1 703.1 1199.1 705.6 1199.1 708.1 1199.1 710.6 1199.1 713.1 1199.1 715.6 1199.1 718 1199.1 720.5 1199.1 723 1199.1 725.5 1199.1 728 1199.1 730.5 1199.1 733 1199.1 735.5 1199.1 738 1199 740.5 1199" fill="none" stroke="#000000" stroke-width="4.68" stroke-linejoin="round" stroke-linecap="square"/>
<path d="M138.5 1198.6 141 1198.6 143.5 1198.5 146 1198.5 148.5 1198.5 150.9 1198.5 153.4 1198.5 155.9 1198.4 158.4 1198.4 160.9 1198.4 163.4 1198.3 165.9 1198.3 168.3 1198.2 168.6 1198.2 170.8 1198.2 173.3 1198.2 175.8 1198.1 178.3 1198 180.8 1198 183.3 1197.9 185.8 1197.8 188.2 1197.8 190.7 1197.7 193.2 1197.6 195.7 1197.5 198.2 1197.4 200.5 1197.3 200.7 1197.3 203.2 1197.2 205.6 1197 208.1 1196.9 210.6 1196.7 213.1 1196.5 215.6 1196.4 218 1196.1 220.5 1195.9 223 1195.7 224.2 1195.6 225.5 1195.5 228 1195.2 230.4 1194.9 232.9 1194.7 235.4 1194.3 237.8 1194 240.3 1193.6 242.7 1193.2 242.9 1193.2 245.2 1192.8 247.6 1192.3 250.1 1191.8 252.5 1191.2 255 1190.6 257.4 1189.9 259.7 1189.2 261.4 1188.7 262.1 1188.5 264.4 1187.6 266.6 1186.6 268.9 1185.5 271.1 1184.3 273.3 1183.1 275.4 1181.8 276.5 1181.1 277.5 1180.5 279.6 1179.1 281.6 1177.6 283.6 1176.1 285.5 1174.5 287.1 1173 287.3 1172.8 289.1 1171.1 290.9 1169.3 292.5 1167.4 293.9 1165.5 294 1165.4 295.4 1163.4 296.7 1161.3 298 1159.2 299.3 1157 300.5 1154.8 301.6 1152.5 302.7 1150.3 303.7 1148 304.7 1145.7 305.6 1143.4 305.6 1143.3 306.4 1141.1 307.1 1138.7 307.9 1136.4 308.6 1134 309.2 1131.5 309.8 1129.1 310.4 1126.7 311 1124.2 311.5 1121.8 312 1119.6 312 1119.4 312.5 1116.9 313 1114.5 313.4 1112.1 313.9 1109.6 314.3 1107.1 314.7 1104.7 315 1102.2 315.4 1099.8 315.8 1097.3 316 1095.8 316.1 1094.8 316.5 1092.4 316.8 1089.9 317.1 1087.4 317.5 1085 317.8 1082.5 318.1 1080 318.4 1077.6 318.7 1075.1 318.9 1072.6 319.2 1070.2 319.3 1069.7 319.5 1067.7 319.7 1065.2 320 1062.7 320.3 1060.3 320.5 1057.8 320.7 1055.3 321 1052.8 321.2 1050.3 321.3 1047.9 321.5 1046.3 321.5 1045.4 321.7 1042.9 321.8 1040.4 321.9 1037.9 322 1035.5 322.2 1033 322.3 1030.5 322.4 1028 322.5 1025.5 322.6 1023 322.7 1020.5 322.8 1018.1 322.9 1015.6 322.9 1013.5 322.9 1013.1 323 1010.6 323.1 1008.1 323.2 1005.6 323.3 1003.1 323.3 1000.6 323.4 998.2 323.5 995.7 323.5 993.2 323.6 990.7 323.7 988.5 323.7 988.2 323.7 985.7 323.8 983.2 323.9 980.8 324 978.3 324.1 975.8 324.1 973.3 324.2 970.8 324.3 968.3 324.4 965.8 324.4 963.8 324.4 963.4 324.5 960.9 324.6 958.4 324.7 955.9 324.8 953.4 324.8 950.9 324.9 948.4 325 945.9 325.1 943.5 325.1 941 325.2 938.8 325.2 938.5 325.3 936 325.4 933.5 325.5 931 325.5 928.5 325.6 926.1 325.7 923.6 325.8 921.1 325.9 918.6 326 916.1 326 913.8 326 913.6 326.1 911.1 326.2 908.7 326.3 906.2 326.4 903.7 326.5 901.2 326.6 898.7 326.7 896.2 326.8 893.7 326.9 891.3 326.9 893.8 326.9 896.3 326.9 898.8 326.9 901.3 326.9 903.8 326.9 906.3 327 908.8 327 911.2 327 913.7 327 916.2 327.1 918.7 327.1 921.2 327.1 923.7 327.2 926.2 327.2 928.7 327.2 931.2 327.3 933.7 327.3 936.2 327.4 938.7 327.4 939.1 327.4 941.2 327.4 943.7 327.5 946.2 327.6 948.7 327.6 951.2 327.7 953.7 327.7 956.2 327.8 958.7 327.9 961.2 328 963.7 328 965.1 328.1 966.2 328.1 968.7 328.2 971.2 328.3 973.7 328.4 976.2 328.5 978.7 328.6 981.2 328.7 983.7 328.9 986.2 329 988.7 329.1 991.2 329.1 991.3 329.3 993.7 329.4 996.2 329.6 998.7 329.8 1001.2 329.9 1003.7 330.1 1006.2 330.3 1008.7 330.5 1011.1 330.7 1013.6 331 1016.1 331 1016.2 331.2 1018.6 331.4 1021.1 331.6 1023.6 331.8 1026.1 332.1 1028.6 332.4 1031.1 332.6 1033.6 332.9 1036 333.2 1038.5 333.5 1040.1 333.6 1041 334 1043.4 334.5 1045.9 335 1048.4 335.5 1050.8 336.1 1053.2 336.7 1055.7 337 1056.9 337.3 1058.1 338 1060.5 338.7 1062.9 339.5 1065.3 340.4 1067.6 341.2 1070 342.2 1072.3 342.2 1072.4 343.3 1074.5 344.4 1076.8 345.7 1078.9 346.5 1080 347.2 1080.9 348.8 1082.8 350.6 1084.7 352.4 1086.5 354.4 1088.1 356.5 1089.5 358.3 1090.5 358.6 1090.7 360.8 1091.7 363.3 1092.5 365.7 1093.1 367.2 1093.3 368.2 1093.3 370.7 1093.4 373.2 1093.5 375.7 1093.5 376.9 1093.5 378.2 1093.4 380.6 1093 383.1 1092.3 385.5 1091.5 386.7 1091.1 387.9 1090.8 390.2 1089.9 392.5 1089 394.8 1088.1 397.1 1087.1 399.5 1086.1 401.8 1085.2 401.9 1085.2 404.2 1084.4 406.5 1083.5 408.9 1082.6 411.3 1081.8 413.6 1081 416 1080.3 418.4 1079.7 420.8 1079.2 420.9 1079.2 423.3 1078.8 425.8 1078.4 428.3 1078.1 430.8 1077.7 433.3 1077.5 435.8 1077.3 438.3 1077.2 439.5 1077.2 440.7 1077.2 443.2 1077.3 445.7 1077.5 448.2 1077.7 450.7 1078.1 453.2 1078.4 455.7 1078.8 458.1 1079.2 458.2 1079.2 460.6 1079.7 463 1080.3 465.4 1081 467.7 1081.8 470.1 1082.6 472.5 1083.5 474.8 1084.4 477.1 1085.2 477.2 1085.2 479.5 1086.1 481.9 1087.1 484.2 1088.1 486.5 1089 488.8 1089.9 491.1 1090.8 492.3 1091.1 493.5 1091.5 495.9 1092.3 498.4 1093 500.8 1093.4 502.1 1093.5 503.3 1093.5 505.8 1093.5 508.3 1093.4 510.8 1093.3 511.8 1093.3 513.3 1093.1 515.7 1092.5 518.2 1091.7 520.4 1090.7 520.7 1090.5 522.5 1089.5 524.6 1088.1 526.6 1086.5 528.4 1084.7 530.2 1082.8 531.8 1080.9 532.5 1080 533.3 1078.9 534.6 1076.8 535.7 1074.5 536.8 1072.4 536.8 1072.3 537.8 1070 538.6 1067.6 539.5 1065.3 540.3 1062.9 541 1060.5 541.7 1058.1 542 1056.9 542.3 1055.7 542.9 1053.2 543.5 1050.8 544 1048.4 544.5 1045.9 545 1043.4 545.4 1041 545.5 1040.1 545.8 1038.5 546.1 1036 546.4 1033.6 546.6 1031.1 546.9 1028.6 547.2 1026.1 547.4 1023.6 547.6 1021.1 547.8 1018.6 548 1016.2 548 1016.1 548.3 1013.6 548.5 1011.1 548.7 1008.7 548.9 1006.2 549.1 1003.7 549.2 1001.2 549.4 998.7 549.6 996.2 549.7 993.7 549.9 991.3 549.9 991.2 550 988.7 550.1 986.2 550.3 983.7 550.4 981.2 550.5 978.7 550.6 976.2 550.7 973.7 550.8 971.2 550.9 968.7 550.9 966.2 551 965.1 551 963.7 551.1 961.2 551.2 958.7 551.3 956.2 551.3 953.7 551.4 951.2 551.4 948.7 551.5 946.2 551.6 943.7 551.6 941.2 551.6 939.1 551.6 938.7 551.7 936.2 551.7 933.7 551.8 931.2 551.8 928.7 551.8 926.2 551.9 923.7 551.9 921.2 551.9 918.7 552 916.2 552 913.7 552 911.2 552 908.8 552.1 906.3 552.1 903.8 552.1 901.3 552.1 898.8 552.1 896.3 552.1 893.8 552.1 891.3 552.2 893.7 552.3 896.2 552.4 898.7 552.5 901.2 552.6 903.7 552.7 906.2 552.8 908.7 552.9 911.1 553 913.6 553 913.8 553 916.1 553.1 918.6 553.2 921.1 553.3 923.6 553.4 926.1 553.5 928.5 553.5 931 553.6 933.5 553.7 936 553.8 938.5 553.8 938.8 553.9 941 553.9 943.5 554 945.9 554.1 948.4 554.2 950.9 554.2 953.4 554.3 955.9 554.4 958.4 554.5 960.9 554.6 963.4 554.6 963.8 554.6 965.8 554.7 968.3 554.8 970.8 554.9 973.3 554.9 975.8 555 978.3 555.1 980.8 555.2 983.2 555.3 985.7 555.3 988.2 555.3 988.5 555.4 990.7 555.5 993.2 555.5 995.7 555.6 998.2 555.7 1000.6 555.7 1003.1 555.8 1005.6 555.9 1008.1 556 1010.6 556.1 1013.1 556.1 1013.5 556.1 1015.6 556.2 1018.1 556.3 1020.5 556.4 1023 556.5 1025.5 556.6 1028 556.7 1030.5 556.8 1033 557 1035.5 557.1 1037.9 557.2 1040.4 557.3 1042.9 557.5 1045.4 557.5 1046.3 557.7 1047.9 557.8 1050.3 558 1052.8 558.3 1055.3 558.5 1057.8 558.7 1060.3 559 1062.7 559.3 1065.2 559.5 1067.7 559.7 1069.7 559.8 1070.2 560.1 1072.6 560.3 1075.1 560.6 1077.6 560.9 1080 561.2 1082.5 561.5 1085 561.9 1087.4 562.2 1089.9 562.5 1092.4 562.9 1094.8 563 1095.8 563.2 1097.3 563.6 1099.8 564 1102.2 564.3 1104.7 564.7 1107.1 565.1 1109.6 565.6 1112.1 566 1114.5 566.5 1116.9 567 1119.4 567 1119.6 567.5 1121.8 568 1124.2 568.6 1126.7 569.2 1129.1 569.8 1131.5 570.4 1134 571.1 1136.4 571.9 1138.7 572.6 1141.1 573.4 1143.3 573.4 1143.4 574.3 1145.7 575.3 1148 576.3 1150.3 577.4 1152.5 578.5 1154.8 579.7 1157 581 1159.2 582.3 1161.3 583.6 1163.4 585 1165.4 585.1 1165.5 586.5 1167.4 588.1 1169.3 589.9 1171.1 591.7 1172.8 591.9 1173 593.5 1174.5 595.4 1176.1 597.4 1177.6 599.4 1179.1 601.5 1180.5 602.5 1181.1 603.6 1181.8 605.7 1183.1 607.9 1184.3 610.1 1185.5 612.4 1186.6 614.6 1187.6 616.9 1188.5 617.6 1188.7 619.3 1189.2 621.6 1189.9 624 1190.6 626.5 1191.2 628.9 1191.8 631.4 1192.3 633.8 1192.8 636.1 1193.2 636.3 1193.2 638.7 1193.6 641.2 1194 643.6 1194.3 646.1 1194.7 648.6 1194.9 651 1195.2 653.5 1195.5 654.8 1195.6 656 1195.7 658.5 1195.9 661 1196.1 663.4 1196.4 665.9 1196.5 668.4 1196.7 670.9 1196.9 673.4 1197 675.8 1197.2 678.3 1197.3 678.5 1197.3 680.8 1197.4 683.3 1197.5 685.8 1197.6 688.3 1197.7 690.8 1197.8 693.2 1197.8 695.7 1197.9 698.2 1198 700.7 1198 703.2 1198.1 705.7 1198.2 708.2 1198.2 710.4 1198.2 710.7 1198.2 713.1 1198.3 715.6 1198.3 718.1 1198.4 720.6 1198.4 723.1 1198.4 725.6 1198.5 728.1 1198.5 730.5 1198.5 733 1198.5 735.5 1198.5 738 1198.6 740.5 1198.6" fill="none" stroke="#696969" stroke-width="4.68" stroke-linejoin="round" stroke-dasharray="17.31 7.49"/>
<path d="M138.5 1184 140.9 1183.3 143.3 1182.6 145.7 1181.9 148.1 1181.1 149.7 1180.5 150.4 1180.2 152.7 1179.3 155.1 1178.4 157.3 1177.3 159.6 1176.2 161.5 1175.2 161.8 1175.1 163.9 1173.9 166.1 1172.6 168.2 1171.2 170.3 1169.8 172.3 1168.3 174.3 1166.7 175.1 1166 176.1 1165.1 178 1163.5 179.8 1161.7 181.5 1159.9 183.2 1158 184.8 1156.1 186.4 1154.1 187.6 1152.4 187.8 1152.1 189.3 1150.1 190.6 1148 191.9 1145.8 193.1 1143.6 194.3 1141.4 194.6 1140.7 195.3 1139.2 196.4 1136.9 197.3 1134.6 198.3 1132.2 199.1 1129.9 199.5 1128.7 199.8 1127.5 200.5 1125.1 201.1 1122.7 201.8 1120.3 202.3 1117.8 202.9 1115.4 203.4 1112.9 203.8 1110.5 203.9 1110.2 204.3 1108 204.7 1105.6 205.1 1103.1 205.5 1100.6 205.9 1098.1 206.2 1095.7 206.3 1094.8 206.5 1093.2 206.8 1090.7 207.1 1088.2 207.3 1085.7 207.6 1083.3 207.8 1080.8 208 1078.3 208.1 1077.9 208.2 1075.8 208.4 1073.3 208.6 1070.8 208.8 1068.3 209 1065.8 209.1 1063.3 209.3 1060.8 209.4 1058.4 209.6 1055.9 209.7 1053.4 209.8 1050.9 209.8 1050.9 209.9 1048.4 210 1045.9 210.1 1043.4 210.2 1040.9 210.3 1038.4 210.4 1035.9 210.5 1033.4 210.6 1030.9 210.7 1028.4 210.7 1025.9 210.8 1023.4 210.9 1020.9 210.9 1018.4 211 1015.9 211 1018.4 211.1 1020.9 211.2 1023.4 211.3 1025.4 211.3 1025.9 211.4 1028.4 211.5 1030.9 211.5 1033.4 211.6 1035.9 211.7 1038.4 211.8 1040.9 211.9 1043.4 212 1045.9 212.1 1048.4 212.2 1050.9 212.2 1050.9 212.4 1053.4 212.5 1055.9 212.6 1058.4 212.8 1060.9 212.9 1063.4 213.1 1065.8 213.3 1068.3 213.4 1070.8 213.6 1073.3 213.9 1075.8 214.1 1077.9 214.1 1078.3 214.4 1080.8 214.7 1083.3 215 1085.7 215.4 1088.2 215.8 1090.7 216.3 1093.1 216.6 1094.8 216.7 1095.6 217.2 1098 217.8 1100.5 218.4 1102.9 219.1 1105.4 219.8 1107.7 220.6 1110.1 220.7 1110.3 221.5 1112.4 222.6 1114.7 223.7 1116.9 225 1119.1 226.4 1121.2 227.9 1123.2 228 1123.3 229.5 1125 231.3 1126.7 233.3 1128.3 235.4 1129.8 237.4 1131.2 237.6 1131.3 239.5 1132.5 241.7 1133.8 243.9 1134.9 246.2 1136 248.5 1137.1 250.8 1138 251.2 1138.1 253.2 1138.8 255.5 1139.6 257.9 1140.4 260.3 1141.1 262.7 1141.8 265.1 1142.5 267.6 1143.1 270 1143.6 272.5 1144.1 274.9 1144.5 275 1144.6 277.4 1144.9 279.9 1145.3 282.3 1145.6 284.8 1145.9 287.3 1146.1 289 1146.1 289.8 1146.1 292.3 1146.2 294.8 1146.2 297.3 1146.3 299.8 1146.3 302.3 1146.3 304.8 1146.3 307.3 1146.3 309.8 1146.3 311.6 1146.3 312.3 1146.3 314.8 1146.3 317.3 1146.2 319.8 1146.1 322.3 1146 324.8 1145.9 326.6 1145.8 327.3 1145.8 329.8 1145.7 332.3 1145.5 334.8 1145.4 337.3 1145.2 339.8 1145 342.2 1144.8 344.7 1144.6 347.2 1144.4 349.7 1144.2 352.2 1144 354.7 1143.8 357.2 1143.6 359.7 1143.4 362.2 1143.2 364.2 1143.1 364.7 1143 367.2 1142.8 369.6 1142.6 372.1 1142.4 374.6 1142.2 377.1 1142 379.6 1141.8 382.1 1141.6 384.6 1141.4 387.1 1141.2 389.6 1141 392.1 1140.9 394.6 1140.7 397.1 1140.6 399.5 1140.4 401.9 1140.3 402 1140.3 404.5 1140.2 407 1140.1 409.5 1140 412 1139.9 414.5 1139.8 417 1139.7 419.5 1139.6 422 1139.5 424.5 1139.4 427 1139.3 429.5 1139.2 432 1139.2 434.5 1139.2 437 1139.1 439.5 1139.1 439.5 1139.1 442 1139.1 444.5 1139.2 447 1139.2 449.5 1139.2 452 1139.3 454.5 1139.4 457 1139.5 459.5 1139.6 462 1139.7 464.5 1139.8 467 1139.9 469.5 1140 472 1140.1 474.5 1140.2 477 1140.3 477.1 1140.3 479.5 1140.4 481.9 1140.6 484.4 1140.7 486.9 1140.9 489.4 1141 491.9 1141.2 494.4 1141.4 496.9 1141.6 499.4 1141.8 501.9 1142 504.4 1142.2 506.9 1142.4 509.4 1142.6 511.8 1142.8 514.3 1143 514.8 1143.1 516.8 1143.2 519.3 1143.4 521.8 1143.6 524.3 1143.8 526.8 1144 529.3 1144.2 531.8 1144.4 534.3 1144.6 536.8 1144.8 539.2 1145 541.7 1145.2 544.2 1145.4 546.7 1145.5 549.2 1145.7 551.7 1145.8 552.4 1145.8 554.2 1145.9 556.7 1146 559.2 1146.1 561.7 1146.2 564.2 1146.3 566.7 1146.3 567.4 1146.3 569.2 1146.3 571.7 1146.3 574.2 1146.3 576.7 1146.3 579.2 1146.3 581.7 1146.3 584.2 1146.2 586.7 1146.2 589.2 1146.1 590 1146.1 591.7 1146.1 594.2 1145.9 596.7 1145.6 599.1 1145.3 601.6 1144.9 604 1144.6 604.1 1144.5 606.5 1144.1 609 1143.6 611.4 1143.1 613.9 1142.5 616.3 1141.8 618.7 1141.1 621.1 1140.4 623.5 1139.6 625.8 1138.8 627.8 1138.1 628.2 1138 630.5 1137.1 632.8 1136 635.1 1134.9 637.3 1133.8 639.5 1132.5 641.4 1131.3 641.6 1131.2 643.6 1129.8 645.7 1128.3 647.7 1126.7 649.5 1125 651 1123.3 651.1 1123.2 652.6 1121.2 654 1119.1 655.3 1116.9 656.4 1114.7 657.5 1112.4 658.3 1110.3 658.4 1110.1 659.2 1107.7 659.9 1105.4 660.6 1102.9 661.2 1100.5 661.8 1098 662.3 1095.6 662.4 1094.8 662.7 1093.1 663.2 1090.7 663.6 1088.2 664 1085.7 664.3 1083.3 664.6 1080.8 664.9 1078.3 664.9 1077.9 665.1 1075.8 665.4 1073.3 665.6 1070.8 665.7 1068.3 665.9 1065.8 666.1 1063.4 666.2 1060.9 666.4 1058.4 666.5 1055.9 666.6 1053.4 666.8 1050.9 666.8 1050.9 666.9 1048.4 667 1045.9 667.1 1043.4 667.2 1040.9 667.3 1038.4 667.4 1035.9 667.5 1033.4 667.5 1030.9 667.6 1028.4 667.7 1025.9 667.7 1025.4 667.8 1023.4 667.9 1020.9 668 1018.4 668 1015.9 668.1 1018.4 668.1 1020.9 668.2 1023.4 668.3 1025.9 668.3 1028.4 668.4 1030.9 668.5 1033.4 668.6 1035.9 668.7 1038.4 668.8 1040.9 668.9 1043.4 669 1045.9 669.1 1048.4 669.2 1050.9 669.2 1050.9 669.3 1053.4 669.4 1055.9 669.6 1058.4 669.7 1060.8 669.9 1063.3 670 1065.8 670.2 1068.3 670.4 1070.8 670.6 1073.3 670.8 1075.8 670.9 1077.9 671 1078.3 671.2 1080.8 671.4 1083.3 671.7 1085.7 671.9 1088.2 672.2 1090.7 672.5 1093.2 672.7 1094.8 672.8 1095.7 673.1 1098.1 673.5 1100.6 673.9 1103.1 674.3 1105.6 674.7 1108 675.1 1110.2 675.2 1110.5 675.6 1112.9 676.1 1115.4 676.7 1117.8 677.2 1120.3 677.9 1122.7 678.5 1125.1 679.2 1127.5 679.5 1128.7 679.9 1129.9 680.7 1132.2 681.7 1134.6 682.6 1136.9 683.7 1139.2 684.4 1140.7 684.7 1141.4 685.9 1143.6 687.1 1145.8 688.4 1148 689.7 1150.1 691.2 1152.1 691.4 1152.4 692.6 1154.1 694.2 1156.1 695.8 1158 697.5 1159.9 699.2 1161.7 701 1163.5 702.9 1165.1 703.9 1166 704.7 1166.7 706.7 1168.3 708.7 1169.8 710.8 1171.2 712.9 1172.6 715.1 1173.9 717.2 1175.1 717.5 1175.2 719.4 1176.2 721.7 1177.3 723.9 1178.4 726.3 1179.3 728.6 1180.2 729.3 1180.5 730.9 1181.1 733.3 1181.9 735.7 1182.6 738.1 1183.3 740.5 1184" fill="none" stroke="#a9a9a9" stroke-width="4.68" stroke-linejoin="round" stroke-dasharray="29.94 7.49 4.68 7.49"/>
</g>
<path d="M138.5 1210.8v10.92M289 1210.8v10.92M439.5 1210.8v10.92M590 1210.8v10.92M740.5 1210.8v10.92M138.5 1199.04h-10.92M138.5 1081.43h-10.92M138.5 963.82h-10.92M138.5 846.21h-10.92M138.5 728.6h-10.92" stroke="#000" stroke-width="2.5" fill="none"/>
<rect x="138.5" y="728.6" width="602" height="482.2" fill="none" stroke="#000" stroke-width="2.5" stroke-linejoin="miter"/>
<g class="tk" text-anchor="middle">
<text x="138.5" y="1256.5">−2</text>
<text x="289" y="1256.5">−1</text>
<text x="439.5" y="1256.5">0</text>
<text x="590" y="1256.5">1</text>
<text x="740.5" y="1256.5">2</text>
</g>
<g class="tk" text-anchor="end">
<text x="116.7" y="1210.94">0</text>
<text x="116.7" y="1093.33">1</text>
<text x="116.7" y="975.72">2</text>
<text x="116.7" y="858.11">3</text>
<text x="116.7" y="740.5">4</text>
</g>
<text class="tk" text-anchor="middle" x="439.5" y="1298.9">H</text>
<text class="it" text-anchor="middle" transform="translate(73.8 969.7) rotate(-90)">χ</text>
</g>
<g id="axBR">
<g clip-path="url(#cBR)">
<g fill="none" stroke="#000000" stroke-width="3.12" stroke-linejoin="miter">
<path transform="translate(1105.86 835.02)" d="M-9.36 -9.36L9.36 9.36M-9.36 9.36L9.36 -9.36"/>
<path transform="translate(1135.97 877.91)" d="M-9.36 -9.36L9.36 9.36M-9.36 9.36L9.36 -9.36"/>
<path transform="translate(1166.08 973.06)" d="M-9.36 -9.36L9.36 9.36M-9.36 9.36L9.36 -9.36"/>
<path transform="translate(1181.13 1032.65)" d="M-9.36 -9.36L9.36 9.36M-9.36 9.36L9.36 -9.36"/>
<path transform="translate(1196.19 1087.9)" d="M-9.36 -9.36L9.36 9.36M-9.36 9.36L9.36 -9.36"/>
<path transform="translate(1211.25 1127.48)" d="M-9.36 -9.36L9.36 9.36M-9.36 9.36L9.36 -9.36"/>
<path transform="translate(1226.3 1141.91)" d="M-9.36 -9.36L9.36 9.36M-9.36 9.36L9.36 -9.36"/>
<path transform="translate(1241.36 1127.48)" d="M-9.36 -9.36L9.36 9.36M-9.36 9.36L9.36 -9.36"/>
<path transform="translate(1256.41 1087.9)" d="M-9.36 -9.36L9.36 9.36M-9.36 9.36L9.36 -9.36"/>
<path transform="translate(1271.47 1032.65)" d="M-9.36 -9.36L9.36 9.36M-9.36 9.36L9.36 -9.36"/>
<path transform="translate(1286.52 973.06)" d="M-9.36 -9.36L9.36 9.36M-9.36 9.36L9.36 -9.36"/>
<path transform="translate(1316.63 875.01)" d="M-9.36 -9.36L9.36 9.36M-9.36 9.36L9.36 -9.36"/>
<path transform="translate(1346.74 832.52)" d="M-9.36 -9.36L9.36 9.36M-9.36 9.36L9.36 -9.36"/>
</g>
<g fill="none" stroke="#000000" stroke-width="3.12" stroke-linejoin="miter">
<path transform="translate(1105.86 829.32)" d="M-9.36 -9.36H9.36V9.36H-9.36Z"/>
<path transform="translate(1135.97 877.91)" d="M-9.36 -9.36H9.36V9.36H-9.36Z"/>
<path transform="translate(1166.08 973.06)" d="M-9.36 -9.36H9.36V9.36H-9.36Z"/>
<path transform="translate(1181.13 1032.65)" d="M-9.36 -9.36H9.36V9.36H-9.36Z"/>
<path transform="translate(1196.19 1087.9)" d="M-9.36 -9.36H9.36V9.36H-9.36Z"/>
<path transform="translate(1211.25 1127.48)" d="M-9.36 -9.36H9.36V9.36H-9.36Z"/>
<path transform="translate(1226.3 1141.91)" d="M-9.36 -9.36H9.36V9.36H-9.36Z"/>
<path transform="translate(1241.36 1127.48)" d="M-9.36 -9.36H9.36V9.36H-9.36Z"/>
<path transform="translate(1256.41 1087.9)" d="M-9.36 -9.36H9.36V9.36H-9.36Z"/>
<path transform="translate(1271.47 1032.65)" d="M-9.36 -9.36H9.36V9.36H-9.36Z"/>
<path transform="translate(1286.52 973.06)" d="M-9.36 -9.36H9.36V9.36H-9.36Z"/>
<path transform="translate(1316.63 875.01)" d="M-9.36 -9.36H9.36V9.36H-9.36Z"/>
<path transform="translate(1346.74 832.52)" d="M-9.36 -9.36H9.36V9.36H-9.36Z"/>
</g>
<g fill="none" stroke="#696969" stroke-width="3.12" stroke-linejoin="miter">
<path transform="translate(774.65 865.01)" d="M-10.92 0H10.92M0 -10.92V10.92"/>
<path transform="translate(925.2 843.93)" d="M-10.92 0H10.92M0 -10.92V10.92"/>
<path transform="translate(962.84 862.85)" d="M-10.92 0H10.92M0 -10.92V10.92"/>
<path transform="translate(1000.48 896.92)" d="M-10.92 0H10.92M0 -10.92V10.92"/>
<path transform="translate(1038.11 941.41)" d="M-10.92 0H10.92M0 -10.92V10.92"/>
<path transform="translate(1075.75 993.96)" d="M-10.92 0H10.92M0 -10.92V10.92"/>
<path transform="translate(1120.91 1058.84)" d="M-10.92 0H10.92M0 -10.92V10.92"/>
<path transform="translate(1151.03 1096.61)" d="M-10.92 0H10.92M0 -10.92V10.92"/>
<path transform="translate(1188.66 1129.97)" d="M-10.92 0H10.92M0 -10.92V10.92"/>
<path transform="translate(1226.3 1141.91)" d="M-10.92 0H10.92M0 -10.92V10.92"/>
<path transform="translate(1263.94 1129.97)" d="M-10.92 0H10.92M0 -10.92V10.92"/>
<path transform="translate(1301.58 1096.61)" d="M-10.92 0H10.92M0 -10.92V10.92"/>
<path transform="translate(1331.69 1058.84)" d="M-10.92 0H10.92M0 -10.92V10.92"/>
<path transform="translate(1376.85 995.16)" d="M-10.92 0H10.92M0 -10.92V10.92"/>
<path transform="translate(1414.49 941.41)" d="M-10.92 0H10.92M0 -10.92V10.92"/>
<path transform="translate(1452.12 895.72)" d="M-10.92 0H10.92M0 -10.92V10.92"/>
<path transform="translate(1489.76 866.05)" d="M-10.92 0H10.92M0 -10.92V10.92"/>
</g>
<g fill="none" stroke="#696969" stroke-width="3.12" stroke-linejoin="round">
<path transform="translate(774.65 865.01)" d="M-10.92 0A10.92 10.92 0 1 0 10.92 0A10.92 10.92 0 1 0 -10.92 0Z"/>
<path transform="translate(925.2 843.93)" d="M-10.92 0A10.92 10.92 0 1 0 10.92 0A10.92 10.92 0 1 0 -10.92 0Z"/>
<path transform="translate(962.84 862.85)" d="M-10.92 0A10.92 10.92 0 1 0 10.92 0A10.92 10.92 0 1 0 -10.92 0Z"/>
<path transform="translate(1000.48 896.92)" d="M-10.92 0A10.92 10.92 0 1 0 10.92 0A10.92 10.92 0 1 0 -10.92 0Z"/>
<path transform="translate(1038.11 941.41)" d="M-10.92 0A10.92 10.92 0 1 0 10.92 0A10.92 10.92 0 1 0 -10.92 0Z"/>
<path transform="translate(1075.75 993.96)" d="M-10.92 0A10.92 10.92 0 1 0 10.92 0A10.92 10.92 0 1 0 -10.92 0Z"/>
<path transform="translate(1120.91 1058.84)" d="M-10.92 0A10.92 10.92 0 1 0 10.92 0A10.92 10.92 0 1 0 -10.92 0Z"/>
<path transform="translate(1151.03 1096.61)" d="M-10.92 0A10.92 10.92 0 1 0 10.92 0A10.92 10.92 0 1 0 -10.92 0Z"/>
<path transform="translate(1188.66 1129.97)" d="M-10.92 0A10.92 10.92 0 1 0 10.92 0A10.92 10.92 0 1 0 -10.92 0Z"/>
<path transform="translate(1226.3 1141.91)" d="M-10.92 0A10.92 10.92 0 1 0 10.92 0A10.92 10.92 0 1 0 -10.92 0Z"/>
<path transform="translate(1263.94 1129.97)" d="M-10.92 0A10.92 10.92 0 1 0 10.92 0A10.92 10.92 0 1 0 -10.92 0Z"/>
<path transform="translate(1301.58 1096.61)" d="M-10.92 0A10.92 10.92 0 1 0 10.92 0A10.92 10.92 0 1 0 -10.92 0Z"/>
<path transform="translate(1331.69 1058.84)" d="M-10.92 0A10.92 10.92 0 1 0 10.92 0A10.92 10.92 0 1 0 -10.92 0Z"/>
<path transform="translate(1376.85 995.16)" d="M-10.92 0A10.92 10.92 0 1 0 10.92 0A10.92 10.92 0 1 0 -10.92 0Z"/>
<path transform="translate(1414.49 941.41)" d="M-10.92 0A10.92 10.92 0 1 0 10.92 0A10.92 10.92 0 1 0 -10.92 0Z"/>
<path transform="translate(1452.12 895.72)" d="M-10.92 0A10.92 10.92 0 1 0 10.92 0A10.92 10.92 0 1 0 -10.92 0Z"/>
<path transform="translate(1489.76 866.05)" d="M-10.92 0A10.92 10.92 0 1 0 10.92 0A10.92 10.92 0 1 0 -10.92 0Z"/>
</g>
<g fill="none" stroke="#a9a9a9" stroke-width="3.12" stroke-linejoin="bevel">
<path transform="translate(774.65 903.86)" d="M0 -10.92L-2.45 -3.37L-10.38 -3.37L-3.97 1.29L-6.42 8.83L-0 4.17L6.42 8.83L3.97 1.29L10.38 -3.37L2.45 -3.37Z"/>
<path transform="translate(925.2 1000.36)" d="M0 -10.92L-2.45 -3.37L-10.38 -3.37L-3.97 1.29L-6.42 8.83L-0 4.17L6.42 8.83L3.97 1.29L10.38 -3.37L2.45 -3.37Z"/>
<path transform="translate(1000.48 1053.09)" d="M0 -10.92L-2.45 -3.37L-10.38 -3.37L-3.97 1.29L-6.42 8.83L-0 4.17L6.42 8.83L3.97 1.29L10.38 -3.37L2.45 -3.37Z"/>
<path transform="translate(1075.75 1099.11)" d="M0 -10.92L-2.45 -3.37L-10.38 -3.37L-3.97 1.29L-6.42 8.83L-0 4.17L6.42 8.83L3.97 1.29L10.38 -3.37L2.45 -3.37Z"/>
<path transform="translate(1151.03 1130.67)" d="M0 -10.92L-2.45 -3.37L-10.38 -3.37L-3.97 1.29L-6.42 8.83L-0 4.17L6.42 8.83L3.97 1.29L10.38 -3.37L2.45 -3.37Z"/>
<path transform="translate(1196.19 1140.09)" d="M0 -10.92L-2.45 -3.37L-10.38 -3.37L-3.97 1.29L-6.42 8.83L-0 4.17L6.42 8.83L3.97 1.29L10.38 -3.37L2.45 -3.37Z"/>
<path transform="translate(1211.25 1141.46)" d="M0 -10.92L-2.45 -3.37L-10.38 -3.37L-3.97 1.29L-6.42 8.83L-0 4.17L6.42 8.83L3.97 1.29L10.38 -3.37L2.45 -3.37Z"/>
<path transform="translate(1241.36 1141.46)" d="M0 -10.92L-2.45 -3.37L-10.38 -3.37L-3.97 1.29L-6.42 8.83L-0 4.17L6.42 8.83L3.97 1.29L10.38 -3.37L2.45 -3.37Z"/>
<path transform="translate(1256.41 1140.09)" d="M0 -10.92L-2.45 -3.37L-10.38 -3.37L-3.97 1.29L-6.42 8.83L-0 4.17L6.42 8.83L3.97 1.29L10.38 -3.37L2.45 -3.37Z"/>
<path transform="translate(1301.58 1130.67)" d="M0 -10.92L-2.45 -3.37L-10.38 -3.37L-3.97 1.29L-6.42 8.83L-0 4.17L6.42 8.83L3.97 1.29L10.38 -3.37L2.45 -3.37Z"/>
<path transform="translate(1376.85 1099.11)" d="M0 -10.92L-2.45 -3.37L-10.38 -3.37L-3.97 1.29L-6.42 8.83L-0 4.17L6.42 8.83L3.97 1.29L10.38 -3.37L2.45 -3.37Z"/>
<path transform="translate(1452.12 1053.09)" d="M0 -10.92L-2.45 -3.37L-10.38 -3.37L-3.97 1.29L-6.42 8.83L-0 4.17L6.42 8.83L3.97 1.29L10.38 -3.37L2.45 -3.37Z"/>
<path transform="translate(1527.4 1000.36)" d="M0 -10.92L-2.45 -3.37L-10.38 -3.37L-3.97 1.29L-6.42 8.83L-0 4.17L6.42 8.83L3.97 1.29L10.38 -3.37L2.45 -3.37Z"/>
<path transform="translate(1677.95 903.86)" d="M0 -10.92L-2.45 -3.37L-10.38 -3.37L-3.97 1.29L-6.42 8.83L-0 4.17L6.42 8.83L3.97 1.29L10.38 -3.37L2.45 -3.37Z"/>
</g>
<g fill="none" stroke="#a9a9a9" stroke-width="3.12" stroke-linejoin="miter">
<path transform="translate(774.65 903.86)" d="M0 -15.44L15.44 0L0 15.44L-15.44 0Z"/>
<path transform="translate(925.2 1000.36)" d="M0 -15.44L15.44 0L0 15.44L-15.44 0Z"/>
<path transform="translate(1000.48 1053.09)" d="M0 -15.44L15.44 0L0 15.44L-15.44 0Z"/>
<path transform="translate(1075.75 1099.11)" d="M0 -15.44L15.44 0L0 15.44L-15.44 0Z"/>
<path transform="translate(1151.03 1130.67)" d="M0 -15.44L15.44 0L0 15.44L-15.44 0Z"/>
<path transform="translate(1211.25 1141.46)" d="M0 -15.44L15.44 0L0 15.44L-15.44 0Z"/>
<path transform="translate(1241.36 1141.46)" d="M0 -15.44L15.44 0L0 15.44L-15.44 0Z"/>
<path transform="translate(1301.58 1130.67)" d="M0 -15.44L15.44 0L0 15.44L-15.44 0Z"/>
<path transform="translate(1376.85 1099.11)" d="M0 -15.44L15.44 0L0 15.44L-15.44 0Z"/>
<path transform="translate(1452.12 1053.09)" d="M0 -15.44L15.44 0L0 15.44L-15.44 0Z"/>
<path transform="translate(1527.4 1000.36)" d="M0 -15.44L15.44 0L0 15.44L-15.44 0Z"/>
<path transform="translate(1677.95 903.86)" d="M0 -15.44L15.44 0L0 15.44L-15.44 0Z"/>
</g>
<path d="M624.1 1141.9 626.6 1141.9 629.1 1141.9 631.6 1141.9 634.1 1141.9 636.6 1141.9 639.1 1141.9 641.6 1141.9 644.1 1141.9 646.6 1141.9 649.1 1141.9 651.6 1141.9 654.1 1141.9 656.6 1141.9 659.1 1141.9 661.6 1141.9 664.1 1141.9 666.6 1141.8 669.1 1141.8 671.6 1141.8 674.1 1141.8 676.6 1141.8 679.1 1141.8 681.6 1141.8 684.1 1141.8 686.6 1141.8 689.1 1141.8 691.6 1141.7 694.1 1141.7 696.5 1141.7 699 1141.7 701.5 1141.7 704 1141.7 706.5 1141.7 709 1141.7 711.5 1141.6 714 1141.6 716.5 1141.6 719 1141.6 721.5 1141.6 724 1141.6 726.5 1141.6 729 1141.5 731.5 1141.5 734 1141.5 736.5 1141.5 739 1141.5 741.5 1141.5 744 1141.5 746.5 1141.4 749 1141.4 751.5 1141.4 754 1141.4 756.5 1141.4 759 1141.4 761.5 1141.3 764 1141.3 766.5 1141.3 769 1141.3 771.5 1141.3 774 1141.3 774.7 1141.2 776.5 1141.2 779 1141.2 781.5 1141.2 784 1141.2 786.5 1141.2 789 1141.1 791.5 1141.1 794 1141.1 796.5 1141.1 799 1141.1 801.5 1141 804 1141 806.5 1141 809 1141 811.5 1140.9 814 1140.9 816.5 1140.9 819 1140.8 821.5 1140.8 824 1140.8 826.4 1140.8 828.9 1140.7 831.4 1140.7 833.9 1140.7 836.4 1140.6 838.9 1140.6 841.4 1140.6 843.9 1140.5 846.4 1140.5 848.9 1140.5 851.4 1140.4 853.9 1140.4 856.4 1140.3 858.9 1140.3 861.4 1140.3 863.9 1140.2 866.4 1140.2 868.9 1140.1 871.4 1140.1 873.9 1140.1 876.4 1140 878.9 1140 881.4 1139.9 883.9 1139.9 886.4 1139.8 888.9 1139.8 891.4 1139.7 893.9 1139.7 896.4 1139.6 898.9 1139.6 901.4 1139.6 903.9 1139.5 906.4 1139.5 908.9 1139.4 911.4 1139.3 913.9 1139.3 916.4 1139.2 918.9 1139.2 921.4 1139.1 923.9 1139.1 926.4 1139 927.1 1139 928.9 1139 931.4 1138.9 933.9 1138.8 936.4 1138.8 938.9 1138.7 941.3 1138.6 943.8 1138.5 946.3 1138.4 948.8 1138.3 951.3 1138.2 951.7 1138.2 953.8 1138.1 956.3 1138 958.8 1137.8 961.3 1137.6 963.8 1137.4 966.3 1137.2 968.8 1136.9 971.3 1136.7 973.7 1136.4 974.8 1136.3 976.2 1136.1 978.7 1135.8 981.2 1135.5 983.7 1135.1 986.1 1134.7 988.6 1134.2 991 1133.8 993.5 1133.3 995.9 1132.8 997.9 1132.3 998.4 1132.2 1000.8 1131.7 1003.2 1131 1005.6 1130.4 1008 1129.7 1010.4 1128.9 1012.8 1128.1 1015.2 1127.3 1017.5 1126.4 1018 1126.3 1019.8 1125.5 1022.1 1124.6 1024.4 1123.6 1026.7 1122.5 1029 1121.4 1031.2 1120.3 1033.4 1119.1 1035.6 1117.9 1036.4 1117.4 1037.7 1116.6 1039.8 1115.2 1041.8 1113.8 1043.8 1112.3 1045.8 1110.8 1047.8 1109.2 1049.7 1107.5 1051.5 1105.9 1051.6 1105.8 1053.3 1104.2 1055.1 1102.4 1056.8 1100.6 1058.5 1098.7 1059.1 1098 1060.1 1096.8 1061.7 1094.9 1063.3 1092.9 1064.8 1091 1066.3 1089 1067.8 1086.9 1069.2 1084.9 1070 1083.8 1070.6 1082.8 1072 1080.7 1073.3 1078.6 1074.6 1076.5 1075.9 1074.3 1077.2 1072.2 1078.4 1070 1079.6 1067.8 1080.7 1065.6 1081.7 1063.6 1081.8 1063.3 1082.9 1061.1 1083.9 1058.8 1084.9 1056.5 1085.9 1054.2 1086.9 1051.9 1087.8 1049.6 1088.7 1047.3 1089.6 1044.9 1090.5 1042.6 1091.3 1040.2 1092 1038.2 1092.1 1037.8 1092.9 1035.5 1093.6 1033.1 1094.4 1030.7 1095.1 1028.3 1095.8 1025.9 1096.5 1023.5 1097.1 1021.1 1097.8 1018.7 1098.4 1016.3 1099 1013.8 1099.6 1011.4 1100.2 1009 1100.5 1007.8 1100.8 1006.6 1101.3 1004.1 1101.9 1001.7 1102.4 999.2 1102.9 996.8 1103.4 994.3 1103.9 991.9 1104.4 989.4 1104.8 987 1105.3 984.5 1105.7 982.1 1106.2 979.6 1106.6 977.1 1107.1 974.7 1107.2 973.9 1107.5 972.2 1107.9 969.8 1108.3 967.3 1108.7 964.8 1109.1 962.4 1109.5 959.9 1109.8 957.4 1110.2 955 1110.6 952.5 1110.9 950.1 1110.9 950 1111.3 947.5 1111.6 945.1 1111.9 942.6 1112.2 940.1 1112.6 937.6 1112.9 935.1 1113.2 932.7 1113.5 930.2 1113.8 927.7 1114.1 925.2 1114.4 922.7 1114.7 920.3 1115 917.8 1115.2 915.3 1115.3 914.9 1115.5 912.8 1115.8 910.3 1116 907.8 1116.3 905.4 1116.6 902.9 1116.8 900.4 1117.1 897.9 1117.3 895.4 1117.5 892.9 1117.8 890.4 1118 888 1118.2 885.5 1118.5 883 1118.7 880.5 1118.8 879.5 1118.9 878 1119.1 875.5 1119.3 873 1119.5 870.5 1119.7 868 1119.9 865.6 1120.1 863.1 1120.3 860.6 1120.5 858.1 1120.7 855.6 1120.9 853.1 1121.1 850.6 1121.2 848.1 1121.4 845.6 1121.6 844 1121.6 843.1 1121.8 840.6 1122 838.2 1122.2 835.7 1122.4 833.2 1122.6 830.7 1122.8 828.2 1123 825.7 1123.2 823.2 1123.4 820.7 1123.6 818.2 1123.7 815.7 1123.9 813.2 1124.1 810.8 1124.3 808.7 1124.3 808.3 1124.5 805.8 1124.6 803.3 1124.8 800.8 1125 798.3 1125.1 795.8 1125.3 793.3 1125.5 790.8 1125.6 788.3 1125.8 785.8 1125.9 783.3 1126.1 780.8 1126.2 778.3 1126.4 775.9 1126.5 773.4 1126.5 773.2 1126.6 770.9 1126.8 768.4 1126.9 765.9 1127 763.4 1127.2 760.9 1127.3 758.4 1127.4 755.9 1127.5 753.4 1127.7 750.9 1127.8 748.4 1127.9 745.9 1128 743.4 1128.1 740.9 1128.2 738.4 1128.3 735.9 1128.4 733.4 1128.5 730.9 1128.6 728.6 1128.6 728.4 1128.7 725.9 1128.8 723.5 1128.9 721 1129 718.5 1129.1 716 1129.2 713.5 1129.3 711 1129.4 708.5 1129.5 706 1129.6 703.5 1129.7 701 1129.8 698.5 1129.9 696 1129.9 693.5 1130 691 1130.1 688.5 1130.2 686 1130.3 683.5 1130.4 681 1130.5 678.5 1130.5 676 1130.6 673.5 1130.7 671 1130.8 668.5 1130.9 666 1130.9 663.5 1131 661 1131.1 658.5 1131.2 656 1131.2 653.5 1131.3 651 1131.4 648.5 1131.5 646.1 1131.5 643.6 1131.6 641.1 1131.7 638.6 1131.7 636.1 1131.8 633.6 1131.9 631.1 1131.9 628.6 1132 626.1 1132 625.3 1132.1 623.6 1132.1 621.1 1132.2 618.6 1132.2 616.1 1132.3 613.6 1132.4 611.1 1132.4 608.6 1132.5 606.1 1132.6 603.6 1132.6 601.1 1132.7 598.6 1132.7 596.1 1132.8 593.6 1132.8 591.1 1132.9 588.6 1133 586.1 1133 583.6 1133.1 581.1 1133.1 578.6 1133.2 576.1 1133.2 573.6 1133.3 571.1 1133.4 568.6 1133.4 566.1 1133.5 563.6 1133.5 561.1 1133.6 558.6 1133.6 556.1 1133.7 553.6 1133.7 551.1 1133.8 548.7 1133.8 546.2 1133.9 543.7 1133.9 541.2 1134 538.7 1134 536.2 1134.1 533.7 1134.1 531.2 1134.2 528.7 1134.2 526.2 1134.3 523.7 1134.3 521.2 1134.4 518.7 1134.4 516.2 1134.5 513.7 1134.5 511.2 1134.6 508.7 1134.6 506.2 1134.6 503.7 1134.7 501.2 1134.7 498.7 1134.8 496.2 1134.8 493.7 1134.9 491.2 1134.9 488.7 1134.9 486.2 1135 483.7 1135 481.2 1135.1 478.7 1135.1 476.2 1135.2 473.7 1135.2 471.2 1135.2 468.7 1135.3 466.2 1135.3 463.7 1135.3 461.2 1135.4 458.7 1135.4 456.2 1135.5 453.7 1135.5 453.1 1135.5 451.2 1135.5 448.7 1135.6 446.2 1135.6 443.7 1135.6 441.2 1135.7 438.7 1135.7 436.2 1135.8 433.8 1135.8 431.3 1135.8 428.8 1135.9 426.3 1135.9 423.8 1135.9 421.3 1136 418.8 1136 416.3 1136 413.8 1136.1 411.3 1136.1 408.8 1136.1 406.3 1136.2 403.8 1136.2 401.3 1136.3 398.8 1136.3 396.3 1136.3 393.8 1136.4 391.3 1136.4 388.8 1136.4 386.3 1136.5 383.8 1136.5 381.3 1136.5 378.8 1136.6 376.3 1136.6 373.8 1136.6 371.3 1136.6 368.8 1136.7 366.3 1136.7 363.8 1136.7 361.3 1136.8 358.8 1136.8 356.3 1136.8 353.8 1136.9 351.3 1136.9 348.8 1136.9 346.3 1137 343.8 1137 341.3 1137 338.8 1137 336.3 1137.1 333.8 1137.1 331.3 1137.1 328.8 1137.2 326.3 1137.2 323.8 1137.2 321.3 1137.2 318.8 1137.3 316.3 1137.3 313.8 1137.3 311.4 1137.3 308.9 1137.4 306.4 1137.4 303.9 1137.4 301.4 1137.4 298.9 1137.5 296.4 1137.5 293.9 1137.5 291.4 1137.5 288.9 1137.6 286.4 1137.6 283.9 1137.6 281.4 1137.6 278.9 1137.7 276.4 1137.7 273.9 1137.7 271.4 1137.7 268.9 1137.7 266.4 1137.8 263.9 1137.8 261.4 1137.8 258.9 1137.8 256.4 1137.8 253.9 1137.9 251.4 1137.9 248.9 1137.9 246.4 1137.9 248.9 1137.9 251.4 1138 253.9 1138 256.4 1138 258.9 1138 261.4 1138 263.9 1138.1 266.4 1138.1 268.9 1138.1 271.4 1138.1 273.9 1138.2 276.4 1138.2 278.9 1138.2 281.4 1138.2 283.9 1138.2 286.4 1138.3 288.9 1138.3 291.4 1138.3 293.9 1138.3 296.4 1138.4 298.9 1138.4 301.4 1138.4 303.9 1138.4 306.4 1138.5 308.9 1138.5 311.4 1138.5 313.9 1138.6 316.4 1138.6 318.9 1138.6 321.4 1138.6 323.9 1138.7 326.4 1138.7 328.8 1138.7 331.3 1138.8 333.8 1138.8 336.3 1138.8 338.8 1138.8 341.3 1138.9 343.8 1138.9 346.3 1138.9 348.8 1139 351.3 1139 353.8 1139 356.3 1139.1 358.8 1139.1 361.3 1139.1 363.8 1139.2 366.3 1139.2 368.8 1139.2 371.3 1139.3 373.8 1139.3 376.3 1139.3 378.8 1139.4 381.3 1139.4 383.8 1139.4 386.3 1139.5 388.8 1139.5 391.3 1139.5 393.8 1139.6 396.3 1139.6 398.8 1139.6 401.3 1139.7 403.8 1139.7 406.3 1139.7 408.8 1139.8 411.3 1139.8 413.8 1139.8 416.3 1139.9 418.8 1139.9 421.3 1139.9 423.8 1140 426.3 1140 428.8 1140.1 431.3 1140.1 433.8 1140.1 436.3 1140.2 438.8 1140.2 441.3 1140.2 443.8 1140.3 446.3 1140.3 448.8 1140.4 451.3 1140.4 453.1 1140.4 453.8 1140.4 456.3 1140.5 458.8 1140.5 461.3 1140.5 463.8 1140.6 466.3 1140.6 468.8 1140.7 471.3 1140.7 473.7 1140.7 476.2 1140.8 478.7 1140.8 481.2 1140.9 483.7 1140.9 486.2 1141 488.7 1141 491.2 1141 493.7 1141.1 496.2 1141.1 498.7 1141.2 501.2 1141.2 503.7 1141.3 506.2 1141.3 508.7 1141.3 511.2 1141.4 513.7 1141.4 516.2 1141.5 518.7 1141.5 521.2 1141.6 523.7 1141.6 526.2 1141.7 528.7 1141.7 531.2 1141.8 533.7 1141.8 536.2 1141.9 538.7 1141.9 541.2 1142 543.7 1142 546.2 1142.1 548.7 1142.1 551.2 1142.2 553.7 1142.2 556.2 1142.3 558.7 1142.3 561.2 1142.4 563.7 1142.4 566.2 1142.5 568.7 1142.5 571.2 1142.6 573.7 1142.6 576.2 1142.7 578.7 1142.8 581.2 1142.8 583.7 1142.9 586.2 1142.9 588.7 1143 591.2 1143 593.7 1143.1 596.2 1143.2 598.7 1143.2 601.2 1143.3 603.6 1143.4 606.1 1143.4 608.6 1143.5 611.1 1143.5 613.6 1143.6 616.1 1143.7 618.6 1143.7 621.1 1143.8 623.6 1143.8 625.3 1143.9 626.1 1143.9 628.6 1144 631.1 1144.1 633.6 1144.1 636.1 1144.2 638.6 1144.3 641.1 1144.3 643.6 1144.4 646.1 1144.5 648.6 1144.6 651.1 1144.6 653.6 1144.7 656.1 1144.8 658.6 1144.9 661.1 1145 663.6 1145 666.1 1145.1 668.6 1145.2 671.1 1145.3 673.6 1145.4 676.1 1145.5 678.6 1145.6 681.1 1145.7 683.6 1145.7 686.1 1145.8 688.6 1145.9 691.1 1146 693.6 1146.1 696.1 1146.2 698.5 1146.3 701 1146.4 703.5 1146.5 706 1146.6 708.5 1146.7 711 1146.8 713.5 1146.9 716 1147 718.5 1147.1 721 1147.2 723.5 1147.3 726 1147.5 728.5 1147.5 728.6 1147.6 731 1147.7 733.5 1147.8 736 1147.9 738.5 1148 741 1148.2 743.5 1148.3 746 1148.4 748.5 1148.6 751 1148.7 753.5 1148.8 756 1149 758.4 1149.1 760.9 1149.3 763.4 1149.4 765.9 1149.6 768.4 1149.7 770.9 1149.9 773.2 1149.9 773.4 1150 775.9 1150.2 778.4 1150.4 780.9 1150.6 783.4 1150.7 785.9 1150.9 788.4 1151.1 790.9 1151.3 793.3 1151.5 795.8 1151.7 798.3 1151.9 800.8 1152.1 803.3 1152.2 805.8 1152.4 808.3 1152.5 808.6 1152.6 810.8 1152.8 813.3 1153 815.8 1153.2 818.3 1153.4 820.8 1153.5 823.2 1153.7 825.7 1153.9 828.2 1154.1 830.7 1154.3 833.2 1154.5 835.7 1154.7 838.2 1154.8 840.7 1155 843.2 1155.1 844 1155.2 845.7 1155.4 848.2 1155.6 850.7 1155.8 853.1 1156 855.6 1156.2 858.1 1156.4 860.6 1156.6 863.1 1156.8 865.6 1157 868.1 1157.2 870.6 1157.4 873.1 1157.6 875.6 1157.8 878.1 1157.9 879.5 1158 880.5 1158.2 883 1158.4 885.5 1158.7 888 1158.9 890.5 1159.1 893 1159.4 895.5 1159.6 898 1159.8 900.4 1160.1 902.9 1160.3 905.4 1160.6 907.9 1160.8 910.4 1161.1 912.9 1161.2 914.9 1161.3 915.4 1161.5 917.9 1161.8 920.3 1162 922.8 1162.3 925.3 1162.5 927.8 1162.7 930.3 1163 932.8 1163.2 935.3 1163.5 937.7 1163.7 940.2 1164 942.7 1164.3 945.2 1164.6 947.7 1164.8 950.1 1164.8 950.2 1165.1 952.6 1165.4 955.1 1165.8 957.6 1166.1 960.1 1166.4 962.6 1166.8 965 1167.1 967.5 1167.5 970 1167.8 972.5 1168 973.5 1168.2 974.9 1168.6 977.4 1169 979.8 1169.5 982.3 1169.9 984.8 1170.4 987.2 1170.8 989.7 1171.3 992.1 1171.8 994.6 1172.3 997 1172.8 999.5 1173.2 1001.9 1173.5 1003.5 1173.7 1004.4 1174.2 1006.8 1174.7 1009.3 1175.2 1011.7 1175.8 1014.2 1176.3 1016.6 1176.8 1019.1 1177.3 1021.5 1177.9 1023.9 1178.4 1026.4 1179 1028.8 1179.5 1031.3 1180.1 1033.7 1180.1 1033.8 1180.6 1036.1 1181.2 1038.6 1181.7 1041 1182.3 1043.4 1182.9 1045.9 1183.4 1048.3 1184 1050.7 1184.6 1053.2 1185.2 1055.6 1185.8 1058 1186.4 1060.5 1187 1062.9 1187.3 1064 1187.6 1065.3 1188.2 1067.7 1188.8 1070.1 1189.4 1072.6 1190.1 1075 1190.7 1077.4 1191.4 1079.8 1192 1082.2 1192.7 1084.6 1193.3 1087 1193.5 1087.7 1194 1089.4 1194.7 1091.8 1195.4 1094.2 1196.1 1096.6 1196.8 1099 1197.1 1100.1 1197.5 1101.4 1198.3 1103.8 1199.1 1106.2 1199.9 1108.5 1200.8 1110.9 1200.8 1110.9 1201.8 1113.2 1202.8 1115.5 1203.8 1117.8 1204.9 1120 1206.1 1122.2 1206.2 1122.4 1207.3 1124.4 1208.6 1126.6 1210 1128.7 1211.4 1130.7 1211.8 1131.1 1213.1 1132.5 1214.8 1134.4 1216.8 1135.9 1217.2 1136.2 1219 1137.1 1221.3 1138 1221.7 1138 1223.8 1138.3 1226.3 1138.5 1226.3 1138.5 1228.8 1138.3 1230.9 1138 1231.3 1138 1233.6 1137.1 1235.4 1136.2 1235.8 1135.9 1237.8 1134.4 1239.5 1132.5 1240.8 1131.1 1241.2 1130.7 1242.6 1128.7 1244 1126.6 1245.3 1124.4 1246.4 1122.4 1246.5 1122.2 1247.7 1120 1248.8 1117.8 1249.8 1115.5 1250.8 1113.2 1251.8 1110.9 1251.8 1110.9 1252.7 1108.5 1253.5 1106.2 1254.3 1103.8 1255.1 1101.4 1255.5 1100.1 1255.8 1099 1256.5 1096.6 1257.2 1094.2 1257.9 1091.8 1258.6 1089.4 1259.1 1087.7 1259.3 1087 1259.9 1084.6 1260.6 1082.2 1261.2 1079.8 1261.9 1077.4 1262.5 1075 1263.2 1072.6 1263.8 1070.1 1264.4 1067.7 1265 1065.3 1265.3 1064 1265.6 1062.9 1266.2 1060.5 1266.8 1058 1267.4 1055.6 1268 1053.2 1268.6 1050.7 1269.2 1048.3 1269.7 1045.9 1270.3 1043.4 1270.9 1041 1271.4 1038.6 1272 1036.1 1272.5 1033.8 1272.5 1033.7 1273.1 1031.3 1273.6 1028.8 1274.2 1026.4 1274.7 1023.9 1275.3 1021.5 1275.8 1019.1 1276.3 1016.6 1276.8 1014.2 1277.4 1011.7 1277.9 1009.3 1278.4 1006.8 1278.9 1004.4 1279.1 1003.5 1279.4 1001.9 1279.8 999.5 1280.3 997 1280.8 994.6 1281.3 992.1 1281.8 989.7 1282.2 987.2 1282.7 984.8 1283.1 982.3 1283.6 979.8 1284 977.4 1284.4 974.9 1284.6 973.5 1284.8 972.5 1285.1 970 1285.5 967.5 1285.8 965 1286.2 962.6 1286.5 960.1 1286.8 957.6 1287.2 955.1 1287.5 952.6 1287.8 950.2 1287.8 950.1 1288 947.7 1288.3 945.2 1288.6 942.7 1288.9 940.2 1289.1 937.7 1289.4 935.3 1289.6 932.8 1289.9 930.3 1290.1 927.8 1290.3 925.3 1290.6 922.8 1290.8 920.3 1291.1 917.9 1291.3 915.4 1291.4 914.9 1291.5 912.9 1291.8 910.4 1292 907.9 1292.3 905.4 1292.5 902.9 1292.8 900.4 1293 898 1293.2 895.5 1293.5 893 1293.7 890.5 1293.9 888 1294.2 885.5 1294.4 883 1294.6 880.5 1294.7 879.5 1294.8 878.1 1295 875.6 1295.2 873.1 1295.4 870.6 1295.6 868.1 1295.8 865.6 1296 863.1 1296.2 860.6 1296.4 858.1 1296.6 855.6 1296.8 853.1 1297 850.7 1297.2 848.2 1297.4 845.7 1297.5 844 1297.6 843.2 1297.8 840.7 1297.9 838.2 1298.1 835.7 1298.3 833.2 1298.5 830.7 1298.7 828.2 1298.9 825.7 1299.1 823.2 1299.2 820.8 1299.4 818.3 1299.6 815.8 1299.8 813.3 1300 810.8 1300.1 808.6 1300.2 808.3 1300.4 805.8 1300.5 803.3 1300.7 800.8 1300.9 798.3 1301.1 795.8 1301.3 793.3 1301.5 790.9 1301.7 788.4 1301.9 785.9 1302 783.4 1302.2 780.9 1302.4 778.4 1302.6 775.9 1302.7 773.4 1302.7 773.2 1302.9 770.9 1303 768.4 1303.2 765.9 1303.3 763.4 1303.5 760.9 1303.6 758.4 1303.8 756 1303.9 753.5 1304 751 1304.2 748.5 1304.3 746 1304.4 743.5 1304.6 741 1304.7 738.5 1304.8 736 1304.9 733.5 1305 731 1305.1 728.6 1305.1 728.5 1305.3 726 1305.4 723.5 1305.5 721 1305.6 718.5 1305.7 716 1305.8 713.5 1305.9 711 1306 708.5 1306.1 706 1306.2 703.5 1306.3 701 1306.4 698.5 1306.5 696.1 1306.6 693.6 1306.7 691.1 1306.8 688.6 1306.9 686.1 1306.9 683.6 1307 681.1 1307.1 678.6 1307.2 676.1 1307.3 673.6 1307.4 671.1 1307.5 668.6 1307.6 666.1 1307.6 663.6 1307.7 661.1 1307.8 658.6 1307.9 656.1 1308 653.6 1308 651.1 1308.1 648.6 1308.2 646.1 1308.3 643.6 1308.3 641.1 1308.4 638.6 1308.5 636.1 1308.5 633.6 1308.6 631.1 1308.7 628.6 1308.7 626.1 1308.8 625.3 1308.8 623.6 1308.9 621.1 1308.9 618.6 1309 616.1 1309.1 613.6 1309.1 611.1 1309.2 608.6 1309.2 606.1 1309.3 603.6 1309.4 601.2 1309.4 598.7 1309.5 596.2 1309.6 593.7 1309.6 591.2 1309.7 588.7 1309.7 586.2 1309.8 583.7 1309.8 581.2 1309.9 578.7 1310 576.2 1310 573.7 1310.1 571.2 1310.1 568.7 1310.2 566.2 1310.2 563.7 1310.3 561.2 1310.3 558.7 1310.4 556.2 1310.4 553.7 1310.5 551.2 1310.5 548.7 1310.6 546.2 1310.6 543.7 1310.7 541.2 1310.7 538.7 1310.8 536.2 1310.8 533.7 1310.9 531.2 1310.9 528.7 1311 526.2 1311 523.7 1311.1 521.2 1311.1 518.7 1311.2 516.2 1311.2 513.7 1311.3 511.2 1311.3 508.7 1311.3 506.2 1311.4 503.7 1311.4 501.2 1311.5 498.7 1311.5 496.2 1311.6 493.7 1311.6 491.2 1311.6 488.7 1311.7 486.2 1311.7 483.7 1311.8 481.2 1311.8 478.7 1311.9 476.2 1311.9 473.7 1311.9 471.3 1312 468.8 1312 466.3 1312.1 463.8 1312.1 461.3 1312.1 458.8 1312.2 456.3 1312.2 453.8 1312.2 453.1 1312.2 451.3 1312.3 448.8 1312.3 446.3 1312.4 443.8 1312.4 441.3 1312.4 438.8 1312.5 436.3 1312.5 433.8 1312.5 431.3 1312.6 428.8 1312.6 426.3 1312.7 423.8 1312.7 421.3 1312.7 418.8 1312.8 416.3 1312.8 413.8 1312.8 411.3 1312.9 408.8 1312.9 406.3 1312.9 403.8 1313 401.3 1313 398.8 1313 396.3 1313.1 393.8 1313.1 391.3 1313.1 388.8 1313.2 386.3 1313.2 383.8 1313.2 381.3 1313.3 378.8 1313.3 376.3 1313.3 373.8 1313.4 371.3 1313.4 368.8 1313.4 366.3 1313.5 363.8 1313.5 361.3 1313.5 358.8 1313.6 356.3 1313.6 353.8 1313.6 351.3 1313.7 348.8 1313.7 346.3 1313.7 343.8 1313.8 341.3 1313.8 338.8 1313.8 336.3 1313.8 333.8 1313.9 331.3 1313.9 328.8 1313.9 326.4 1314 323.9 1314 321.4 1314 318.9 1314 316.4 1314.1 313.9 1314.1 311.4 1314.1 308.9 1314.2 306.4 1314.2 303.9 1314.2 301.4 1314.2 298.9 1314.3 296.4 1314.3 293.9 1314.3 291.4 1314.3 288.9 1314.4 286.4 1314.4 283.9 1314.4 281.4 1314.4 278.9 1314.4 276.4 1314.5 273.9 1314.5 271.4 1314.5 268.9 1314.5 266.4 1314.6 263.9 1314.6 261.4 1314.6 258.9 1314.6 256.4 1314.6 253.9 1314.7 251.4 1314.7 248.9 1314.7 246.4 1314.7 248.9 1314.7 251.4 1314.8 253.9 1314.8 256.4 1314.8 258.9 1314.8 261.4 1314.8 263.9 1314.9 266.4 1314.9 268.9 1314.9 271.4 1314.9 273.9 1314.9 276.4 1315 278.9 1315 281.4 1315 283.9 1315 286.4 1315.1 288.9 1315.1 291.4 1315.1 293.9 1315.1 296.4 1315.2 298.9 1315.2 301.4 1315.2 303.9 1315.2 306.4 1315.3 308.9 1315.3 311.4 1315.3 313.8 1315.3 316.3 1315.4 318.8 1315.4 321.3 1315.4 323.8 1315.4 326.3 1315.5 328.8 1315.5 331.3 1315.5 333.8 1315.6 336.3 1315.6 338.8 1315.6 341.3 1315.6 343.8 1315.7 346.3 1315.7 348.8 1315.7 351.3 1315.8 353.8 1315.8 356.3 1315.8 358.8 1315.9 361.3 1315.9 363.8 1315.9 366.3 1316 368.8 1316 371.3 1316 373.8 1316 376.3 1316.1 378.8 1316.1 381.3 1316.1 383.8 1316.2 386.3 1316.2 388.8 1316.2 391.3 1316.3 393.8 1316.3 396.3 1316.3 398.8 1316.4 401.3 1316.4 403.8 1316.5 406.3 1316.5 408.8 1316.5 411.3 1316.6 413.8 1316.6 416.3 1316.6 418.8 1316.7 421.3 1316.7 423.8 1316.7 426.3 1316.8 428.8 1316.8 431.3 1316.8 433.8 1316.9 436.2 1316.9 438.7 1317 441.2 1317 443.7 1317 446.2 1317.1 448.7 1317.1 451.2 1317.1 453.1 1317.1 453.7 1317.2 456.2 1317.2 458.7 1317.3 461.2 1317.3 463.7 1317.3 466.2 1317.4 468.7 1317.4 471.2 1317.4 473.7 1317.5 476.2 1317.5 478.7 1317.6 481.2 1317.6 483.7 1317.7 486.2 1317.7 488.7 1317.7 491.2 1317.8 493.7 1317.8 496.2 1317.9 498.7 1317.9 501.2 1318 503.7 1318 506.2 1318 508.7 1318.1 511.2 1318.1 513.7 1318.2 516.2 1318.2 518.7 1318.3 521.2 1318.3 523.7 1318.4 526.2 1318.4 528.7 1318.5 531.2 1318.5 533.7 1318.6 536.2 1318.6 538.7 1318.7 541.2 1318.7 543.7 1318.8 546.2 1318.8 548.7 1318.9 551.1 1318.9 553.6 1319 556.1 1319 558.6 1319.1 561.1 1319.1 563.6 1319.2 566.1 1319.2 568.6 1319.3 571.1 1319.4 573.6 1319.4 576.1 1319.5 578.6 1319.5 581.1 1319.6 583.6 1319.6 586.1 1319.7 588.6 1319.8 591.1 1319.8 593.6 1319.9 596.1 1319.9 598.6 1320 601.1 1320 603.6 1320.1 606.1 1320.2 608.6 1320.2 611.1 1320.3 613.6 1320.4 616.1 1320.4 618.6 1320.5 621.1 1320.5 623.6 1320.6 625.3 1320.6 626.1 1320.7 628.6 1320.7 631.1 1320.8 633.6 1320.9 636.1 1320.9 638.6 1321 641.1 1321.1 643.6 1321.1 646.1 1321.2 648.5 1321.3 651 1321.4 653.5 1321.4 656 1321.5 658.5 1321.6 661 1321.7 663.5 1321.7 666 1321.8 668.5 1321.9 671 1322 673.5 1322.1 676 1322.1 678.5 1322.2 681 1322.3 683.5 1322.4 686 1322.5 688.5 1322.6 691 1322.7 693.5 1322.7 696 1322.8 698.5 1322.9 701 1323 703.5 1323.1 706 1323.2 708.5 1323.3 711 1323.4 713.5 1323.5 716 1323.6 718.5 1323.7 721 1323.8 723.5 1323.9 725.9 1324 728.4 1324 728.6 1324.1 730.9 1324.2 733.4 1324.3 735.9 1324.4 738.4 1324.5 740.9 1324.6 743.4 1324.7 745.9 1324.8 748.4 1324.9 750.9 1325.1 753.4 1325.2 755.9 1325.3 758.4 1325.4 760.9 1325.6 763.4 1325.7 765.9 1325.8 768.4 1326 770.9 1326.1 773.2 1326.1 773.4 1326.2 775.9 1326.4 778.3 1326.5 780.8 1326.7 783.3 1326.8 785.8 1327 788.3 1327.1 790.8 1327.3 793.3 1327.5 795.8 1327.6 798.3 1327.8 800.8 1328 803.3 1328.1 805.8 1328.3 808.3 1328.3 808.7 1328.5 810.8 1328.7 813.2 1328.9 815.7 1329 818.2 1329.2 820.7 1329.4 823.2 1329.6 825.7 1329.8 828.2 1330 830.7 1330.2 833.2 1330.4 835.7 1330.6 838.2 1330.8 840.6 1331 843.1 1331 844 1331.2 845.6 1331.4 848.1 1331.5 850.6 1331.7 853.1 1331.9 855.6 1332.1 858.1 1332.3 860.6 1332.5 863.1 1332.7 865.6 1332.9 868 1333.1 870.5 1333.3 873 1333.5 875.5 1333.7 878 1333.8 879.5 1333.9 880.5 1334.1 883 1334.4 885.5 1334.6 888 1334.8 890.4 1335.1 892.9 1335.3 895.4 1335.5 897.9 1335.8 900.4 1336 902.9 1336.3 905.4 1336.6 907.8 1336.8 910.3 1337.1 912.8 1337.3 914.9 1337.4 915.3 1337.6 917.8 1337.9 920.3 1338.2 922.7 1338.5 925.2 1338.8 927.7 1339.1 930.2 1339.4 932.7 1339.7 935.1 1340 937.6 1340.4 940.1 1340.7 942.6 1341 945.1 1341.3 947.5 1341.7 950 1341.7 950.1 1342 952.5 1342.4 955 1342.8 957.4 1343.1 959.9 1343.5 962.4 1343.9 964.8 1344.3 967.3 1344.7 969.8 1345.1 972.2 1345.4 973.9 1345.5 974.7 1346 977.1 1346.4 979.6 1346.9 982.1 1347.3 984.5 1347.8 987 1348.2 989.4 1348.7 991.9 1349.2 994.3 1349.7 996.8 1350.2 999.2 1350.7 1001.7 1351.3 1004.1 1351.8 1006.6 1352.1 1007.8 1352.4 1009 1353 1011.4 1353.6 1013.8 1354.2 1016.3 1354.8 1018.7 1355.5 1021.1 1356.1 1023.5 1356.8 1025.9 1357.5 1028.3 1358.2 1030.7 1359 1033.1 1359.7 1035.5 1360.5 1037.8 1360.6 1038.2 1361.3 1040.2 1362.1 1042.6 1363 1044.9 1363.9 1047.3 1364.8 1049.6 1365.7 1051.9 1366.7 1054.2 1367.7 1056.5 1368.7 1058.8 1369.7 1061.1 1370.8 1063.3 1370.9 1063.6 1371.9 1065.6 1373 1067.8 1374.2 1070 1375.4 1072.2 1376.7 1074.3 1378 1076.5 1379.3 1078.6 1380.6 1080.7 1382 1082.8 1382.6 1083.8 1383.4 1084.9 1384.8 1086.9 1386.3 1089 1387.8 1091 1389.3 1092.9 1390.9 1094.9 1392.5 1096.8 1393.5 1098 1394.1 1098.7 1395.8 1100.6 1397.5 1102.4 1399.3 1104.2 1401 1105.8 1401.1 1105.9 1402.9 1107.5 1404.8 1109.2 1406.8 1110.8 1408.8 1112.3 1410.8 1113.8 1412.8 1115.2 1414.9 1116.6 1416.2 1117.4 1417 1117.9 1419.2 1119.1 1421.4 1120.3 1423.6 1121.4 1425.9 1122.5 1428.2 1123.6 1430.5 1124.6 1432.8 1125.5 1434.6 1126.3 1435.1 1126.4 1437.4 1127.3 1439.8 1128.1 1442.2 1128.9 1444.6 1129.7 1447 1130.4 1449.4 1131 1451.8 1131.7 1454.2 1132.2 1454.7 1132.3 1456.7 1132.8 1459.1 1133.3 1461.6 1133.8 1464 1134.2 1466.5 1134.7 1468.9 1135.1 1471.4 1135.5 1473.9 1135.8 1476.4 1136.1 1477.8 1136.3 1478.9 1136.4 1481.3 1136.7 1483.8 1136.9 1486.3 1137.2 1488.8 1137.4 1491.3 1137.6 1493.8 1137.8 1496.3 1138 1498.8 1138.1 1500.9 1138.2 1501.3 1138.2 1503.8 1138.3 1506.3 1138.4 1508.8 1138.5 1511.3 1138.6 1513.7 1138.7 1516.2 1138.8 1518.7 1138.8 1521.2 1138.9 1523.7 1139 1525.5 1139 1526.2 1139 1528.7 1139.1 1531.2 1139.1 1533.7 1139.2 1536.2 1139.2 1538.7 1139.3 1541.2 1139.3 1543.7 1139.4 1546.2 1139.5 1548.7 1139.5 1551.2 1139.6 1553.7 1139.6 1556.2 1139.6 1558.7 1139.7 1561.2 1139.7 1563.7 1139.8 1566.2 1139.8 1568.7 1139.9 1571.2 1139.9 1573.7 1140 1576.2 1140 1578.7 1140.1 1581.2 1140.1 1583.7 1140.1 1586.2 1140.2 1588.7 1140.2 1591.2 1140.3 1593.7 1140.3 1596.2 1140.3 1598.7 1140.4 1601.2 1140.4 1603.7 1140.5 1606.2 1140.5 1608.7 1140.5 1611.2 1140.6 1613.7 1140.6 1616.2 1140.6 1618.7 1140.7 1621.2 1140.7 1623.7 1140.7 1626.2 1140.8 1628.6 1140.8 1631.1 1140.8 1633.6 1140.8 1636.1 1140.9 1638.6 1140.9 1641.1 1140.9 1643.6 1141 1646.1 1141 1648.6 1141 1651.1 1141 1653.6 1141.1 1656.1 1141.1 1658.6 1141.1 1661.1 1141.1 1663.6 1141.1 1666.1 1141.2 1668.6 1141.2 1671.1 1141.2 1673.6 1141.2 1676.1 1141.2 1677.9 1141.2 1678.6 1141.3 1681.1 1141.3 1683.6 1141.3 1686.1 1141.3 1688.6 1141.3 1691.1 1141.3 1693.6 1141.4 1696.1 1141.4 1698.6 1141.4 1701.1 1141.4 1703.6 1141.4 1706.1 1141.4 1708.6 1141.5 1711.1 1141.5 1713.6 1141.5 1716.1 1141.5 1718.6 1141.5 1721.1 1141.5 1723.6 1141.5 1726.1 1141.6 1728.6 1141.6 1731.1 1141.6 1733.6 1141.6 1736.1 1141.6 1738.6 1141.6 1741.1 1141.6 1743.6 1141.7 1746.1 1141.7 1748.6 1141.7 1751.1 1141.7 1753.6 1141.7 1756.1 1141.7 1758.5 1141.7 1761 1141.7 1763.5 1141.8 1766 1141.8 1768.5 1141.8 1771 1141.8 1773.5 1141.8 1776 1141.8 1778.5 1141.8 1781 1141.8 1783.5 1141.8 1786 1141.8 1788.5 1141.9 1791 1141.9 1793.5 1141.9 1796 1141.9 1798.5 1141.9 1801 1141.9 1803.5 1141.9 1806 1141.9 1808.5 1141.9 1811 1141.9 1813.5 1141.9 1816 1141.9 1818.5 1141.9 1821 1141.9 1823.5 1141.9 1826 1141.9 1828.5 1141.9" fill="none" stroke="#000000" stroke-width="4.68" stroke-linejoin="round" stroke-linecap="square"/>
<path d="M624.1 1135 627 1135 629.9 1135 632.7 1134.9 635.6 1134.9 638.4 1134.8 641.2 1134.7 644 1134.6 646.8 1134.5 649.6 1134.3 652.4 1134.2 655.2 1134 657.9 1133.8 660.7 1133.6 663.4 1133.4 666.1 1133.2 668.9 1132.9 671.6 1132.7 674.2 1132.4 676.9 1132.1 679.6 1131.8 682.3 1131.5 684.9 1131.1 687.5 1130.8 690.2 1130.4 692.8 1130 695.4 1129.6 698 1129.2 700.6 1128.8 703.1 1128.4 705.7 1127.9 708.3 1127.5 710.8 1127 713.3 1126.5 715.8 1126.1 718.4 1125.6 720.9 1125 723.3 1124.5 725.8 1124 728.3 1123.4 730.8 1122.9 733.2 1122.3 735.6 1121.7 738.1 1121.1 740.5 1120.5 742.9 1119.9 745.3 1119.3 747.7 1118.6 750.1 1118 752.5 1117.3 754.8 1116.7 757.2 1116 759.5 1115.3 761.8 1114.6 764.2 1113.9 766.5 1113.2 768.8 1112.5 771.1 1111.8 773.4 1111 775.6 1110.3 777.9 1109.5 780.2 1108.8 782.4 1108 784.7 1107.2 786.9 1106.5 789.1 1105.7 791.3 1104.9 793.5 1104.1 795.7 1103.3 797.9 1102.4 800.1 1101.6 802.3 1100.8 804.4 1100 806.6 1099.1 808.7 1098.3 810.9 1097.4 813 1096.6 815.1 1095.7 817.2 1094.8 819.3 1094 821.4 1093.1 823.5 1092.2 825.6 1091.3 827.6 1090.4 829.7 1089.5 831.7 1088.6 833.8 1087.7 835.8 1086.8 836.1 1086.7 837.8 1085.9 839.9 1084.8 841.9 1083.7 843.9 1082.5 845.9 1081.3 847.9 1079.9 849.9 1078.5 851.8 1077.1 853.8 1075.5 855.7 1074 857.7 1072.3 859.6 1070.6 861.5 1068.9 863.4 1067.1 865.2 1065.3 867.1 1063.5 868.9 1061.6 870.7 1059.7 872.5 1057.7 874.3 1055.8 876.1 1053.8 877.8 1051.8 879.5 1049.8 881.2 1047.8 882.8 1045.8 884.5 1043.8 886.1 1041.8 887.7 1039.8 889.2 1037.8 890.8 1035.8 892.3 1033.9 893.6 1032.2 893.7 1032 895.2 1030 896.6 1028 898.1 1026 899.5 1024 900.9 1022 902.2 1019.9 903.6 1017.8 904.9 1015.7 906.3 1013.6 907.6 1011.4 908.9 1009.3 910.1 1007.1 911.4 1004.9 912.6 1002.7 913.9 1000.5 915.1 998.2 916.2 996 917.4 993.7 918.5 991.5 919.7 989.2 920.8 987 921.8 984.7 922.9 982.4 923.9 980.1 924.9 977.9 925.9 975.6 926.1 975.1 926.9 973.3 927.8 971 928.7 968.7 929.6 966.4 930.4 964 931.2 961.6 932 959.3 932.8 956.9 933.6 954.5 934.4 952.1 934.8 950.9 935.2 949.8 936 947.4 936.8 945 937.6 942.7 938.4 940.3 939.1 937.9 939.9 935.6 940.7 933.2 941.4 930.8 942.2 928.4 942.9 926 943.6 923.6 944.4 921.3 945.1 918.9 945.2 918.4 945.8 916.5 946.5 914.1 947.2 911.7 947.8 909.3 948.5 906.9 949.2 904.5 949.8 902.1 950.5 899.7 951.1 897.2 951.8 894.8 952.4 892.4 953 890 953.7 887.6 954.3 885.2 954.9 882.7 955.1 881.8 955.5 880.3 956 877.9 956.6 875.5 957.2 873 957.8 870.6 958.3 868.2 958.9 865.7 959.4 863.3 959.9 860.9 960.4 858.4 960.9 856 961.4 853.7 961.4 853.5 961.9 851.1 962.4 848.6 962.9 846.2 963.3 843.7 963.8 841.3 964.3 838.8 964.7 836.4 965.1 833.9 965.6 831.5 966 829 966.4 826.5 966.8 824.1 967.2 821.6 967.6 819.1 967.9 817 967.9 816.7 968.3 814.2 968.7 811.7 969 809.3 969.3 806.8 969.7 804.3 970 801.8 970.3 799.4 970.6 796.9 971 794.4 971.3 791.9 971.6 789.5 971.9 787 972.2 784.5 972.4 782 972.7 779.5 973 777.1 973.3 774.6 973.4 773.9 973.6 772.1 973.9 769.6 974.1 767.2 974.4 764.7 974.7 762.2 974.9 759.7 975.2 757.2 975.5 754.7 975.7 752.3 976 749.8 976.2 747.3 976.5 744.8 976.7 742.3 977 739.8 977.2 737.4 977.4 734.9 977.6 732.4 977.8 729.9 978 728.6 978.1 727.4 978.3 724.9 978.5 722.4 978.7 720 978.9 717.5 979.1 715 979.3 712.5 979.4 710 979.6 707.5 979.8 705 980 702.5 980.2 700.1 980.4 697.6 980.5 695.1 980.7 692.6 980.9 690.1 981.1 687.6 981.2 685.1 981.4 682.6 981.6 680.1 981.8 677.7 981.9 675.2 982.1 672.7 982.2 670.2 982.4 667.7 982.6 665.2 982.7 662.7 982.9 660.2 983 657.7 983.2 655.2 983.3 652.7 983.5 650.3 983.6 647.8 983.8 645.3 983.9 642.8 984.1 640.3 984.2 637.8 984.4 635.3 984.5 632.8 984.6 632.1 984.7 630.3 984.8 627.8 984.9 625.3 985.1 622.9 985.2 620.4 985.4 617.9 985.5 615.4 985.6 612.9 985.8 610.4 985.9 607.9 986 605.4 986.2 602.9 986.3 600.4 986.4 597.9 986.6 595.4 986.7 593 986.8 590.5 987 588 987.1 585.5 987.2 583 987.3 580.5 987.5 578 987.6 575.5 987.7 573 987.8 570.5 988 568 988.1 565.5 988.2 563 988.3 560.6 988.4 558.1 988.6 555.6 988.7 553.1 988.8 550.6 988.9 548.1 989 545.6 989.2 543.1 989.3 540.6 989.4 538.1 989.5 535.6 989.6 533.1 989.7 530.6 989.8 528.2 990 525.7 990.1 523.2 990.2 520.7 990.3 518.2 990.4 515.7 990.5 513.2 990.6 510.7 990.7 508.2 990.8 505.7 991 503.2 991.1 500.7 991.2 498.2 991.3 495.7 991.4 493.3 991.5 490.8 991.6 488.3 991.6 487.5 991.7 485.8 991.8 483.3 991.9 480.8 992 478.3 992.2 475.8 992.3 473.3 992.4 470.8 992.5 468.3 992.6 465.8 992.7 463.3 992.8 460.8 992.9 458.3 993 455.9 993.1 453.4 993.2 450.9 993.3 448.4 993.4 445.9 993.5 443.4 993.6 440.9 993.7 438.4 993.9 435.9 994 433.4 994.1 430.9 994.2 428.4 994.3 425.9 994.4 423.4 994.5 421 994.6 418.5 994.7 416 994.8 413.5 994.9 411 995 408.5 995.1 406 995.2 403.5 995.3 401 995.4 398.5 995.5 396 995.6 393.5 995.7 391 995.8 388.5 995.9 386 996 383.6 996.1 381.1 996.2 378.6 996.3 376.1 996.4 373.6 996.5 371.1 996.6 368.6 996.7 366.1 996.8 363.6 996.9 361.1 997 358.6 997.1 356.1 997.2 353.6 997.2 351.1 997.3 348.6 997.4 346.2 997.5 343.7 997.6 341.2 997.7 338.7 997.8 336.2 997.9 333.7 998 331.2 998.1 328.7 998.2 326.2 998.3 323.7 998.4 321.2 998.5 318.7 998.5 316.2 998.6 313.7 998.7 311.2 998.8 308.7 998.9 306.3 999 303.8 999.1 301.3 999.2 298.8 999.3 296.3 999.3 293.8 999.4 291.3 999.5 288.8 999.6 286.3 999.7 283.8 999.8 281.3 999.9 278.8 999.9 276.3 1000 273.8 1000.1 271.3 1000.2 268.8 1000.3 266.4 1000.4 263.9 1000.4 261.4 1000.5 258.9 1000.6 256.4 1000.7 253.9 1000.8 251.4 1000.8 248.9 1000.9 246.4 1001 248.9 1001.1 251.4 1001.1 253.9 1001.2 256.4 1001.3 258.9 1001.4 261.4 1001.4 263.9 1001.5 266.4 1001.6 268.9 1001.7 271.4 1001.8 273.9 1001.8 276.4 1001.9 278.8 1002 281.3 1002.1 283.8 1002.1 286.3 1002.2 288.8 1002.3 291.3 1002.4 293.8 1002.5 296.3 1002.5 298.8 1002.6 301.3 1002.7 303.8 1002.8 306.3 1002.9 308.8 1003 311.3 1003 313.8 1003.1 316.3 1003.2 318.8 1003.3 321.3 1003.4 323.8 1003.4 326.3 1003.5 328.8 1003.6 331.3 1003.7 333.8 1003.8 336.2 1003.9 338.7 1004 341.2 1004 343.7 1004.1 346.2 1004.2 348.7 1004.3 351.2 1004.4 353.7 1004.5 356.2 1004.6 358.7 1004.6 361.2 1004.7 363.7 1004.8 366.2 1004.9 368.7 1005 371.2 1005.1 373.7 1005.2 376.2 1005.3 378.7 1005.4 381.2 1005.4 383.7 1005.5 386.2 1005.6 388.6 1005.7 391.1 1005.8 393.6 1005.9 396.1 1006 398.6 1006.1 401.1 1006.2 403.6 1006.3 406.1 1006.4 408.6 1006.4 411.1 1006.5 413.6 1006.6 416.1 1006.7 418.6 1006.8 421.1 1006.9 423.6 1007 426.1 1007.1 428.6 1007.2 431.1 1007.3 433.6 1007.4 436.1 1007.5 438.6 1007.6 441 1007.7 443.5 1007.8 446 1007.9 448.5 1008 451 1008.1 453.5 1008.1 456 1008.2 458.5 1008.3 461 1008.4 463.5 1008.5 466 1008.6 468.5 1008.7 471 1008.8 473.5 1008.9 476 1009 478.5 1009.1 481 1009.2 483.5 1009.3 486 1009.4 487.5 1009.4 488.5 1009.5 490.9 1009.6 493.4 1009.7 495.9 1009.8 498.4 1009.9 500.9 1010 503.4 1010.1 505.9 1010.2 508.4 1010.3 510.9 1010.4 513.4 1010.5 515.9 1010.6 518.4 1010.7 520.9 1010.8 523.4 1010.9 525.9 1011 528.4 1011.1 530.9 1011.2 533.4 1011.3 535.9 1011.4 538.4 1011.5 540.8 1011.6 543.3 1011.7 545.8 1011.8 548.3 1011.9 550.8 1012 553.3 1012.1 555.8 1012.3 558.3 1012.4 560.8 1012.5 563.3 1012.6 565.8 1012.7 568.3 1012.8 570.8 1012.9 573.3 1013 575.8 1013.1 578.3 1013.2 580.8 1013.3 583.3 1013.5 585.8 1013.6 588.2 1013.7 590.7 1013.8 593.2 1013.9 595.7 1014 598.2 1014.1 600.7 1014.3 603.2 1014.4 605.7 1014.5 608.2 1014.6 610.7 1014.7 613.2 1014.9 615.7 1015 618.2 1015.1 620.7 1015.2 623.2 1015.3 625.7 1015.5 628.1 1015.6 630.6 1015.7 633.1 1015.9 635.6 1016 638.1 1016.1 640.6 1016.2 643.1 1016.4 645.6 1016.4 645.9 1016.5 648.1 1016.6 650.6 1016.8 653.1 1016.9 655.6 1017 658.1 1017.2 660.6 1017.3 663.1 1017.5 665.5 1017.6 668 1017.7 670.5 1017.9 673 1018 675.5 1018.2 678 1018.3 680.5 1018.5 683 1018.6 685.5 1018.8 688 1018.9 690.5 1019.1 693 1019.3 695.5 1019.4 698 1019.6 700.4 1019.7 702.9 1019.9 705.4 1020.1 707.9 1020.3 710.4 1020.4 712.9 1020.6 715.4 1020.8 717.9 1021 720.4 1021.2 722.9 1021.4 725.3 1021.6 727.8 1021.6 728.6 1021.8 730.3 1022 732.8 1022.2 735.3 1022.4 737.8 1022.6 740.3 1022.8 742.8 1023.1 745.2 1023.3 747.7 1023.6 750.2 1023.8 752.7 1024.1 755.2 1024.3 757.7 1024.6 760.2 1024.9 762.6 1025.1 765.1 1025.4 767.6 1025.7 770.1 1026 772.6 1026.1 773.9 1026.2 775 1026.5 777.5 1026.8 780 1027.1 782.5 1027.4 785 1027.7 787.4 1028 789.9 1028.3 792.4 1028.6 794.9 1028.9 797.4 1029.3 799.8 1029.6 802.3 1029.9 804.8 1030.2 807.3 1030.6 809.7 1030.9 812.2 1031.3 814.7 1031.6 817.1 1031.6 817.2 1031.9 819.6 1032.3 822.1 1032.6 824.6 1033 827 1033.3 829.5 1033.7 832 1034.1 834.5 1034.4 836.9 1034.8 839.4 1035.2 841.9 1035.5 844.3 1035.9 846.8 1036.3 849.3 1036.7 851.7 1037.1 854.2 1037.5 856.7 1038 859.1 1038.1 860.2 1038.4 861.6 1038.8 864 1039.2 866.5 1039.7 869 1040.1 871.4 1040.6 873.9 1041.1 876.3 1041.5 878.8 1042 881.2 1042.5 883.7 1043 886.1 1043.5 888.6 1044 891 1044.5 893.5 1045 895.9 1045.6 898.3 1046.1 900.8 1046.7 903.2 1046.7 903.4 1047.3 905.6 1047.9 908.1 1048.5 910.5 1049.1 912.9 1049.7 915.3 1050.4 917.7 1051 920.1 1051.7 922.5 1052.4 924.9 1053.1 927.3 1053.8 929.7 1054.5 932.1 1055.2 934.5 1055.9 936.9 1056.7 939.3 1057.4 941.7 1058.1 944.1 1058.1 944.1 1058.9 946.5 1059.7 948.8 1060.5 951.2 1060.9 952.3 1061.4 953.5 1062.3 955.9 1063.2 958.2 1064.2 960.5 1065.2 962.7 1066.3 965 1067.3 967.3 1068.4 969.6 1069.5 971.8 1070.6 974 1071 974.9 1071.7 976.3 1072.9 978.5 1074.1 980.6 1075.3 982.8 1076.5 985 1077.8 987.2 1079.1 989.3 1080.3 991.5 1081.1 992.9 1081.5 993.7 1082.7 995.8 1084 998 1085.2 1000.2 1086.4 1002.4 1087.6 1004.6 1088.8 1006.8 1090 1008.9 1091.3 1011.1 1092.2 1012.7 1092.5 1013.3 1093.7 1015.5 1094.9 1017.7 1096.1 1019.8 1097.3 1022 1098.5 1024.2 1099.7 1026.4 1100.9 1028.6 1102.2 1030.8 1103.4 1032.9 1104.7 1035.1 1106 1037.2 1107.3 1039.3 1107.5 1039.8 1108.6 1041.4 1110 1043.5 1111.4 1045.6 1112.8 1047.6 1114.3 1049.7 1115.7 1051.7 1117.2 1053.7 1118.7 1055.8 1120.1 1057.8 1120.6 1058.4 1121.6 1059.8 1123.1 1061.8 1124.6 1063.8 1126.1 1065.8 1127.6 1067.8 1129.1 1069.8 1130.6 1071.8 1132.1 1073.8 1133.7 1075.7 1135.2 1077.7 1136 1078.8 1136.7 1079.6 1138.3 1081.6 1139.9 1083.6 1141.4 1085.5 1143 1087.4 1144.6 1089.4 1146.2 1091.3 1147.8 1093.2 1149.4 1095.1 1151 1096.8 1151.1 1096.9 1152.7 1098.8 1154.4 1100.7 1156.1 1102.5 1157.8 1104.4 1159.5 1106.2 1161.3 1108 1163 1109.8 1164.8 1111.5 1166.6 1113.2 1168.4 1114.9 1169.9 1116.2 1170.3 1116.6 1172.2 1118.2 1174.1 1119.8 1176 1121.4 1178 1123 1180 1124.5 1182.1 1126 1184.1 1127.4 1186.2 1128.8 1188.3 1130 1188.8 1130.3 1190.5 1131.2 1192.7 1132.4 1194.9 1133.6 1197.2 1134.7 1199.5 1135.8 1201.8 1136.7 1204.2 1137.6 1206.6 1138.2 1207.5 1138.5 1208.9 1138.8 1211.4 1139.3 1213.8 1139.8 1216.3 1140.2 1218.8 1140.6 1221.3 1140.9 1223.8 1141 1226.3 1141.1 1226.3 1141.1 1228.8 1141 1231.3 1140.9 1233.8 1140.6 1236.3 1140.2 1238.8 1139.8 1241.2 1139.3 1243.7 1138.8 1245.1 1138.5 1246 1138.2 1248.4 1137.6 1250.8 1136.7 1253.1 1135.8 1255.4 1134.7 1257.7 1133.6 1259.9 1132.4 1262.1 1131.2 1263.8 1130.3 1264.3 1130 1266.4 1128.8 1268.5 1127.4 1270.5 1126 1272.6 1124.5 1274.6 1123 1276.6 1121.4 1278.5 1119.8 1280.4 1118.2 1282.3 1116.6 1282.7 1116.2 1284.2 1114.9 1286 1113.2 1287.8 1111.5 1289.6 1109.8 1291.3 1108 1293.1 1106.2 1294.8 1104.4 1296.5 1102.5 1298.2 1100.7 1299.9 1098.8 1301.5 1096.9 1301.6 1096.8 1303.2 1095.1 1304.8 1093.2 1306.4 1091.3 1308 1089.4 1309.6 1087.4 1311.2 1085.5 1312.7 1083.6 1314.3 1081.6 1315.9 1079.6 1316.6 1078.8 1317.4 1077.7 1318.9 1075.7 1320.5 1073.8 1322 1071.8 1323.5 1069.8 1325 1067.8 1326.5 1065.8 1328 1063.8 1329.5 1061.8 1331 1059.8 1332 1058.4 1332.5 1057.8 1333.9 1055.8 1335.4 1053.7 1336.9 1051.7 1338.3 1049.7 1339.8 1047.6 1341.2 1045.6 1342.6 1043.5 1344 1041.4 1345.1 1039.8 1345.3 1039.3 1346.6 1037.2 1347.9 1035.1 1349.2 1032.9 1350.4 1030.8 1351.7 1028.6 1352.9 1026.4 1354.1 1024.2 1355.3 1022 1356.5 1019.8 1357.7 1017.7 1358.9 1015.5 1360.1 1013.3 1360.4 1012.7 1361.3 1011.1 1362.6 1008.9 1363.8 1006.8 1365 1004.6 1366.2 1002.4 1367.4 1000.2 1368.6 998 1369.9 995.8 1371.1 993.7 1371.5 992.9 1372.3 991.5 1373.5 989.3 1374.8 987.2 1376.1 985 1377.3 982.8 1378.5 980.6 1379.7 978.5 1380.9 976.3 1381.6 974.9 1382 974 1383.1 971.8 1384.2 969.6 1385.3 967.3 1386.3 965 1387.4 962.7 1388.4 960.5 1389.4 958.2 1390.3 955.9 1391.2 953.5 1391.7 952.3 1392.1 951.2 1392.9 948.8 1393.7 946.5 1394.5 944.1 1394.5 944.1 1395.2 941.7 1395.9 939.3 1396.7 936.9 1397.4 934.5 1398.1 932.1 1398.8 929.7 1399.5 927.3 1400.2 924.9 1400.9 922.5 1401.6 920.1 1402.2 917.7 1402.9 915.3 1403.5 912.9 1404.1 910.5 1404.7 908.1 1405.3 905.6 1405.9 903.4 1405.9 903.2 1406.5 900.8 1407 898.3 1407.6 895.9 1408.1 893.5 1408.6 891 1409.1 888.6 1409.6 886.1 1410.1 883.7 1410.6 881.2 1411.1 878.8 1411.5 876.3 1412 873.9 1412.5 871.4 1412.9 869 1413.4 866.5 1413.8 864 1414.2 861.6 1414.5 860.2 1414.6 859.1 1415.1 856.7 1415.5 854.2 1415.9 851.7 1416.3 849.3 1416.7 846.8 1417.1 844.3 1417.4 841.9 1417.8 839.4 1418.2 836.9 1418.5 834.5 1418.9 832 1419.3 829.5 1419.6 827 1420 824.6 1420.3 822.1 1420.7 819.6 1421 817.2 1421 817.1 1421.3 814.7 1421.7 812.2 1422 809.7 1422.4 807.3 1422.7 804.8 1423 802.3 1423.3 799.8 1423.7 797.4 1424 794.9 1424.3 792.4 1424.6 789.9 1424.9 787.4 1425.2 785 1425.5 782.5 1425.8 780 1426.1 777.5 1426.4 775 1426.5 773.9 1426.6 772.6 1426.9 770.1 1427.2 767.6 1427.5 765.1 1427.7 762.6 1428 760.2 1428.3 757.7 1428.5 755.2 1428.8 752.7 1429 750.2 1429.3 747.7 1429.5 745.2 1429.8 742.8 1430 740.3 1430.2 737.8 1430.4 735.3 1430.6 732.8 1430.8 730.3 1431 728.6 1431 727.8 1431.2 725.3 1431.4 722.9 1431.6 720.4 1431.8 717.9 1432 715.4 1432.2 712.9 1432.3 710.4 1432.5 707.9 1432.7 705.4 1432.9 702.9 1433 700.4 1433.2 698 1433.3 695.5 1433.5 693 1433.7 690.5 1433.8 688 1434 685.5 1434.1 683 1434.3 680.5 1434.4 678 1434.6 675.5 1434.7 673 1434.9 670.5 1435 668 1435.1 665.5 1435.3 663.1 1435.4 660.6 1435.6 658.1 1435.7 655.6 1435.8 653.1 1436 650.6 1436.1 648.1 1436.2 645.9 1436.2 645.6 1436.4 643.1 1436.5 640.6 1436.6 638.1 1436.7 635.6 1436.9 633.1 1437 630.6 1437.1 628.1 1437.3 625.7 1437.4 623.2 1437.5 620.7 1437.6 618.2 1437.7 615.7 1437.9 613.2 1438 610.7 1438.1 608.2 1438.2 605.7 1438.3 603.2 1438.5 600.7 1438.6 598.2 1438.7 595.7 1438.8 593.2 1438.9 590.7 1439 588.2 1439.1 585.8 1439.3 583.3 1439.4 580.8 1439.5 578.3 1439.6 575.8 1439.7 573.3 1439.8 570.8 1439.9 568.3 1440 565.8 1440.1 563.3 1440.2 560.8 1440.3 558.3 1440.5 555.8 1440.6 553.3 1440.7 550.8 1440.8 548.3 1440.9 545.8 1441 543.3 1441.1 540.8 1441.2 538.4 1441.3 535.9 1441.4 533.4 1441.5 530.9 1441.6 528.4 1441.7 525.9 1441.8 523.4 1441.9 520.9 1442 518.4 1442.1 515.9 1442.2 513.4 1442.3 510.9 1442.4 508.4 1442.5 505.9 1442.6 503.4 1442.7 500.9 1442.8 498.4 1442.9 495.9 1443 493.4 1443.1 490.9 1443.2 488.5 1443.2 487.5 1443.3 486 1443.4 483.5 1443.5 481 1443.6 478.5 1443.7 476 1443.8 473.5 1443.9 471 1444 468.5 1444.1 466 1444.2 463.5 1444.3 461 1444.4 458.5 1444.5 456 1444.5 453.5 1444.6 451 1444.7 448.5 1444.8 446 1444.9 443.5 1445 441 1445.1 438.6 1445.2 436.1 1445.3 433.6 1445.4 431.1 1445.5 428.6 1445.6 426.1 1445.7 423.6 1445.8 421.1 1445.9 418.6 1446 416.1 1446.1 413.6 1446.2 411.1 1446.2 408.6 1446.3 406.1 1446.4 403.6 1446.5 401.1 1446.6 398.6 1446.7 396.1 1446.8 393.6 1446.9 391.1 1447 388.6 1447.1 386.2 1447.2 383.7 1447.2 381.2 1447.3 378.7 1447.4 376.2 1447.5 373.7 1447.6 371.2 1447.7 368.7 1447.8 366.2 1447.9 363.7 1448 361.2 1448 358.7 1448.1 356.2 1448.2 353.7 1448.3 351.2 1448.4 348.7 1448.5 346.2 1448.6 343.7 1448.6 341.2 1448.7 338.7 1448.8 336.2 1448.9 333.8 1449 331.3 1449.1 328.8 1449.2 326.3 1449.2 323.8 1449.3 321.3 1449.4 318.8 1449.5 316.3 1449.6 313.8 1449.6 311.3 1449.7 308.8 1449.8 306.3 1449.9 303.8 1450 301.3 1450.1 298.8 1450.1 296.3 1450.2 293.8 1450.3 291.3 1450.4 288.8 1450.5 286.3 1450.5 283.8 1450.6 281.3 1450.7 278.8 1450.8 276.4 1450.8 273.9 1450.9 271.4 1451 268.9 1451.1 266.4 1451.2 263.9 1451.2 261.4 1451.3 258.9 1451.4 256.4 1451.5 253.9 1451.5 251.4 1451.6 248.9 1451.7 246.4 1451.8 248.9 1451.8 251.4 1451.9 253.9 1452 256.4 1452.1 258.9 1452.2 261.4 1452.2 263.9 1452.3 266.4 1452.4 268.8 1452.5 271.3 1452.6 273.8 1452.7 276.3 1452.7 278.8 1452.8 281.3 1452.9 283.8 1453 286.3 1453.1 288.8 1453.2 291.3 1453.3 293.8 1453.3 296.3 1453.4 298.8 1453.5 301.3 1453.6 303.8 1453.7 306.3 1453.8 308.7 1453.9 311.2 1454 313.7 1454.1 316.2 1454.1 318.7 1454.2 321.2 1454.3 323.7 1454.4 326.2 1454.5 328.7 1454.6 331.2 1454.7 333.7 1454.8 336.2 1454.9 338.7 1455 341.2 1455.1 343.7 1455.2 346.2 1455.3 348.6 1455.4 351.1 1455.4 353.6 1455.5 356.1 1455.6 358.6 1455.7 361.1 1455.8 363.6 1455.9 366.1 1456 368.6 1456.1 371.1 1456.2 373.6 1456.3 376.1 1456.4 378.6 1456.5 381.1 1456.6 383.6 1456.7 386 1456.8 388.5 1456.9 391 1457 393.5 1457.1 396 1457.2 398.5 1457.3 401 1457.4 403.5 1457.5 406 1457.6 408.5 1457.7 411 1457.8 413.5 1457.9 416 1458 418.5 1458.1 421 1458.2 423.4 1458.3 425.9 1458.4 428.4 1458.5 430.9 1458.6 433.4 1458.7 435.9 1458.9 438.4 1459 440.9 1459.1 443.4 1459.2 445.9 1459.3 448.4 1459.4 450.9 1459.5 453.4 1459.6 455.9 1459.7 458.3 1459.8 460.8 1459.9 463.3 1460 465.8 1460.1 468.3 1460.2 470.8 1460.3 473.3 1460.4 475.8 1460.6 478.3 1460.7 480.8 1460.8 483.3 1460.9 485.8 1461 487.5 1461 488.3 1461.1 490.8 1461.2 493.3 1461.3 495.7 1461.4 498.2 1461.5 500.7 1461.6 503.2 1461.8 505.7 1461.9 508.2 1462 510.7 1462.1 513.2 1462.2 515.7 1462.3 518.2 1462.4 520.7 1462.5 523.2 1462.6 525.7 1462.8 528.2 1462.9 530.6 1463 533.1 1463.1 535.6 1463.2 538.1 1463.3 540.6 1463.4 543.1 1463.6 545.6 1463.7 548.1 1463.8 550.6 1463.9 553.1 1464 555.6 1464.2 558.1 1464.3 560.6 1464.4 563 1464.5 565.5 1464.6 568 1464.8 570.5 1464.9 573 1465 575.5 1465.1 578 1465.3 580.5 1465.4 583 1465.5 585.5 1465.6 588 1465.8 590.5 1465.9 593 1466 595.4 1466.2 597.9 1466.3 600.4 1466.4 602.9 1466.6 605.4 1466.7 607.9 1466.8 610.4 1467 612.9 1467.1 615.4 1467.2 617.9 1467.4 620.4 1467.5 622.9 1467.7 625.3 1467.8 627.8 1467.9 630.3 1468 632.1 1468.1 632.8 1468.2 635.3 1468.4 637.8 1468.5 640.3 1468.7 642.8 1468.8 645.3 1469 647.8 1469.1 650.3 1469.3 652.7 1469.4 655.2 1469.6 657.7 1469.7 660.2 1469.9 662.7 1470 665.2 1470.2 667.7 1470.4 670.2 1470.5 672.7 1470.7 675.2 1470.8 677.7 1471 680.1 1471.2 682.6 1471.4 685.1 1471.5 687.6 1471.7 690.1 1471.9 692.6 1472.1 695.1 1472.2 697.6 1472.4 700.1 1472.6 702.5 1472.8 705 1473 707.5 1473.2 710 1473.3 712.5 1473.5 715 1473.7 717.5 1473.9 720 1474.1 722.4 1474.3 724.9 1474.5 727.4 1474.6 728.6 1474.8 729.9 1475 732.4 1475.2 734.9 1475.4 737.4 1475.6 739.8 1475.9 742.3 1476.1 744.8 1476.4 747.3 1476.6 749.8 1476.9 752.3 1477.1 754.7 1477.4 757.2 1477.7 759.7 1477.9 762.2 1478.2 764.7 1478.5 767.2 1478.7 769.6 1479 772.1 1479.2 773.9 1479.3 774.6 1479.6 777.1 1479.9 779.5 1480.2 782 1480.4 784.5 1480.7 787 1481 789.5 1481.3 791.9 1481.6 794.4 1482 796.9 1482.3 799.4 1482.6 801.8 1482.9 804.3 1483.3 806.8 1483.6 809.3 1483.9 811.7 1484.3 814.2 1484.7 816.7 1484.7 817 1485 819.1 1485.4 821.6 1485.8 824.1 1486.2 826.5 1486.6 829 1487 831.5 1487.5 833.9 1487.9 836.4 1488.3 838.8 1488.8 841.3 1489.3 843.7 1489.7 846.2 1490.2 848.6 1490.7 851.1 1491.2 853.5 1491.2 853.7 1491.7 856 1492.2 858.4 1492.7 860.9 1493.2 863.3 1493.7 865.7 1494.3 868.2 1494.8 870.6 1495.4 873 1496 875.5 1496.6 877.9 1497.1 880.3 1497.5 881.8 1497.7 882.7 1498.3 885.2 1498.9 887.6 1499.6 890 1500.2 892.4 1500.8 894.8 1501.5 897.2 1502.1 899.7 1502.8 902.1 1503.4 904.5 1504.1 906.9 1504.8 909.3 1505.4 911.7 1506.1 914.1 1506.8 916.5 1507.4 918.4 1507.5 918.9 1508.2 921.3 1509 923.6 1509.7 926 1510.4 928.4 1511.2 930.8 1511.9 933.2 1512.7 935.6 1513.5 937.9 1514.2 940.3 1515 942.7 1515.8 945 1516.6 947.4 1517.4 949.8 1517.8 950.9 1518.2 952.1 1519 954.5 1519.8 956.9 1520.6 959.3 1521.4 961.6 1522.2 964 1523 966.4 1523.9 968.7 1524.8 971 1525.7 973.3 1526.5 975.1 1526.7 975.6 1527.7 977.9 1528.7 980.1 1529.7 982.4 1530.8 984.7 1531.8 987 1532.9 989.2 1534.1 991.5 1535.2 993.7 1536.4 996 1537.5 998.2 1538.7 1000.5 1540 1002.7 1541.2 1004.9 1542.5 1007.1 1543.7 1009.3 1545 1011.4 1546.3 1013.6 1547.7 1015.7 1549 1017.8 1550.4 1019.9 1551.7 1022 1553.1 1024 1554.5 1026 1556 1028 1557.4 1030 1558.9 1032 1559 1032.2 1560.3 1033.9 1561.8 1035.8 1563.4 1037.8 1564.9 1039.8 1566.5 1041.8 1568.1 1043.8 1569.8 1045.8 1571.4 1047.8 1573.1 1049.8 1574.8 1051.8 1576.5 1053.8 1578.3 1055.8 1580.1 1057.7 1581.9 1059.7 1583.7 1061.6 1585.5 1063.5 1587.4 1065.3 1589.2 1067.1 1591.1 1068.9 1593 1070.6 1594.9 1072.3 1596.9 1074 1598.8 1075.5 1600.8 1077.1 1602.7 1078.5 1604.7 1079.9 1606.7 1081.3 1608.7 1082.5 1610.7 1083.7 1612.7 1084.8 1614.8 1085.9 1616.5 1086.7 1616.8 1086.8 1618.8 1087.7 1620.9 1088.6 1622.9 1089.5 1625 1090.4 1627 1091.3 1629.1 1092.2 1631.2 1093.1 1633.3 1094 1635.4 1094.8 1637.5 1095.7 1639.6 1096.6 1641.7 1097.4 1643.9 1098.3 1646 1099.1 1648.2 1100 1650.3 1100.8 1652.5 1101.6 1654.7 1102.4 1656.9 1103.3 1659.1 1104.1 1661.3 1104.9 1663.5 1105.7 1665.7 1106.5 1667.9 1107.2 1670.2 1108 1672.4 1108.8 1674.7 1109.5 1677 1110.3 1679.2 1111 1681.5 1111.8 1683.8 1112.5 1686.1 1113.2 1688.4 1113.9 1690.8 1114.6 1693.1 1115.3 1695.4 1116 1697.8 1116.7 1700.1 1117.3 1702.5 1118 1704.9 1118.6 1707.3 1119.3 1709.7 1119.9 1712.1 1120.5 1714.5 1121.1 1717 1121.7 1719.4 1122.3 1721.8 1122.9 1724.3 1123.4 1726.8 1124 1729.3 1124.5 1731.7 1125 1734.2 1125.6 1736.8 1126.1 1739.3 1126.5 1741.8 1127 1744.3 1127.5 1746.9 1127.9 1749.5 1128.4 1752 1128.8 1754.6 1129.2 1757.2 1129.6 1759.8 1130 1762.4 1130.4 1765.1 1130.8 1767.7 1131.1 1770.3 1131.5 1773 1131.8 1775.7 1132.1 1778.4 1132.4 1781 1132.7 1783.7 1132.9 1786.5 1133.2 1789.2 1133.4 1791.9 1133.6 1794.7 1133.8 1797.4 1134 1800.2 1134.2 1803 1134.3 1805.8 1134.5 1808.6 1134.6 1811.4 1134.7 1814.2 1134.8 1817 1134.9 1819.9 1134.9 1822.7 1135 1825.6 1135 1828.5 1135" fill="none" stroke="#696969" stroke-width="4.68" stroke-linejoin="round" stroke-dasharray="17.31 7.49"/>
<path d="M624.1 1038.6 625.6 1036.5 627.1 1034.4 628.5 1032.3 630 1030.1 631.5 1028 632.9 1025.9 634.4 1023.8 635.9 1021.7 637.3 1019.5 638.8 1017.4 640.2 1015.3 641.7 1013.1 643.1 1011 644.5 1008.9 646 1006.7 647.4 1004.6 648.8 1002.4 650.2 1000.3 651.6 998.1 653 996 654.4 993.8 655.8 991.7 657.2 989.5 658.5 987.3 659.9 985.2 661.3 983 662.6 980.8 663.9 978.6 665.3 976.5 666.6 974.3 667.9 972.1 669.2 969.9 670.5 967.7 671.8 965.5 673 963.3 674.3 961.1 675.6 958.9 676.8 956.7 678 954.5 679.2 952.3 680.4 950.1 681.6 947.9 682.8 945.7 684 943.4 685.1 941.2 686.3 939 687.4 936.8 688.5 934.5 689.6 932.3 690.7 930 691.8 927.8 692.8 925.6 693.9 923.3 694.9 921.1 695.9 918.8 696.9 916.6 697.9 914.3 698.9 912 699.8 909.8 700.8 907.5 701.7 905.2 702.6 903 703.5 900.7 704.3 898.4 705.2 896.1 706 893.8 706.8 891.5 707.6 889.2 708.4 887 709.1 884.7 709.9 882.4 710.6 880 711.3 877.7 712 875.4 712.6 873.1 713.3 870.8 713.9 868.5 714.4 866.4 714.5 866.2 715.1 863.8 715.6 861.5 716.2 859.2 716.8 856.8 717.3 854.5 717.9 852.1 718.5 849.8 719 847.4 719.5 845 720.1 842.7 720.6 840.3 721.1 837.9 721.7 835.5 722.2 833.2 722.7 830.8 723.2 828.4 723.7 826 724.2 823.6 724.7 821.2 725.2 818.8 725.6 816.3 726.1 813.9 726.6 811.5 727.1 809.1 727.5 806.7 728 804.2 728.4 801.8 728.9 799.4 729.3 796.9 729.8 794.5 730.2 792 730.6 789.6 731.1 787.1 731.5 784.7 731.9 782.2 732.3 779.8 732.8 777.3 733.2 774.8 733.6 772.4 734 769.9 734.4 767.4 734.8 765 735.2 762.5 735.6 760 735.9 757.5 736.3 755 736.7 752.5 737.1 750.1 737.4 747.6 737.8 745.1 738.2 742.6 738.5 740.1 738.9 737.6 739.3 735.1 739.6 732.6 740 730.1 740.3 727.6 740.7 725.1 741 722.6 741.3 720.1 741.7 717.6 742 715.1 742.4 712.6 742.7 710.1 743 707.5 743.3 705 743.7 702.5 744 700 744.3 697.5 744.6 695 744.9 692.5 745.2 690 745.6 687.4 745.9 684.9 746.2 682.4 746.5 679.9 746.8 677.4 747.1 674.9 747.4 672.3 747.7 669.8 748 667.3 748.3 664.8 748.6 662.3 748.9 659.8 749.2 657.3 749.4 654.7 749.7 652.2 750 649.7 750.3 647.2 750.6 644.7 750.9 642.2 751.2 639.7 751.4 637.2 751.7 634.7 752 632.2 752.3 629.7 752.6 627.2 752.8 624.7 753.1 622.2 753.4 619.7 753.7 617.2 754 614.7 754.2 612.2 754.5 609.7 754.8 607.2 755.1 604.7 755.3 602.2 755.6 599.7 755.9 597.2 756.2 594.7 756.4 592.3 756.6 590.8 756.7 589.8 757 587.3 757.2 584.8 757.5 582.4 757.8 579.9 758 577.4 758.3 574.9 758.6 572.4 758.8 570 759.1 567.5 759.3 565 759.6 562.5 759.9 560 760.1 557.5 760.4 555.1 760.6 552.6 760.9 550.1 761.1 547.6 761.3 545.1 761.6 542.6 761.8 540.2 762.1 537.7 762.3 535.2 762.5 532.7 762.8 530.2 763 527.7 763.2 525.3 763.4 522.8 763.7 520.3 763.9 517.8 764.1 515.3 764.3 512.8 764.5 510.3 764.8 507.8 765 505.4 765.2 502.9 765.4 500.4 765.6 497.9 765.8 495.4 766 492.9 766.2 490.4 766.4 487.9 766.6 485.4 766.8 483 767 480.5 767.2 478 767.4 475.5 767.6 473 767.8 470.5 768 468 768.2 465.5 768.3 463 768.5 460.5 768.7 458 768.9 455.5 769 453.1 769.3 455.5 769.6 458 769.9 460.5 770.1 463 770.4 465.5 770.7 468 771 470.5 771.3 473 771.6 475.4 771.9 477.9 772.2 480.4 772.5 482.9 772.8 485.4 773.1 487.9 773.4 490.3 773.7 492.8 774 495.3 774.3 497.8 774.6 500.3 775 502.7 775.3 505.2 775.6 507.7 776 510.2 776.3 512.7 776.6 515.1 777 517.6 777.3 520.1 777.6 522.6 778 525 778.3 527.5 778.7 530 779 532.5 779.4 534.9 779.7 537.4 780.1 539.9 780.5 542.4 780.8 544.8 781.2 547.3 781.6 549.8 781.9 552.2 782.3 554.7 782.7 557.2 783.1 559.6 783.5 562.1 783.8 564.6 784.2 567 784.6 569.5 785 572 785.4 574.4 785.8 576.9 786.2 579.4 786.6 581.8 787 584.3 787.4 586.7 787.8 589.2 788.2 591.6 788.2 591.7 788.6 594.1 789 596.6 789.5 599 789.9 601.5 790.3 604 790.7 606.4 791.1 608.9 791.5 611.4 792 613.8 792.4 616.3 792.8 618.8 793.2 621.3 793.7 623.7 794.1 626.2 794.5 628.7 795 631.1 795.4 633.6 795.9 636.1 796.3 638.6 796.7 641 797.2 643.5 797.6 646 798.1 648.5 798.6 650.9 799 653.4 799.5 655.9 799.9 658.4 800.4 660.8 800.9 663.3 801.3 665.8 801.8 668.2 802.3 670.7 802.8 673.2 803.2 675.7 803.7 678.1 804.2 680.6 804.7 683.1 805.2 685.5 805.7 688 806.2 690.5 806.7 692.9 807.2 695.4 807.7 697.9 808.2 700.3 808.7 702.8 809.3 705.2 809.8 707.7 810.3 710.2 810.8 712.6 811.4 715.1 811.9 717.5 812.5 720 813 722.4 813.6 724.9 814.1 727.3 814.7 729.8 815.2 732.2 815.8 734.6 816.4 737.1 816.9 739.5 817.5 741.9 818.1 744.4 818.7 746.8 819.3 749.2 819.9 751.7 820.5 754.1 821.1 756.5 821.7 758.9 822.3 761.3 822.9 763.7 823.6 766.1 824.2 768.6 824.8 771 825.5 773.4 826.1 775.8 826.8 778.1 827.4 780.5 828.1 782.9 828.7 785.3 829.4 787.7 830.1 790.1 830.8 792.4 831.4 794.8 832.1 797.2 832.8 799.5 833.5 801.9 834.2 804.3 834.9 806.6 835.7 809 836.3 810.9 836.4 811.3 837.1 813.7 837.9 816 838.6 818.3 839.4 820.7 840.2 823 841 825.4 841.9 827.7 842.7 830 843.6 832.4 844.5 834.7 845.3 837 846.2 839.3 847.2 841.7 848.1 844 849 846.3 850 848.6 850.9 850.9 851.9 853.2 852.9 855.5 853.9 857.9 854.9 860.2 855.9 862.5 856.9 864.8 858 867 859 869.3 860.1 871.6 861.2 873.9 862.2 876.2 863.3 878.5 864.4 880.7 865.5 883 866.6 885.3 867.8 887.5 868.9 889.8 870 892.1 871.2 894.3 872.3 896.6 873.5 898.8 874.6 901 875.8 903.3 877 905.5 878.1 907.7 879.3 910 880.5 912.2 881.7 914.4 882.9 916.6 884.1 918.8 885.3 921 886.5 923.2 887.7 925.4 889 927.6 890.2 929.7 891.4 931.9 892.6 934.1 893.8 936.2 895.1 938.4 896.3 940.5 896.4 940.6 897.5 942.7 898.8 944.8 900.1 946.9 901.4 949.1 902.7 951.2 904.1 953.3 905.4 955.4 906.8 957.5 908.2 959.6 909.6 961.6 911 963.7 912.4 965.8 913.9 967.8 915.3 969.9 916.8 971.9 918.3 973.9 919.7 976 921.2 978 922.7 980 924.2 982 925.7 984 927.2 985.9 927.3 986 928.8 987.9 930.4 989.9 931.9 991.8 933.6 993.7 935.2 995.6 936.4 996.9 936.9 997.5 938.6 999.3 940.3 1001.1 942 1002.9 943.8 1004.7 945.6 1006.4 947.4 1008.1 949.2 1009.9 951 1011.6 951.8 1012.3 952.9 1013.2 954.8 1014.9 956.7 1016.5 958.6 1018.1 960.5 1019.7 962.5 1021.3 964.4 1022.9 966.3 1024.4 968.3 1026 968.6 1026.3 970.2 1027.6 972.2 1029.1 974.1 1030.7 976.1 1032.3 978 1033.8 980 1035.4 981.9 1036.9 983.9 1038.5 985.9 1040 987.8 1041.6 989.8 1043.1 990.1 1043.4 991.7 1044.7 993.7 1046.3 995.6 1047.9 997.5 1049.4 999.5 1051 1001.4 1052.6 1003.3 1054.2 1005.3 1055.8 1007.2 1057.4 1009.2 1058.9 1011.1 1060.5 1013.1 1062 1015.1 1063.5 1016.6 1064.6 1017.1 1064.9 1019.1 1066.4 1021.2 1067.8 1023.2 1069.3 1025.3 1070.7 1027.4 1072.1 1029.5 1073.5 1031.6 1074.8 1033.7 1076.2 1035.8 1077.5 1036.4 1077.9 1037.9 1078.8 1040 1080.1 1042.2 1081.4 1044.4 1082.6 1046.5 1083.8 1048.7 1085.1 1050.9 1086.3 1053.1 1087.5 1055.3 1088.7 1057.5 1089.9 1059.5 1091 1059.7 1091.1 1061.8 1092.3 1064 1093.5 1066.2 1094.7 1068.4 1095.9 1070.6 1097.1 1072.8 1098.3 1075 1099.4 1075.9 1099.9 1077.3 1100.6 1079.5 1101.7 1081.7 1102.8 1083.9 1104 1086.2 1105.1 1088.4 1106.2 1090.7 1107.4 1092.9 1108.5 1095.1 1109.6 1097.4 1110.7 1099.7 1111.8 1101.9 1112.8 1104.2 1113.9 1106.5 1114.9 1108.8 1115.9 1111 1116.9 1113.3 1117.8 1115.7 1118.8 1115.7 1118.8 1118 1119.7 1120.3 1120.6 1122.6 1121.4 1125 1122.3 1127.3 1123.2 1129.7 1124 1132 1124.8 1134.4 1125.6 1136.8 1126.4 1139.2 1127.2 1141.6 1128 1143.9 1128.7 1146.3 1129.4 1148.7 1130.1 1151 1130.8 1151.1 1130.8 1153.5 1131.5 1155.9 1132.2 1158.4 1132.8 1160.8 1133.4 1163.2 1134 1165.6 1134.6 1168.1 1135.1 1169.9 1135.5 1170.5 1135.7 1173 1136.2 1175.4 1136.7 1177.9 1137.1 1180.3 1137.6 1182.8 1138.1 1185.3 1138.5 1187.7 1138.9 1190.2 1139.3 1192.7 1139.7 1195.1 1140 1196.2 1140.1 1197.6 1140.3 1200.1 1140.5 1202.6 1140.8 1205.1 1141 1207.6 1141.2 1210.1 1141.4 1211.2 1141.5 1212.6 1141.5 1215.1 1141.6 1217.6 1141.7 1220.1 1141.8 1222.6 1141.9 1225.1 1141.9 1226.3 1141.9 1227.5 1141.9 1230 1141.9 1232.5 1141.8 1235 1141.7 1237.5 1141.6 1240 1141.5 1241.4 1141.5 1242.5 1141.4 1245 1141.2 1247.5 1141 1250 1140.8 1252.5 1140.5 1255 1140.3 1256.4 1140.1 1257.5 1140 1259.9 1139.7 1262.4 1139.3 1264.9 1138.9 1267.3 1138.5 1269.8 1138.1 1272.3 1137.6 1274.7 1137.1 1277.2 1136.7 1279.6 1136.2 1282.1 1135.7 1282.7 1135.5 1284.5 1135.1 1287 1134.6 1289.4 1134 1291.8 1133.4 1294.2 1132.8 1296.7 1132.2 1299.1 1131.5 1301.5 1130.8 1301.6 1130.8 1303.9 1130.1 1306.3 1129.4 1308.7 1128.7 1311 1128 1313.4 1127.2 1315.8 1126.4 1318.2 1125.6 1320.6 1124.8 1322.9 1124 1325.3 1123.2 1327.6 1122.3 1330 1121.4 1332.3 1120.6 1334.6 1119.7 1336.9 1118.8 1336.9 1118.8 1339.3 1117.8 1341.6 1116.9 1343.8 1115.9 1346.1 1114.9 1348.4 1113.9 1350.7 1112.8 1352.9 1111.8 1355.2 1110.7 1357.5 1109.6 1359.7 1108.5 1361.9 1107.4 1364.2 1106.2 1366.4 1105.1 1368.7 1104 1370.9 1102.8 1373.1 1101.7 1375.3 1100.6 1376.7 1099.9 1377.6 1099.4 1379.8 1098.3 1382 1097.1 1384.2 1095.9 1386.4 1094.7 1388.6 1093.5 1390.8 1092.3 1392.9 1091.1 1393.1 1091 1395.1 1089.9 1397.3 1088.7 1399.5 1087.5 1401.7 1086.3 1403.9 1085.1 1406.1 1083.8 1408.2 1082.6 1410.4 1081.4 1412.6 1080.1 1414.7 1078.8 1416.2 1077.9 1416.8 1077.5 1418.9 1076.2 1421 1074.8 1423.1 1073.5 1425.2 1072.1 1427.3 1070.7 1429.4 1069.3 1431.4 1067.8 1433.5 1066.4 1435.5 1064.9 1436 1064.6 1437.5 1063.5 1439.5 1062 1441.5 1060.5 1443.4 1058.9 1445.4 1057.4 1447.3 1055.8 1449.3 1054.2 1451.2 1052.6 1453.1 1051 1455.1 1049.4 1457 1047.9 1458.9 1046.3 1460.9 1044.7 1462.5 1043.4 1462.8 1043.1 1464.8 1041.6 1466.7 1040 1468.7 1038.5 1470.7 1036.9 1472.6 1035.4 1474.6 1033.8 1476.5 1032.3 1478.5 1030.7 1480.4 1029.1 1482.4 1027.6 1484 1026.3 1484.3 1026 1486.3 1024.4 1488.2 1022.9 1490.1 1021.3 1492.1 1019.7 1494 1018.1 1495.9 1016.5 1497.8 1014.9 1499.7 1013.2 1500.8 1012.3 1501.6 1011.6 1503.4 1009.9 1505.2 1008.1 1507 1006.4 1508.8 1004.7 1510.6 1002.9 1512.3 1001.1 1514 999.3 1515.7 997.5 1516.2 996.9 1517.4 995.6 1519 993.7 1520.7 991.8 1522.2 989.9 1523.8 987.9 1525.3 986 1525.4 985.9 1526.9 984 1528.4 982 1529.9 980 1531.4 978 1532.9 976 1534.3 973.9 1535.8 971.9 1537.3 969.9 1538.7 967.8 1540.2 965.8 1541.6 963.7 1543 961.6 1544.4 959.6 1545.8 957.5 1547.2 955.4 1548.5 953.3 1549.9 951.2 1551.2 949.1 1552.5 946.9 1553.8 944.8 1555.1 942.7 1556.2 940.6 1556.3 940.5 1557.5 938.4 1558.8 936.2 1560 934.1 1561.2 931.9 1562.4 929.7 1563.6 927.6 1564.9 925.4 1566.1 923.2 1567.3 921 1568.5 918.8 1569.7 916.6 1570.9 914.4 1572.1 912.2 1573.3 910 1574.5 907.7 1575.6 905.5 1576.8 903.3 1578 901 1579.1 898.8 1580.3 896.6 1581.4 894.3 1582.6 892.1 1583.7 889.8 1584.8 887.5 1586 885.3 1587.1 883 1588.2 880.7 1589.3 878.5 1590.4 876.2 1591.4 873.9 1592.5 871.6 1593.6 869.3 1594.6 867 1595.7 864.8 1596.7 862.5 1597.7 860.2 1598.7 857.9 1599.7 855.5 1600.7 853.2 1601.7 850.9 1602.6 848.6 1603.6 846.3 1604.5 844 1605.4 841.7 1606.4 839.3 1607.3 837 1608.1 834.7 1609 832.4 1609.9 830 1610.7 827.7 1611.6 825.4 1612.4 823 1613.2 820.7 1614 818.3 1614.7 816 1615.5 813.7 1616.2 811.3 1616.3 810.9 1616.9 809 1617.7 806.6 1618.4 804.3 1619.1 801.9 1619.8 799.5 1620.5 797.2 1621.2 794.8 1621.8 792.4 1622.5 790.1 1623.2 787.7 1623.9 785.3 1624.5 782.9 1625.2 780.5 1625.8 778.1 1626.5 775.8 1627.1 773.4 1627.8 771 1628.4 768.6 1629 766.1 1629.7 763.7 1630.3 761.3 1630.9 758.9 1631.5 756.5 1632.1 754.1 1632.7 751.7 1633.3 749.2 1633.9 746.8 1634.5 744.4 1635.1 741.9 1635.7 739.5 1636.2 737.1 1636.8 734.6 1637.4 732.2 1637.9 729.8 1638.5 727.3 1639 724.9 1639.6 722.4 1640.1 720 1640.7 717.5 1641.2 715.1 1641.8 712.6 1642.3 710.2 1642.8 707.7 1643.3 705.2 1643.9 702.8 1644.4 700.3 1644.9 697.9 1645.4 695.4 1645.9 692.9 1646.4 690.5 1646.9 688 1647.4 685.5 1647.9 683.1 1648.4 680.6 1648.9 678.1 1649.4 675.7 1649.8 673.2 1650.3 670.7 1650.8 668.2 1651.3 665.8 1651.7 663.3 1652.2 660.8 1652.7 658.4 1653.1 655.9 1653.6 653.4 1654 650.9 1654.5 648.5 1655 646 1655.4 643.5 1655.9 641 1656.3 638.6 1656.7 636.1 1657.2 633.6 1657.6 631.1 1658.1 628.7 1658.5 626.2 1658.9 623.7 1659.4 621.3 1659.8 618.8 1660.2 616.3 1660.6 613.8 1661.1 611.4 1661.5 608.9 1661.9 606.4 1662.3 604 1662.7 601.5 1663.1 599 1663.6 596.6 1664 594.1 1664.4 591.7 1664.4 591.6 1664.8 589.2 1665.2 586.7 1665.6 584.3 1666 581.8 1666.4 579.4 1666.8 576.9 1667.2 574.4 1667.6 572 1668 569.5 1668.4 567 1668.8 564.6 1669.1 562.1 1669.5 559.6 1669.9 557.2 1670.3 554.7 1670.7 552.2 1671 549.8 1671.4 547.3 1671.8 544.8 1672.1 542.4 1672.5 539.9 1672.9 537.4 1673.2 534.9 1673.6 532.5 1673.9 530 1674.3 527.5 1674.6 525 1675 522.6 1675.3 520.1 1675.6 517.6 1676 515.1 1676.3 512.7 1676.6 510.2 1677 507.7 1677.3 505.2 1677.6 502.7 1678 500.3 1678.3 497.8 1678.6 495.3 1678.9 492.8 1679.2 490.3 1679.5 487.9 1679.8 485.4 1680.1 482.9 1680.4 480.4 1680.7 477.9 1681 475.4 1681.3 473 1681.6 470.5 1681.9 468 1682.2 465.5 1682.5 463 1682.7 460.5 1683 458 1683.3 455.5 1683.6 453.1 1683.7 455.5 1683.9 458 1684.1 460.5 1684.3 463 1684.4 465.5 1684.6 468 1684.8 470.5 1685 473 1685.2 475.5 1685.4 478 1685.6 480.5 1685.8 483 1686 485.4 1686.2 487.9 1686.4 490.4 1686.6 492.9 1686.8 495.4 1687 497.9 1687.2 500.4 1687.4 502.9 1687.6 505.4 1687.8 507.8 1688.1 510.3 1688.3 512.8 1688.5 515.3 1688.7 517.8 1688.9 520.3 1689.2 522.8 1689.4 525.3 1689.6 527.7 1689.8 530.2 1690.1 532.7 1690.3 535.2 1690.5 537.7 1690.8 540.2 1691 542.6 1691.3 545.1 1691.5 547.6 1691.7 550.1 1692 552.6 1692.2 555.1 1692.5 557.5 1692.7 560 1693 562.5 1693.3 565 1693.5 567.5 1693.8 570 1694 572.4 1694.3 574.9 1694.6 577.4 1694.8 579.9 1695.1 582.4 1695.4 584.8 1695.6 587.3 1695.9 589.8 1696 590.8 1696.2 592.3 1696.4 594.7 1696.7 597.2 1697 599.7 1697.3 602.2 1697.5 604.7 1697.8 607.2 1698.1 609.7 1698.4 612.2 1698.6 614.7 1698.9 617.2 1699.2 619.7 1699.5 622.2 1699.8 624.7 1700 627.2 1700.3 629.7 1700.6 632.2 1700.9 634.7 1701.2 637.2 1701.4 639.7 1701.7 642.2 1702 644.7 1702.3 647.2 1702.6 649.7 1702.9 652.2 1703.2 654.7 1703.4 657.3 1703.7 659.8 1704 662.3 1704.3 664.8 1704.6 667.3 1704.9 669.8 1705.2 672.3 1705.5 674.9 1705.8 677.4 1706.1 679.9 1706.4 682.4 1706.7 684.9 1707 687.4 1707.4 690 1707.7 692.5 1708 695 1708.3 697.5 1708.6 700 1708.9 702.5 1709.3 705 1709.6 707.5 1709.9 710.1 1710.2 712.6 1710.6 715.1 1710.9 717.6 1711.3 720.1 1711.6 722.6 1711.9 725.1 1712.3 727.6 1712.6 730.1 1713 732.6 1713.3 735.1 1713.7 737.6 1714.1 740.1 1714.4 742.6 1714.8 745.1 1715.2 747.6 1715.5 750.1 1715.9 752.5 1716.3 755 1716.7 757.5 1717 760 1717.4 762.5 1717.8 765 1718.2 767.4 1718.6 769.9 1719 772.4 1719.4 774.8 1719.8 777.3 1720.3 779.8 1720.7 782.2 1721.1 784.7 1721.5 787.1 1722 789.6 1722.4 792 1722.8 794.5 1723.3 796.9 1723.7 799.4 1724.2 801.8 1724.6 804.2 1725.1 806.7 1725.5 809.1 1726 811.5 1726.5 813.9 1727 816.3 1727.4 818.8 1727.9 821.2 1728.4 823.6 1728.9 826 1729.4 828.4 1729.9 830.8 1730.4 833.2 1730.9 835.5 1731.5 837.9 1732 840.3 1732.5 842.7 1733.1 845 1733.6 847.4 1734.1 849.8 1734.7 852.1 1735.3 854.5 1735.8 856.8 1736.4 859.2 1737 861.5 1737.5 863.8 1738.1 866.2 1738.2 866.4 1738.7 868.5 1739.3 870.8 1740 873.1 1740.6 875.4 1741.3 877.7 1742 880 1742.7 882.4 1743.5 884.7 1744.2 887 1745 889.2 1745.8 891.5 1746.6 893.8 1747.4 896.1 1748.3 898.4 1749.1 900.7 1750 903 1750.9 905.2 1751.8 907.5 1752.8 909.8 1753.7 912 1754.7 914.3 1755.7 916.6 1756.7 918.8 1757.7 921.1 1758.7 923.3 1759.8 925.6 1760.8 927.8 1761.9 930 1763 932.3 1764.1 934.5 1765.2 936.8 1766.3 939 1767.5 941.2 1768.6 943.4 1769.8 945.7 1771 947.9 1772.2 950.1 1773.4 952.3 1774.6 954.5 1775.8 956.7 1777 958.9 1778.3 961.1 1779.6 963.3 1780.8 965.5 1782.1 967.7 1783.4 969.9 1784.7 972.1 1786 974.3 1787.3 976.5 1788.7 978.6 1790 980.8 1791.3 983 1792.7 985.2 1794.1 987.3 1795.4 989.5 1796.8 991.7 1798.2 993.8 1799.6 996 1801 998.1 1802.4 1000.3 1803.8 1002.4 1805.2 1004.6 1806.6 1006.7 1808.1 1008.9 1809.5 1011 1810.9 1013.1 1812.4 1015.3 1813.8 1017.4 1815.3 1019.5 1816.7 1021.7 1818.2 1023.8 1819.7 1025.9 1821.1 1028 1822.6 1030.1 1824.1 1032.3 1825.5 1034.4 1827 1036.5 1828.5 1038.6" fill="none" stroke="#a9a9a9" stroke-width="4.68" stroke-linejoin="round" stroke-dasharray="29.94 7.49 4.68 7.49" stroke-dashoffset="14.5"/>
</g>
<path d="M925.2 1210.8v10.92M1075.75 1210.8v10.92M1226.3 1210.8v10.92M1376.85 1210.8v10.92M1527.4 1210.8v10.92M925.2 1210.8h-10.92M925.2 1141.91h-10.92M925.2 1073.03h-10.92M925.2 1004.14h-10.92M925.2 935.26h-10.92M925.2 866.37h-10.92M925.2 797.49h-10.92M925.2 728.6h-10.92" stroke="#000" stroke-width="2.5" fill="none"/>
<rect x="925.2" y="728.6" width="602.2" height="482.2" fill="none" stroke="#000" stroke-width="2.5" stroke-linejoin="miter"/>
<g class="tk" text-anchor="middle">
<text x="925.2" y="1256.5">−1.0</text>
<text x="1075.75" y="1256.5">−0.5</text>
<text x="1226.3" y="1256.5">0.0</text>
<text x="1376.85" y="1256.5">0.5</text>
<text x="1527.4" y="1256.5">1.0</text>
</g>
<g class="tk" text-anchor="end">
<text x="903.4" y="1222.7">−0.1</text>
<text x="903.4" y="1153.81">0.0</text>
<text x="903.4" y="1084.93">0.1</text>
<text x="903.4" y="1016.04">0.2</text>
<text x="903.4" y="947.16">0.3</text>
<text x="903.4" y="878.27">0.4</text>
<text x="903.4" y="809.39">0.5</text>
<text x="903.4" y="740.5">0.6</text>
</g>
<text class="tk" text-anchor="middle" x="1226.3" y="1298.9">H</text>
<text class="tk" text-anchor="middle" transform="translate(809 969.7) rotate(-90)">C</text>
</g>
<g id="leg2">
<path d="M166.1 162.1H228.48" stroke="#000000" stroke-width="4.68" stroke-linecap="square" fill="none"/>
<text class="tk" x="253.9" y="172"><tspan class="it2">β</tspan>J=0.025</text>
<path d="M166.1 211.9H228.48" stroke="#696969" stroke-width="4.68" stroke-dasharray="17.31 7.49" fill="none"/>
<text class="tk" x="253.9" y="221.9"><tspan class="it2">β</tspan>J=0.010</text>
<path d="M166.1 261.7H228.48" stroke="#a9a9a9" stroke-width="4.68" stroke-dasharray="29.94 7.49 4.68 7.49" fill="none"/>
<text class="tk" x="253.9" y="271.7"><tspan class="it2">β</tspan>J=0.005</text>
</g>
<g id="leg1">
<rect x="326" y="0.8" width="1013.3" height="81.2" rx="5" ry="5" fill="#fff" stroke="#000" stroke-width="3.9"/>
<path transform="translate(361 21.7)" d="M-9.36 -9.36L9.36 9.36M-9.36 9.36L9.36 -9.36" fill="none" stroke="#000000" stroke-width="3.12" stroke-linejoin="miter"/>
<text class="lg" transform="translate(405.4 30.7) scale(1.003 1.045)">J=0.01,n=20,T=0.4</text>
<path transform="translate(361 58.3)" d="M-9.36 -9.36H9.36V9.36H-9.36Z" fill="none" stroke="#000000" stroke-width="3.12" stroke-linejoin="miter"/>
<text class="lg" transform="translate(405.4 67.2) scale(1.003 1.045)">J=0.01,n=50,T=0.4</text>
<path transform="translate(724.5 21.7)" d="M-10.92 0H10.92M0 -10.92V10.92" fill="none" stroke="#696969" stroke-width="3.12" stroke-linejoin="miter"/>
<text class="lg" transform="translate(768.9 30.7) scale(1.003 1.045)">J=0.01,n=20,T=1</text>
<path transform="translate(724.5 58.3)" d="M-10.92 0A10.92 10.92 0 1 0 10.92 0A10.92 10.92 0 1 0 -10.92 0Z" fill="none" stroke="#696969" stroke-width="3.12" stroke-linejoin="round"/>
<text class="lg" transform="translate(768.9 67.2) scale(1.003 1.045)">J=0.01,n=50,T=1</text>
<path transform="translate(1064.5 21.7)" d="M0 -10.92L-2.45 -3.37L-10.38 -3.37L-3.97 1.29L-6.42 8.83L-0 4.17L6.42 8.83L3.97 1.29L10.38 -3.37L2.45 -3.37Z" fill="none" stroke="#a9a9a9" stroke-width="3.12" stroke-linejoin="bevel"/>
<text class="lg" transform="translate(1108.9 30.7) scale(1.003 1.045)">J=0.01,n=20,T=2</text>
<path transform="translate(1064.5 58.3)" d="M0 -15.44L15.44 0L0 15.44L-15.44 0Z" fill="none" stroke="#a9a9a9" stroke-width="3.12" stroke-linejoin="miter"/>
<text class="lg" transform="translate(1108.9 67.2) scale(1.003 1.045)">J=0.01,n=50,T=2</text>
</g>
</svg>
</body>
</html>
